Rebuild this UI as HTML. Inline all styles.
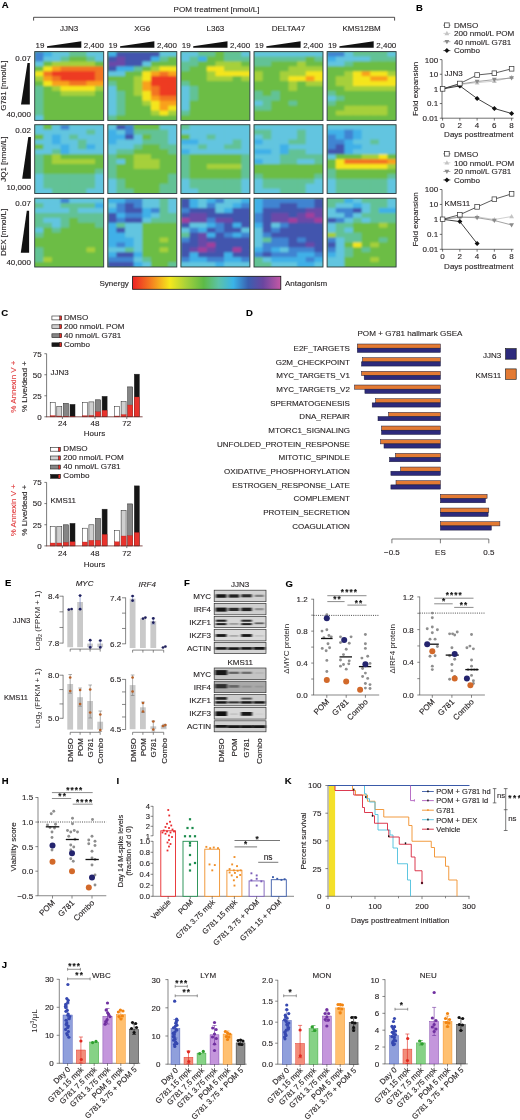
<!DOCTYPE html>
<html lang="en"><head><meta charset="utf-8"><title>Figure</title>
<style>
html,body{margin:0;padding:0;background:#fff;}
body{width:520px;height:1120px;overflow:hidden;}
svg{display:block;font-family:"Liberation Sans",Arial,sans-serif;}
</style></head><body>
<svg width="520" height="1120" viewBox="0 0 520 1120">
<rect width="520" height="1120" fill="#fff"/>
<defs><filter id="hb" x="-5%" y="-5%" width="110%" height="110%"><feGaussianBlur stdDeviation="0.9"/></filter>
<clipPath id="hc0"><rect x="34.7" y="51.6" width="69.0" height="68.8"/></clipPath>
<clipPath id="hc1"><rect x="107.8" y="51.6" width="69.0" height="68.8"/></clipPath>
<clipPath id="hc2"><rect x="180.9" y="51.6" width="69.0" height="68.8"/></clipPath>
<clipPath id="hc3"><rect x="254.0" y="51.6" width="69.0" height="68.8"/></clipPath>
<clipPath id="hc4"><rect x="327.1" y="51.6" width="69.0" height="68.8"/></clipPath>
<clipPath id="hc5"><rect x="34.7" y="124.7" width="69.0" height="68.8"/></clipPath>
<clipPath id="hc6"><rect x="107.8" y="124.7" width="69.0" height="68.8"/></clipPath>
<clipPath id="hc7"><rect x="180.9" y="124.7" width="69.0" height="68.8"/></clipPath>
<clipPath id="hc8"><rect x="254.0" y="124.7" width="69.0" height="68.8"/></clipPath>
<clipPath id="hc9"><rect x="327.1" y="124.7" width="69.0" height="68.8"/></clipPath>
<clipPath id="hc10"><rect x="34.7" y="198.2" width="69.0" height="68.8"/></clipPath>
<clipPath id="hc11"><rect x="107.8" y="198.2" width="69.0" height="68.8"/></clipPath>
<clipPath id="hc12"><rect x="180.9" y="198.2" width="69.0" height="68.8"/></clipPath>
<clipPath id="hc13"><rect x="254.0" y="198.2" width="69.0" height="68.8"/></clipPath>
<clipPath id="hc14"><rect x="327.1" y="198.2" width="69.0" height="68.8"/></clipPath>
<linearGradient id="cb" x1="0" x2="1" y1="0" y2="0"><stop offset="0" stop-color="#ed2224"/><stop offset="0.12" stop-color="#f47b20"/><stop offset="0.25" stop-color="#f6e81c"/><stop offset="0.36" stop-color="#a8d13a"/><stop offset="0.48" stop-color="#5dba47"/><stop offset="0.58" stop-color="#5cc3a8"/><stop offset="0.68" stop-color="#3ab4e8"/><stop offset="0.78" stop-color="#3a5fb0"/><stop offset="0.88" stop-color="#6a46a0"/><stop offset="1" stop-color="#c558a5"/></linearGradient>
</defs>
<text x="1.80" y="8.00" font-size="9.5" font-weight="bold" fill="#000" stroke="#000" stroke-width="0.12">A</text>
<text x="173.50" y="11.60" font-size="8.1" fill="#231f20" stroke="#231f20" stroke-width="0.12">POM treatment [nmol/L]</text>
<path d="M33.6 20.6 V17.3 H394.6 V20.6" fill="none" stroke="#231f20" stroke-width="0.8"/>
<text x="69.20" y="30.60" font-size="8" text-anchor="middle" fill="#231f20" stroke="#231f20" stroke-width="0.12">JJN3</text>
<text x="35.50" y="48.30" font-size="8" fill="#231f20" stroke="#231f20" stroke-width="0.12">19</text>
<text x="103.90" y="48.30" font-size="8" text-anchor="end" fill="#231f20" stroke="#231f20" stroke-width="0.12">2,400</text>
<polygon points="47.0,47.7 81.3,47.7 81.3,41.2 47.0,46.3" fill="#111"/>
<text x="142.30" y="30.60" font-size="8" text-anchor="middle" fill="#231f20" stroke="#231f20" stroke-width="0.12">XG6</text>
<text x="108.60" y="48.30" font-size="8" fill="#231f20" stroke="#231f20" stroke-width="0.12">19</text>
<text x="177.00" y="48.30" font-size="8" text-anchor="end" fill="#231f20" stroke="#231f20" stroke-width="0.12">2,400</text>
<polygon points="120.1,47.7 154.4,47.7 154.4,41.2 120.1,46.3" fill="#111"/>
<text x="215.40" y="30.60" font-size="8" text-anchor="middle" fill="#231f20" stroke="#231f20" stroke-width="0.12">L363</text>
<text x="181.70" y="48.30" font-size="8" fill="#231f20" stroke="#231f20" stroke-width="0.12">19</text>
<text x="250.10" y="48.30" font-size="8" text-anchor="end" fill="#231f20" stroke="#231f20" stroke-width="0.12">2,400</text>
<polygon points="193.2,47.7 227.5,47.7 227.5,41.2 193.2,46.3" fill="#111"/>
<text x="288.50" y="30.60" font-size="8" text-anchor="middle" fill="#231f20" stroke="#231f20" stroke-width="0.12">DELTA47</text>
<text x="254.80" y="48.30" font-size="8" fill="#231f20" stroke="#231f20" stroke-width="0.12">19</text>
<text x="323.20" y="48.30" font-size="8" text-anchor="end" fill="#231f20" stroke="#231f20" stroke-width="0.12">2,400</text>
<polygon points="266.3,47.7 300.6,47.7 300.6,41.2 266.3,46.3" fill="#111"/>
<text x="361.60" y="30.60" font-size="8" text-anchor="middle" fill="#231f20" stroke="#231f20" stroke-width="0.12">KMS12BM</text>
<text x="327.90" y="48.30" font-size="8" fill="#231f20" stroke="#231f20" stroke-width="0.12">19</text>
<text x="396.30" y="48.30" font-size="8" text-anchor="end" fill="#231f20" stroke="#231f20" stroke-width="0.12">2,400</text>
<polygon points="339.4,47.7 373.7,47.7 373.7,41.2 339.4,46.3" fill="#111"/>
<g clip-path="url(#hc0)"><g filter="url(#hb)">
<rect x="32.70" y="49.60" width="73.00" height="72.80" fill="#6cbd45"/>
<rect x="34.70" y="51.60" width="9.32" height="5.61" fill="#3f84d2"/>
<rect x="43.33" y="51.60" width="9.32" height="5.61" fill="#3fb0e8"/>
<rect x="51.95" y="51.60" width="9.32" height="5.61" fill="#62c5e0"/>
<rect x="60.58" y="51.60" width="9.32" height="5.61" fill="#62c5e0"/>
<rect x="69.20" y="51.60" width="9.32" height="5.61" fill="#62c296"/>
<rect x="77.83" y="51.60" width="9.32" height="5.61" fill="#62c296"/>
<rect x="86.45" y="51.60" width="9.32" height="5.61" fill="#62c5e0"/>
<rect x="95.08" y="51.60" width="9.32" height="5.61" fill="#62c5e0"/>
<rect x="34.70" y="56.51" width="9.32" height="5.61" fill="#3f84d2"/>
<rect x="43.33" y="56.51" width="9.32" height="5.61" fill="#62c5e0"/>
<rect x="51.95" y="56.51" width="9.32" height="5.61" fill="#62c5e0"/>
<rect x="60.58" y="56.51" width="9.32" height="5.61" fill="#62c296"/>
<rect x="69.20" y="56.51" width="9.32" height="5.61" fill="#6cbd45"/>
<rect x="77.83" y="56.51" width="9.32" height="5.61" fill="#6cbd45"/>
<rect x="86.45" y="56.51" width="9.32" height="5.61" fill="#62c296"/>
<rect x="95.08" y="56.51" width="9.32" height="5.61" fill="#62c5e0"/>
<rect x="34.70" y="61.43" width="9.32" height="5.61" fill="#62c5e0"/>
<rect x="43.33" y="61.43" width="9.32" height="5.61" fill="#6cbd45"/>
<rect x="51.95" y="61.43" width="9.32" height="5.61" fill="#a6d03b"/>
<rect x="60.58" y="61.43" width="9.32" height="5.61" fill="#a6d03b"/>
<rect x="69.20" y="61.43" width="9.32" height="5.61" fill="#a6d03b"/>
<rect x="77.83" y="61.43" width="9.32" height="5.61" fill="#a6d03b"/>
<rect x="86.45" y="61.43" width="9.32" height="5.61" fill="#a6d03b"/>
<rect x="95.08" y="61.43" width="9.32" height="5.61" fill="#6cbd45"/>
<rect x="34.70" y="66.34" width="9.32" height="5.61" fill="#6cbd45"/>
<rect x="43.33" y="66.34" width="9.32" height="5.61" fill="#f5e51c"/>
<rect x="51.95" y="66.34" width="9.32" height="5.61" fill="#f9a11b"/>
<rect x="60.58" y="66.34" width="9.32" height="5.61" fill="#f37520"/>
<rect x="69.20" y="66.34" width="9.32" height="5.61" fill="#f37520"/>
<rect x="77.83" y="66.34" width="9.32" height="5.61" fill="#f37520"/>
<rect x="86.45" y="66.34" width="9.32" height="5.61" fill="#f37520"/>
<rect x="95.08" y="66.34" width="9.32" height="5.61" fill="#f37520"/>
<rect x="34.70" y="71.26" width="9.32" height="5.61" fill="#f5e51c"/>
<rect x="43.33" y="71.26" width="9.32" height="5.61" fill="#f37520"/>
<rect x="51.95" y="71.26" width="9.32" height="5.61" fill="#ee3a24"/>
<rect x="60.58" y="71.26" width="9.32" height="5.61" fill="#ee3a24"/>
<rect x="69.20" y="71.26" width="9.32" height="5.61" fill="#ee3a24"/>
<rect x="77.83" y="71.26" width="9.32" height="5.61" fill="#ee3a24"/>
<rect x="86.45" y="71.26" width="9.32" height="5.61" fill="#ee3a24"/>
<rect x="95.08" y="71.26" width="9.32" height="5.61" fill="#f37520"/>
<rect x="34.70" y="76.17" width="9.32" height="5.61" fill="#a6d03b"/>
<rect x="43.33" y="76.17" width="9.32" height="5.61" fill="#f9a11b"/>
<rect x="51.95" y="76.17" width="9.32" height="5.61" fill="#f37520"/>
<rect x="60.58" y="76.17" width="9.32" height="5.61" fill="#ee3a24"/>
<rect x="69.20" y="76.17" width="9.32" height="5.61" fill="#ee3a24"/>
<rect x="77.83" y="76.17" width="9.32" height="5.61" fill="#ee3a24"/>
<rect x="86.45" y="76.17" width="9.32" height="5.61" fill="#ee3a24"/>
<rect x="95.08" y="76.17" width="9.32" height="5.61" fill="#f37520"/>
<rect x="34.70" y="81.09" width="9.32" height="5.61" fill="#6cbd45"/>
<rect x="43.33" y="81.09" width="9.32" height="5.61" fill="#f5e51c"/>
<rect x="51.95" y="81.09" width="9.32" height="5.61" fill="#f9a11b"/>
<rect x="60.58" y="81.09" width="9.32" height="5.61" fill="#f9a11b"/>
<rect x="69.20" y="81.09" width="9.32" height="5.61" fill="#f37520"/>
<rect x="77.83" y="81.09" width="9.32" height="5.61" fill="#f37520"/>
<rect x="86.45" y="81.09" width="9.32" height="5.61" fill="#f9a11b"/>
<rect x="95.08" y="81.09" width="9.32" height="5.61" fill="#f9a11b"/>
<rect x="34.70" y="86.00" width="9.32" height="5.61" fill="#62c296"/>
<rect x="43.33" y="86.00" width="9.32" height="5.61" fill="#6cbd45"/>
<rect x="51.95" y="86.00" width="9.32" height="5.61" fill="#a6d03b"/>
<rect x="60.58" y="86.00" width="9.32" height="5.61" fill="#f5e51c"/>
<rect x="69.20" y="86.00" width="9.32" height="5.61" fill="#f5e51c"/>
<rect x="77.83" y="86.00" width="9.32" height="5.61" fill="#f5e51c"/>
<rect x="86.45" y="86.00" width="9.32" height="5.61" fill="#f5e51c"/>
<rect x="95.08" y="86.00" width="9.32" height="5.61" fill="#a6d03b"/>
<rect x="34.70" y="90.91" width="9.32" height="5.61" fill="#62c296"/>
<rect x="43.33" y="90.91" width="9.32" height="5.61" fill="#6cbd45"/>
<rect x="51.95" y="90.91" width="9.32" height="5.61" fill="#6cbd45"/>
<rect x="60.58" y="90.91" width="9.32" height="5.61" fill="#a6d03b"/>
<rect x="69.20" y="90.91" width="9.32" height="5.61" fill="#a6d03b"/>
<rect x="77.83" y="90.91" width="9.32" height="5.61" fill="#a6d03b"/>
<rect x="86.45" y="90.91" width="9.32" height="5.61" fill="#a6d03b"/>
<rect x="95.08" y="90.91" width="9.32" height="5.61" fill="#6cbd45"/>
<rect x="34.70" y="95.83" width="9.32" height="5.61" fill="#62c296"/>
<rect x="43.33" y="95.83" width="9.32" height="5.61" fill="#6cbd45"/>
<rect x="51.95" y="95.83" width="9.32" height="5.61" fill="#6cbd45"/>
<rect x="60.58" y="95.83" width="9.32" height="5.61" fill="#6cbd45"/>
<rect x="69.20" y="95.83" width="9.32" height="5.61" fill="#6cbd45"/>
<rect x="77.83" y="95.83" width="9.32" height="5.61" fill="#6cbd45"/>
<rect x="86.45" y="95.83" width="9.32" height="5.61" fill="#6cbd45"/>
<rect x="95.08" y="95.83" width="9.32" height="5.61" fill="#6cbd45"/>
<rect x="34.70" y="100.74" width="9.32" height="5.61" fill="#62c296"/>
<rect x="43.33" y="100.74" width="9.32" height="5.61" fill="#6cbd45"/>
<rect x="51.95" y="100.74" width="9.32" height="5.61" fill="#6cbd45"/>
<rect x="60.58" y="100.74" width="9.32" height="5.61" fill="#6cbd45"/>
<rect x="69.20" y="100.74" width="9.32" height="5.61" fill="#6cbd45"/>
<rect x="77.83" y="100.74" width="9.32" height="5.61" fill="#6cbd45"/>
<rect x="86.45" y="100.74" width="9.32" height="5.61" fill="#6cbd45"/>
<rect x="95.08" y="100.74" width="9.32" height="5.61" fill="#6cbd45"/>
<rect x="34.70" y="105.66" width="9.32" height="5.61" fill="#62c296"/>
<rect x="43.33" y="105.66" width="9.32" height="5.61" fill="#6cbd45"/>
<rect x="51.95" y="105.66" width="9.32" height="5.61" fill="#6cbd45"/>
<rect x="60.58" y="105.66" width="9.32" height="5.61" fill="#6cbd45"/>
<rect x="69.20" y="105.66" width="9.32" height="5.61" fill="#6cbd45"/>
<rect x="77.83" y="105.66" width="9.32" height="5.61" fill="#6cbd45"/>
<rect x="86.45" y="105.66" width="9.32" height="5.61" fill="#6cbd45"/>
<rect x="95.08" y="105.66" width="9.32" height="5.61" fill="#6cbd45"/>
<rect x="34.70" y="110.57" width="9.32" height="5.61" fill="#62c296"/>
<rect x="43.33" y="110.57" width="9.32" height="5.61" fill="#6cbd45"/>
<rect x="51.95" y="110.57" width="9.32" height="5.61" fill="#6cbd45"/>
<rect x="60.58" y="110.57" width="9.32" height="5.61" fill="#6cbd45"/>
<rect x="69.20" y="110.57" width="9.32" height="5.61" fill="#6cbd45"/>
<rect x="77.83" y="110.57" width="9.32" height="5.61" fill="#6cbd45"/>
<rect x="86.45" y="110.57" width="9.32" height="5.61" fill="#6cbd45"/>
<rect x="95.08" y="110.57" width="9.32" height="5.61" fill="#6cbd45"/>
<rect x="34.70" y="115.49" width="9.32" height="5.61" fill="#62c5e0"/>
<rect x="43.33" y="115.49" width="9.32" height="5.61" fill="#6cbd45"/>
<rect x="51.95" y="115.49" width="9.32" height="5.61" fill="#6cbd45"/>
<rect x="60.58" y="115.49" width="9.32" height="5.61" fill="#6cbd45"/>
<rect x="69.20" y="115.49" width="9.32" height="5.61" fill="#6cbd45"/>
<rect x="77.83" y="115.49" width="9.32" height="5.61" fill="#6cbd45"/>
<rect x="86.45" y="115.49" width="9.32" height="5.61" fill="#6cbd45"/>
<rect x="95.08" y="115.49" width="9.32" height="5.61" fill="#6cbd45"/>
</g></g>
<rect x="34.70" y="51.60" width="69.00" height="68.80" fill="none" stroke="#2b3a42" stroke-width="0.9"/>
<g clip-path="url(#hc1)"><g filter="url(#hb)">
<rect x="105.80" y="49.60" width="73.00" height="72.80" fill="#6cbd45"/>
<rect x="107.80" y="51.60" width="9.32" height="5.61" fill="#3fb0e8"/>
<rect x="116.42" y="51.60" width="9.32" height="5.61" fill="#4254ae"/>
<rect x="125.05" y="51.60" width="9.32" height="5.61" fill="#4254ae"/>
<rect x="133.68" y="51.60" width="9.32" height="5.61" fill="#4254ae"/>
<rect x="142.30" y="51.60" width="9.32" height="5.61" fill="#4254ae"/>
<rect x="150.93" y="51.60" width="9.32" height="5.61" fill="#4254ae"/>
<rect x="159.55" y="51.60" width="9.32" height="5.61" fill="#62c5e0"/>
<rect x="168.18" y="51.60" width="9.32" height="5.61" fill="#62c5e0"/>
<rect x="107.80" y="56.51" width="9.32" height="5.61" fill="#4254ae"/>
<rect x="116.42" y="56.51" width="9.32" height="5.61" fill="#6a4aa8"/>
<rect x="125.05" y="56.51" width="9.32" height="5.61" fill="#4254ae"/>
<rect x="133.68" y="56.51" width="9.32" height="5.61" fill="#4254ae"/>
<rect x="142.30" y="56.51" width="9.32" height="5.61" fill="#4254ae"/>
<rect x="150.93" y="56.51" width="9.32" height="5.61" fill="#3fb0e8"/>
<rect x="159.55" y="56.51" width="9.32" height="5.61" fill="#62c296"/>
<rect x="168.18" y="56.51" width="9.32" height="5.61" fill="#6cbd45"/>
<rect x="107.80" y="61.43" width="9.32" height="5.61" fill="#6a4aa8"/>
<rect x="116.42" y="61.43" width="9.32" height="5.61" fill="#6a4aa8"/>
<rect x="125.05" y="61.43" width="9.32" height="5.61" fill="#4254ae"/>
<rect x="133.68" y="61.43" width="9.32" height="5.61" fill="#4254ae"/>
<rect x="142.30" y="61.43" width="9.32" height="5.61" fill="#62c5e0"/>
<rect x="150.93" y="61.43" width="9.32" height="5.61" fill="#6cbd45"/>
<rect x="159.55" y="61.43" width="9.32" height="5.61" fill="#6cbd45"/>
<rect x="168.18" y="61.43" width="9.32" height="5.61" fill="#6cbd45"/>
<rect x="107.80" y="66.34" width="9.32" height="5.61" fill="#4254ae"/>
<rect x="116.42" y="66.34" width="9.32" height="5.61" fill="#3fb0e8"/>
<rect x="125.05" y="66.34" width="9.32" height="5.61" fill="#3fb0e8"/>
<rect x="133.68" y="66.34" width="9.32" height="5.61" fill="#62c296"/>
<rect x="142.30" y="66.34" width="9.32" height="5.61" fill="#6cbd45"/>
<rect x="150.93" y="66.34" width="9.32" height="5.61" fill="#a6d03b"/>
<rect x="159.55" y="66.34" width="9.32" height="5.61" fill="#f5e51c"/>
<rect x="168.18" y="66.34" width="9.32" height="5.61" fill="#f5e51c"/>
<rect x="107.80" y="71.26" width="9.32" height="5.61" fill="#62c5e0"/>
<rect x="116.42" y="71.26" width="9.32" height="5.61" fill="#62c5e0"/>
<rect x="125.05" y="71.26" width="9.32" height="5.61" fill="#6cbd45"/>
<rect x="133.68" y="71.26" width="9.32" height="5.61" fill="#6cbd45"/>
<rect x="142.30" y="71.26" width="9.32" height="5.61" fill="#f5e51c"/>
<rect x="150.93" y="71.26" width="9.32" height="5.61" fill="#f9a11b"/>
<rect x="159.55" y="71.26" width="9.32" height="5.61" fill="#f37520"/>
<rect x="168.18" y="71.26" width="9.32" height="5.61" fill="#f9a11b"/>
<rect x="107.80" y="76.17" width="9.32" height="5.61" fill="#6cbd45"/>
<rect x="116.42" y="76.17" width="9.32" height="5.61" fill="#6cbd45"/>
<rect x="125.05" y="76.17" width="9.32" height="5.61" fill="#6cbd45"/>
<rect x="133.68" y="76.17" width="9.32" height="5.61" fill="#a6d03b"/>
<rect x="142.30" y="76.17" width="9.32" height="5.61" fill="#f5e51c"/>
<rect x="150.93" y="76.17" width="9.32" height="5.61" fill="#ee3a24"/>
<rect x="159.55" y="76.17" width="9.32" height="5.61" fill="#ee3a24"/>
<rect x="168.18" y="76.17" width="9.32" height="5.61" fill="#ee3a24"/>
<rect x="107.80" y="81.09" width="9.32" height="5.61" fill="#62c296"/>
<rect x="116.42" y="81.09" width="9.32" height="5.61" fill="#6cbd45"/>
<rect x="125.05" y="81.09" width="9.32" height="5.61" fill="#6cbd45"/>
<rect x="133.68" y="81.09" width="9.32" height="5.61" fill="#a6d03b"/>
<rect x="142.30" y="81.09" width="9.32" height="5.61" fill="#f9a11b"/>
<rect x="150.93" y="81.09" width="9.32" height="5.61" fill="#ee3a24"/>
<rect x="159.55" y="81.09" width="9.32" height="5.61" fill="#ee3a24"/>
<rect x="168.18" y="81.09" width="9.32" height="5.61" fill="#ee3a24"/>
<rect x="107.80" y="86.00" width="9.32" height="5.61" fill="#62c5e0"/>
<rect x="116.42" y="86.00" width="9.32" height="5.61" fill="#6cbd45"/>
<rect x="125.05" y="86.00" width="9.32" height="5.61" fill="#6cbd45"/>
<rect x="133.68" y="86.00" width="9.32" height="5.61" fill="#a6d03b"/>
<rect x="142.30" y="86.00" width="9.32" height="5.61" fill="#f9a11b"/>
<rect x="150.93" y="86.00" width="9.32" height="5.61" fill="#f37520"/>
<rect x="159.55" y="86.00" width="9.32" height="5.61" fill="#ee3a24"/>
<rect x="168.18" y="86.00" width="9.32" height="5.61" fill="#ee3a24"/>
<rect x="107.80" y="90.91" width="9.32" height="5.61" fill="#62c5e0"/>
<rect x="116.42" y="90.91" width="9.32" height="5.61" fill="#62c296"/>
<rect x="125.05" y="90.91" width="9.32" height="5.61" fill="#6cbd45"/>
<rect x="133.68" y="90.91" width="9.32" height="5.61" fill="#a6d03b"/>
<rect x="142.30" y="90.91" width="9.32" height="5.61" fill="#f5e51c"/>
<rect x="150.93" y="90.91" width="9.32" height="5.61" fill="#f37520"/>
<rect x="159.55" y="90.91" width="9.32" height="5.61" fill="#ee3a24"/>
<rect x="168.18" y="90.91" width="9.32" height="5.61" fill="#ee3a24"/>
<rect x="107.80" y="95.83" width="9.32" height="5.61" fill="#62c5e0"/>
<rect x="116.42" y="95.83" width="9.32" height="5.61" fill="#62c296"/>
<rect x="125.05" y="95.83" width="9.32" height="5.61" fill="#6cbd45"/>
<rect x="133.68" y="95.83" width="9.32" height="5.61" fill="#6cbd45"/>
<rect x="142.30" y="95.83" width="9.32" height="5.61" fill="#f5e51c"/>
<rect x="150.93" y="95.83" width="9.32" height="5.61" fill="#f9a11b"/>
<rect x="159.55" y="95.83" width="9.32" height="5.61" fill="#f37520"/>
<rect x="168.18" y="95.83" width="9.32" height="5.61" fill="#f37520"/>
<rect x="107.80" y="100.74" width="9.32" height="5.61" fill="#62c5e0"/>
<rect x="116.42" y="100.74" width="9.32" height="5.61" fill="#62c296"/>
<rect x="125.05" y="100.74" width="9.32" height="5.61" fill="#6cbd45"/>
<rect x="133.68" y="100.74" width="9.32" height="5.61" fill="#6cbd45"/>
<rect x="142.30" y="100.74" width="9.32" height="5.61" fill="#a6d03b"/>
<rect x="150.93" y="100.74" width="9.32" height="5.61" fill="#f5e51c"/>
<rect x="159.55" y="100.74" width="9.32" height="5.61" fill="#f9a11b"/>
<rect x="168.18" y="100.74" width="9.32" height="5.61" fill="#f9a11b"/>
<rect x="107.80" y="105.66" width="9.32" height="5.61" fill="#62c5e0"/>
<rect x="116.42" y="105.66" width="9.32" height="5.61" fill="#62c296"/>
<rect x="125.05" y="105.66" width="9.32" height="5.61" fill="#6cbd45"/>
<rect x="133.68" y="105.66" width="9.32" height="5.61" fill="#6cbd45"/>
<rect x="142.30" y="105.66" width="9.32" height="5.61" fill="#6cbd45"/>
<rect x="150.93" y="105.66" width="9.32" height="5.61" fill="#f5e51c"/>
<rect x="159.55" y="105.66" width="9.32" height="5.61" fill="#f9a11b"/>
<rect x="168.18" y="105.66" width="9.32" height="5.61" fill="#f5e51c"/>
<rect x="107.80" y="110.57" width="9.32" height="5.61" fill="#62c5e0"/>
<rect x="116.42" y="110.57" width="9.32" height="5.61" fill="#62c296"/>
<rect x="125.05" y="110.57" width="9.32" height="5.61" fill="#6cbd45"/>
<rect x="133.68" y="110.57" width="9.32" height="5.61" fill="#6cbd45"/>
<rect x="142.30" y="110.57" width="9.32" height="5.61" fill="#6cbd45"/>
<rect x="150.93" y="110.57" width="9.32" height="5.61" fill="#a6d03b"/>
<rect x="159.55" y="110.57" width="9.32" height="5.61" fill="#f5e51c"/>
<rect x="168.18" y="110.57" width="9.32" height="5.61" fill="#a6d03b"/>
<rect x="107.80" y="115.49" width="9.32" height="5.61" fill="#62c296"/>
<rect x="116.42" y="115.49" width="9.32" height="5.61" fill="#6cbd45"/>
<rect x="125.05" y="115.49" width="9.32" height="5.61" fill="#6cbd45"/>
<rect x="133.68" y="115.49" width="9.32" height="5.61" fill="#6cbd45"/>
<rect x="142.30" y="115.49" width="9.32" height="5.61" fill="#6cbd45"/>
<rect x="150.93" y="115.49" width="9.32" height="5.61" fill="#6cbd45"/>
<rect x="159.55" y="115.49" width="9.32" height="5.61" fill="#6cbd45"/>
<rect x="168.18" y="115.49" width="9.32" height="5.61" fill="#6cbd45"/>
</g></g>
<rect x="107.80" y="51.60" width="69.00" height="68.80" fill="none" stroke="#2b3a42" stroke-width="0.9"/>
<g clip-path="url(#hc2)"><g filter="url(#hb)">
<rect x="178.90" y="49.60" width="73.00" height="72.80" fill="#6cbd45"/>
<rect x="180.90" y="51.60" width="9.32" height="5.61" fill="#62c5e0"/>
<rect x="189.53" y="51.60" width="9.32" height="5.61" fill="#62c5e0"/>
<rect x="198.15" y="51.60" width="9.32" height="5.61" fill="#62c296"/>
<rect x="206.78" y="51.60" width="9.32" height="5.61" fill="#62c296"/>
<rect x="215.40" y="51.60" width="9.32" height="5.61" fill="#6cbd45"/>
<rect x="224.03" y="51.60" width="9.32" height="5.61" fill="#62c296"/>
<rect x="232.65" y="51.60" width="9.32" height="5.61" fill="#62c296"/>
<rect x="241.28" y="51.60" width="9.32" height="5.61" fill="#62c5e0"/>
<rect x="180.90" y="56.51" width="9.32" height="5.61" fill="#62c5e0"/>
<rect x="189.53" y="56.51" width="9.32" height="5.61" fill="#62c296"/>
<rect x="198.15" y="56.51" width="9.32" height="5.61" fill="#3fb0e8"/>
<rect x="206.78" y="56.51" width="9.32" height="5.61" fill="#6cbd45"/>
<rect x="215.40" y="56.51" width="9.32" height="5.61" fill="#6cbd45"/>
<rect x="224.03" y="56.51" width="9.32" height="5.61" fill="#62c296"/>
<rect x="232.65" y="56.51" width="9.32" height="5.61" fill="#62c296"/>
<rect x="241.28" y="56.51" width="9.32" height="5.61" fill="#62c296"/>
<rect x="180.90" y="61.43" width="9.32" height="5.61" fill="#62c296"/>
<rect x="189.53" y="61.43" width="9.32" height="5.61" fill="#62c296"/>
<rect x="198.15" y="61.43" width="9.32" height="5.61" fill="#6cbd45"/>
<rect x="206.78" y="61.43" width="9.32" height="5.61" fill="#6cbd45"/>
<rect x="215.40" y="61.43" width="9.32" height="5.61" fill="#a6d03b"/>
<rect x="224.03" y="61.43" width="9.32" height="5.61" fill="#a6d03b"/>
<rect x="232.65" y="61.43" width="9.32" height="5.61" fill="#a6d03b"/>
<rect x="241.28" y="61.43" width="9.32" height="5.61" fill="#6cbd45"/>
<rect x="180.90" y="66.34" width="9.32" height="5.61" fill="#62c296"/>
<rect x="189.53" y="66.34" width="9.32" height="5.61" fill="#6cbd45"/>
<rect x="198.15" y="66.34" width="9.32" height="5.61" fill="#6cbd45"/>
<rect x="206.78" y="66.34" width="9.32" height="5.61" fill="#f5e51c"/>
<rect x="215.40" y="66.34" width="9.32" height="5.61" fill="#f5e51c"/>
<rect x="224.03" y="66.34" width="9.32" height="5.61" fill="#a6d03b"/>
<rect x="232.65" y="66.34" width="9.32" height="5.61" fill="#a6d03b"/>
<rect x="241.28" y="66.34" width="9.32" height="5.61" fill="#a6d03b"/>
<rect x="180.90" y="71.26" width="9.32" height="5.61" fill="#6cbd45"/>
<rect x="189.53" y="71.26" width="9.32" height="5.61" fill="#6cbd45"/>
<rect x="198.15" y="71.26" width="9.32" height="5.61" fill="#6cbd45"/>
<rect x="206.78" y="71.26" width="9.32" height="5.61" fill="#a6d03b"/>
<rect x="215.40" y="71.26" width="9.32" height="5.61" fill="#f5e51c"/>
<rect x="224.03" y="71.26" width="9.32" height="5.61" fill="#f5e51c"/>
<rect x="232.65" y="71.26" width="9.32" height="5.61" fill="#f5e51c"/>
<rect x="241.28" y="71.26" width="9.32" height="5.61" fill="#f5e51c"/>
<rect x="180.90" y="76.17" width="9.32" height="5.61" fill="#6cbd45"/>
<rect x="189.53" y="76.17" width="9.32" height="5.61" fill="#6cbd45"/>
<rect x="198.15" y="76.17" width="9.32" height="5.61" fill="#6cbd45"/>
<rect x="206.78" y="76.17" width="9.32" height="5.61" fill="#a6d03b"/>
<rect x="215.40" y="76.17" width="9.32" height="5.61" fill="#a6d03b"/>
<rect x="224.03" y="76.17" width="9.32" height="5.61" fill="#a6d03b"/>
<rect x="232.65" y="76.17" width="9.32" height="5.61" fill="#6cbd45"/>
<rect x="241.28" y="76.17" width="9.32" height="5.61" fill="#a6d03b"/>
<rect x="180.90" y="81.09" width="9.32" height="5.61" fill="#62c296"/>
<rect x="189.53" y="81.09" width="9.32" height="5.61" fill="#6cbd45"/>
<rect x="198.15" y="81.09" width="9.32" height="5.61" fill="#6cbd45"/>
<rect x="206.78" y="81.09" width="9.32" height="5.61" fill="#6cbd45"/>
<rect x="215.40" y="81.09" width="9.32" height="5.61" fill="#6cbd45"/>
<rect x="224.03" y="81.09" width="9.32" height="5.61" fill="#6cbd45"/>
<rect x="232.65" y="81.09" width="9.32" height="5.61" fill="#6cbd45"/>
<rect x="241.28" y="81.09" width="9.32" height="5.61" fill="#6cbd45"/>
<rect x="180.90" y="86.00" width="9.32" height="5.61" fill="#62c5e0"/>
<rect x="189.53" y="86.00" width="9.32" height="5.61" fill="#62c296"/>
<rect x="198.15" y="86.00" width="9.32" height="5.61" fill="#6cbd45"/>
<rect x="206.78" y="86.00" width="9.32" height="5.61" fill="#6cbd45"/>
<rect x="215.40" y="86.00" width="9.32" height="5.61" fill="#6cbd45"/>
<rect x="224.03" y="86.00" width="9.32" height="5.61" fill="#6cbd45"/>
<rect x="232.65" y="86.00" width="9.32" height="5.61" fill="#6cbd45"/>
<rect x="241.28" y="86.00" width="9.32" height="5.61" fill="#6cbd45"/>
<rect x="180.90" y="90.91" width="9.32" height="5.61" fill="#62c5e0"/>
<rect x="189.53" y="90.91" width="9.32" height="5.61" fill="#62c296"/>
<rect x="198.15" y="90.91" width="9.32" height="5.61" fill="#6cbd45"/>
<rect x="206.78" y="90.91" width="9.32" height="5.61" fill="#6cbd45"/>
<rect x="215.40" y="90.91" width="9.32" height="5.61" fill="#6cbd45"/>
<rect x="224.03" y="90.91" width="9.32" height="5.61" fill="#6cbd45"/>
<rect x="232.65" y="90.91" width="9.32" height="5.61" fill="#6cbd45"/>
<rect x="241.28" y="90.91" width="9.32" height="5.61" fill="#6cbd45"/>
<rect x="180.90" y="95.83" width="9.32" height="5.61" fill="#62c5e0"/>
<rect x="189.53" y="95.83" width="9.32" height="5.61" fill="#62c296"/>
<rect x="198.15" y="95.83" width="9.32" height="5.61" fill="#6cbd45"/>
<rect x="206.78" y="95.83" width="9.32" height="5.61" fill="#6cbd45"/>
<rect x="215.40" y="95.83" width="9.32" height="5.61" fill="#6cbd45"/>
<rect x="224.03" y="95.83" width="9.32" height="5.61" fill="#6cbd45"/>
<rect x="232.65" y="95.83" width="9.32" height="5.61" fill="#6cbd45"/>
<rect x="241.28" y="95.83" width="9.32" height="5.61" fill="#6cbd45"/>
<rect x="180.90" y="100.74" width="9.32" height="5.61" fill="#62c5e0"/>
<rect x="189.53" y="100.74" width="9.32" height="5.61" fill="#6cbd45"/>
<rect x="198.15" y="100.74" width="9.32" height="5.61" fill="#6cbd45"/>
<rect x="206.78" y="100.74" width="9.32" height="5.61" fill="#6cbd45"/>
<rect x="215.40" y="100.74" width="9.32" height="5.61" fill="#6cbd45"/>
<rect x="224.03" y="100.74" width="9.32" height="5.61" fill="#6cbd45"/>
<rect x="232.65" y="100.74" width="9.32" height="5.61" fill="#6cbd45"/>
<rect x="241.28" y="100.74" width="9.32" height="5.61" fill="#6cbd45"/>
<rect x="180.90" y="105.66" width="9.32" height="5.61" fill="#62c5e0"/>
<rect x="189.53" y="105.66" width="9.32" height="5.61" fill="#6cbd45"/>
<rect x="198.15" y="105.66" width="9.32" height="5.61" fill="#6cbd45"/>
<rect x="206.78" y="105.66" width="9.32" height="5.61" fill="#6cbd45"/>
<rect x="215.40" y="105.66" width="9.32" height="5.61" fill="#6cbd45"/>
<rect x="224.03" y="105.66" width="9.32" height="5.61" fill="#6cbd45"/>
<rect x="232.65" y="105.66" width="9.32" height="5.61" fill="#6cbd45"/>
<rect x="241.28" y="105.66" width="9.32" height="5.61" fill="#6cbd45"/>
<rect x="180.90" y="110.57" width="9.32" height="5.61" fill="#62c296"/>
<rect x="189.53" y="110.57" width="9.32" height="5.61" fill="#6cbd45"/>
<rect x="198.15" y="110.57" width="9.32" height="5.61" fill="#6cbd45"/>
<rect x="206.78" y="110.57" width="9.32" height="5.61" fill="#6cbd45"/>
<rect x="215.40" y="110.57" width="9.32" height="5.61" fill="#6cbd45"/>
<rect x="224.03" y="110.57" width="9.32" height="5.61" fill="#6cbd45"/>
<rect x="232.65" y="110.57" width="9.32" height="5.61" fill="#6cbd45"/>
<rect x="241.28" y="110.57" width="9.32" height="5.61" fill="#6cbd45"/>
<rect x="180.90" y="115.49" width="9.32" height="5.61" fill="#6cbd45"/>
<rect x="189.53" y="115.49" width="9.32" height="5.61" fill="#6cbd45"/>
<rect x="198.15" y="115.49" width="9.32" height="5.61" fill="#6cbd45"/>
<rect x="206.78" y="115.49" width="9.32" height="5.61" fill="#6cbd45"/>
<rect x="215.40" y="115.49" width="9.32" height="5.61" fill="#6cbd45"/>
<rect x="224.03" y="115.49" width="9.32" height="5.61" fill="#6cbd45"/>
<rect x="232.65" y="115.49" width="9.32" height="5.61" fill="#6cbd45"/>
<rect x="241.28" y="115.49" width="9.32" height="5.61" fill="#6cbd45"/>
</g></g>
<rect x="180.90" y="51.60" width="69.00" height="68.80" fill="none" stroke="#2b3a42" stroke-width="0.9"/>
<g clip-path="url(#hc3)"><g filter="url(#hb)">
<rect x="252.00" y="49.60" width="73.00" height="72.80" fill="#6cbd45"/>
<rect x="254.00" y="51.60" width="9.32" height="5.61" fill="#62c5e0"/>
<rect x="262.62" y="51.60" width="9.32" height="5.61" fill="#62c5e0"/>
<rect x="271.25" y="51.60" width="9.32" height="5.61" fill="#62c5e0"/>
<rect x="279.88" y="51.60" width="9.32" height="5.61" fill="#62c5e0"/>
<rect x="288.50" y="51.60" width="9.32" height="5.61" fill="#62c5e0"/>
<rect x="297.12" y="51.60" width="9.32" height="5.61" fill="#62c5e0"/>
<rect x="305.75" y="51.60" width="9.32" height="5.61" fill="#62c5e0"/>
<rect x="314.38" y="51.60" width="9.32" height="5.61" fill="#62c5e0"/>
<rect x="254.00" y="56.51" width="9.32" height="5.61" fill="#62c296"/>
<rect x="262.62" y="56.51" width="9.32" height="5.61" fill="#62c296"/>
<rect x="271.25" y="56.51" width="9.32" height="5.61" fill="#62c296"/>
<rect x="279.88" y="56.51" width="9.32" height="5.61" fill="#62c296"/>
<rect x="288.50" y="56.51" width="9.32" height="5.61" fill="#62c296"/>
<rect x="297.12" y="56.51" width="9.32" height="5.61" fill="#62c296"/>
<rect x="305.75" y="56.51" width="9.32" height="5.61" fill="#6cbd45"/>
<rect x="314.38" y="56.51" width="9.32" height="5.61" fill="#62c296"/>
<rect x="254.00" y="61.43" width="9.32" height="5.61" fill="#62c296"/>
<rect x="262.62" y="61.43" width="9.32" height="5.61" fill="#62c296"/>
<rect x="271.25" y="61.43" width="9.32" height="5.61" fill="#6cbd45"/>
<rect x="279.88" y="61.43" width="9.32" height="5.61" fill="#6cbd45"/>
<rect x="288.50" y="61.43" width="9.32" height="5.61" fill="#6cbd45"/>
<rect x="297.12" y="61.43" width="9.32" height="5.61" fill="#a6d03b"/>
<rect x="305.75" y="61.43" width="9.32" height="5.61" fill="#6cbd45"/>
<rect x="314.38" y="61.43" width="9.32" height="5.61" fill="#6cbd45"/>
<rect x="254.00" y="66.34" width="9.32" height="5.61" fill="#6cbd45"/>
<rect x="262.62" y="66.34" width="9.32" height="5.61" fill="#6cbd45"/>
<rect x="271.25" y="66.34" width="9.32" height="5.61" fill="#6cbd45"/>
<rect x="279.88" y="66.34" width="9.32" height="5.61" fill="#6cbd45"/>
<rect x="288.50" y="66.34" width="9.32" height="5.61" fill="#a6d03b"/>
<rect x="297.12" y="66.34" width="9.32" height="5.61" fill="#a6d03b"/>
<rect x="305.75" y="66.34" width="9.32" height="5.61" fill="#a6d03b"/>
<rect x="314.38" y="66.34" width="9.32" height="5.61" fill="#a6d03b"/>
<rect x="254.00" y="71.26" width="9.32" height="5.61" fill="#a6d03b"/>
<rect x="262.62" y="71.26" width="9.32" height="5.61" fill="#6cbd45"/>
<rect x="271.25" y="71.26" width="9.32" height="5.61" fill="#6cbd45"/>
<rect x="279.88" y="71.26" width="9.32" height="5.61" fill="#a6d03b"/>
<rect x="288.50" y="71.26" width="9.32" height="5.61" fill="#a6d03b"/>
<rect x="297.12" y="71.26" width="9.32" height="5.61" fill="#a6d03b"/>
<rect x="305.75" y="71.26" width="9.32" height="5.61" fill="#f5e51c"/>
<rect x="314.38" y="71.26" width="9.32" height="5.61" fill="#f5e51c"/>
<rect x="254.00" y="76.17" width="9.32" height="5.61" fill="#a6d03b"/>
<rect x="262.62" y="76.17" width="9.32" height="5.61" fill="#6cbd45"/>
<rect x="271.25" y="76.17" width="9.32" height="5.61" fill="#6cbd45"/>
<rect x="279.88" y="76.17" width="9.32" height="5.61" fill="#a6d03b"/>
<rect x="288.50" y="76.17" width="9.32" height="5.61" fill="#f5e51c"/>
<rect x="297.12" y="76.17" width="9.32" height="5.61" fill="#f5e51c"/>
<rect x="305.75" y="76.17" width="9.32" height="5.61" fill="#f9a11b"/>
<rect x="314.38" y="76.17" width="9.32" height="5.61" fill="#f5e51c"/>
<rect x="254.00" y="81.09" width="9.32" height="5.61" fill="#6cbd45"/>
<rect x="262.62" y="81.09" width="9.32" height="5.61" fill="#6cbd45"/>
<rect x="271.25" y="81.09" width="9.32" height="5.61" fill="#6cbd45"/>
<rect x="279.88" y="81.09" width="9.32" height="5.61" fill="#6cbd45"/>
<rect x="288.50" y="81.09" width="9.32" height="5.61" fill="#a6d03b"/>
<rect x="297.12" y="81.09" width="9.32" height="5.61" fill="#6cbd45"/>
<rect x="305.75" y="81.09" width="9.32" height="5.61" fill="#a6d03b"/>
<rect x="314.38" y="81.09" width="9.32" height="5.61" fill="#a6d03b"/>
<rect x="254.00" y="86.00" width="9.32" height="5.61" fill="#6cbd45"/>
<rect x="262.62" y="86.00" width="9.32" height="5.61" fill="#6cbd45"/>
<rect x="271.25" y="86.00" width="9.32" height="5.61" fill="#6cbd45"/>
<rect x="279.88" y="86.00" width="9.32" height="5.61" fill="#6cbd45"/>
<rect x="288.50" y="86.00" width="9.32" height="5.61" fill="#a6d03b"/>
<rect x="297.12" y="86.00" width="9.32" height="5.61" fill="#6cbd45"/>
<rect x="305.75" y="86.00" width="9.32" height="5.61" fill="#6cbd45"/>
<rect x="314.38" y="86.00" width="9.32" height="5.61" fill="#6cbd45"/>
<rect x="254.00" y="90.91" width="9.32" height="5.61" fill="#62c296"/>
<rect x="262.62" y="90.91" width="9.32" height="5.61" fill="#6cbd45"/>
<rect x="271.25" y="90.91" width="9.32" height="5.61" fill="#62c296"/>
<rect x="279.88" y="90.91" width="9.32" height="5.61" fill="#6cbd45"/>
<rect x="288.50" y="90.91" width="9.32" height="5.61" fill="#6cbd45"/>
<rect x="297.12" y="90.91" width="9.32" height="5.61" fill="#6cbd45"/>
<rect x="305.75" y="90.91" width="9.32" height="5.61" fill="#6cbd45"/>
<rect x="314.38" y="90.91" width="9.32" height="5.61" fill="#6cbd45"/>
<rect x="254.00" y="95.83" width="9.32" height="5.61" fill="#62c296"/>
<rect x="262.62" y="95.83" width="9.32" height="5.61" fill="#62c296"/>
<rect x="271.25" y="95.83" width="9.32" height="5.61" fill="#62c296"/>
<rect x="279.88" y="95.83" width="9.32" height="5.61" fill="#6cbd45"/>
<rect x="288.50" y="95.83" width="9.32" height="5.61" fill="#6cbd45"/>
<rect x="297.12" y="95.83" width="9.32" height="5.61" fill="#6cbd45"/>
<rect x="305.75" y="95.83" width="9.32" height="5.61" fill="#6cbd45"/>
<rect x="314.38" y="95.83" width="9.32" height="5.61" fill="#6cbd45"/>
<rect x="254.00" y="100.74" width="9.32" height="5.61" fill="#62c5e0"/>
<rect x="262.62" y="100.74" width="9.32" height="5.61" fill="#62c296"/>
<rect x="271.25" y="100.74" width="9.32" height="5.61" fill="#6cbd45"/>
<rect x="279.88" y="100.74" width="9.32" height="5.61" fill="#6cbd45"/>
<rect x="288.50" y="100.74" width="9.32" height="5.61" fill="#62c296"/>
<rect x="297.12" y="100.74" width="9.32" height="5.61" fill="#6cbd45"/>
<rect x="305.75" y="100.74" width="9.32" height="5.61" fill="#6cbd45"/>
<rect x="314.38" y="100.74" width="9.32" height="5.61" fill="#6cbd45"/>
<rect x="254.00" y="105.66" width="9.32" height="5.61" fill="#62c296"/>
<rect x="262.62" y="105.66" width="9.32" height="5.61" fill="#62c296"/>
<rect x="271.25" y="105.66" width="9.32" height="5.61" fill="#6cbd45"/>
<rect x="279.88" y="105.66" width="9.32" height="5.61" fill="#6cbd45"/>
<rect x="288.50" y="105.66" width="9.32" height="5.61" fill="#6cbd45"/>
<rect x="297.12" y="105.66" width="9.32" height="5.61" fill="#6cbd45"/>
<rect x="305.75" y="105.66" width="9.32" height="5.61" fill="#6cbd45"/>
<rect x="314.38" y="105.66" width="9.32" height="5.61" fill="#6cbd45"/>
<rect x="254.00" y="110.57" width="9.32" height="5.61" fill="#6cbd45"/>
<rect x="262.62" y="110.57" width="9.32" height="5.61" fill="#6cbd45"/>
<rect x="271.25" y="110.57" width="9.32" height="5.61" fill="#6cbd45"/>
<rect x="279.88" y="110.57" width="9.32" height="5.61" fill="#6cbd45"/>
<rect x="288.50" y="110.57" width="9.32" height="5.61" fill="#6cbd45"/>
<rect x="297.12" y="110.57" width="9.32" height="5.61" fill="#6cbd45"/>
<rect x="305.75" y="110.57" width="9.32" height="5.61" fill="#6cbd45"/>
<rect x="314.38" y="110.57" width="9.32" height="5.61" fill="#6cbd45"/>
<rect x="254.00" y="115.49" width="9.32" height="5.61" fill="#6cbd45"/>
<rect x="262.62" y="115.49" width="9.32" height="5.61" fill="#6cbd45"/>
<rect x="271.25" y="115.49" width="9.32" height="5.61" fill="#6cbd45"/>
<rect x="279.88" y="115.49" width="9.32" height="5.61" fill="#6cbd45"/>
<rect x="288.50" y="115.49" width="9.32" height="5.61" fill="#6cbd45"/>
<rect x="297.12" y="115.49" width="9.32" height="5.61" fill="#6cbd45"/>
<rect x="305.75" y="115.49" width="9.32" height="5.61" fill="#6cbd45"/>
<rect x="314.38" y="115.49" width="9.32" height="5.61" fill="#6cbd45"/>
</g></g>
<rect x="254.00" y="51.60" width="69.00" height="68.80" fill="none" stroke="#2b3a42" stroke-width="0.9"/>
<g clip-path="url(#hc4)"><g filter="url(#hb)">
<rect x="325.10" y="49.60" width="73.00" height="72.80" fill="#6cbd45"/>
<rect x="327.10" y="51.60" width="9.32" height="5.61" fill="#3f84d2"/>
<rect x="335.73" y="51.60" width="9.32" height="5.61" fill="#3f84d2"/>
<rect x="344.35" y="51.60" width="9.32" height="5.61" fill="#62c5e0"/>
<rect x="352.98" y="51.60" width="9.32" height="5.61" fill="#62c296"/>
<rect x="361.60" y="51.60" width="9.32" height="5.61" fill="#62c296"/>
<rect x="370.23" y="51.60" width="9.32" height="5.61" fill="#62c296"/>
<rect x="378.85" y="51.60" width="9.32" height="5.61" fill="#62c296"/>
<rect x="387.48" y="51.60" width="9.32" height="5.61" fill="#62c5e0"/>
<rect x="327.10" y="56.51" width="9.32" height="5.61" fill="#3fb0e8"/>
<rect x="335.73" y="56.51" width="9.32" height="5.61" fill="#62c5e0"/>
<rect x="344.35" y="56.51" width="9.32" height="5.61" fill="#62c5e0"/>
<rect x="352.98" y="56.51" width="9.32" height="5.61" fill="#62c5e0"/>
<rect x="361.60" y="56.51" width="9.32" height="5.61" fill="#62c5e0"/>
<rect x="370.23" y="56.51" width="9.32" height="5.61" fill="#62c296"/>
<rect x="378.85" y="56.51" width="9.32" height="5.61" fill="#62c296"/>
<rect x="387.48" y="56.51" width="9.32" height="5.61" fill="#62c296"/>
<rect x="327.10" y="61.43" width="9.32" height="5.61" fill="#62c5e0"/>
<rect x="335.73" y="61.43" width="9.32" height="5.61" fill="#62c5e0"/>
<rect x="344.35" y="61.43" width="9.32" height="5.61" fill="#62c296"/>
<rect x="352.98" y="61.43" width="9.32" height="5.61" fill="#6cbd45"/>
<rect x="361.60" y="61.43" width="9.32" height="5.61" fill="#6cbd45"/>
<rect x="370.23" y="61.43" width="9.32" height="5.61" fill="#6cbd45"/>
<rect x="378.85" y="61.43" width="9.32" height="5.61" fill="#6cbd45"/>
<rect x="387.48" y="61.43" width="9.32" height="5.61" fill="#6cbd45"/>
<rect x="327.10" y="66.34" width="9.32" height="5.61" fill="#6cbd45"/>
<rect x="335.73" y="66.34" width="9.32" height="5.61" fill="#6cbd45"/>
<rect x="344.35" y="66.34" width="9.32" height="5.61" fill="#6cbd45"/>
<rect x="352.98" y="66.34" width="9.32" height="5.61" fill="#6cbd45"/>
<rect x="361.60" y="66.34" width="9.32" height="5.61" fill="#6cbd45"/>
<rect x="370.23" y="66.34" width="9.32" height="5.61" fill="#6cbd45"/>
<rect x="378.85" y="66.34" width="9.32" height="5.61" fill="#6cbd45"/>
<rect x="387.48" y="66.34" width="9.32" height="5.61" fill="#6cbd45"/>
<rect x="327.10" y="71.26" width="9.32" height="5.61" fill="#6cbd45"/>
<rect x="335.73" y="71.26" width="9.32" height="5.61" fill="#6cbd45"/>
<rect x="344.35" y="71.26" width="9.32" height="5.61" fill="#a6d03b"/>
<rect x="352.98" y="71.26" width="9.32" height="5.61" fill="#f5e51c"/>
<rect x="361.60" y="71.26" width="9.32" height="5.61" fill="#f9a11b"/>
<rect x="370.23" y="71.26" width="9.32" height="5.61" fill="#f5e51c"/>
<rect x="378.85" y="71.26" width="9.32" height="5.61" fill="#f5e51c"/>
<rect x="387.48" y="71.26" width="9.32" height="5.61" fill="#a6d03b"/>
<rect x="327.10" y="76.17" width="9.32" height="5.61" fill="#6cbd45"/>
<rect x="335.73" y="76.17" width="9.32" height="5.61" fill="#a6d03b"/>
<rect x="344.35" y="76.17" width="9.32" height="5.61" fill="#a6d03b"/>
<rect x="352.98" y="76.17" width="9.32" height="5.61" fill="#f5e51c"/>
<rect x="361.60" y="76.17" width="9.32" height="5.61" fill="#f5e51c"/>
<rect x="370.23" y="76.17" width="9.32" height="5.61" fill="#f9a11b"/>
<rect x="378.85" y="76.17" width="9.32" height="5.61" fill="#f9a11b"/>
<rect x="387.48" y="76.17" width="9.32" height="5.61" fill="#f5e51c"/>
<rect x="327.10" y="81.09" width="9.32" height="5.61" fill="#6cbd45"/>
<rect x="335.73" y="81.09" width="9.32" height="5.61" fill="#a6d03b"/>
<rect x="344.35" y="81.09" width="9.32" height="5.61" fill="#a6d03b"/>
<rect x="352.98" y="81.09" width="9.32" height="5.61" fill="#f5e51c"/>
<rect x="361.60" y="81.09" width="9.32" height="5.61" fill="#f5e51c"/>
<rect x="370.23" y="81.09" width="9.32" height="5.61" fill="#f5e51c"/>
<rect x="378.85" y="81.09" width="9.32" height="5.61" fill="#f5e51c"/>
<rect x="387.48" y="81.09" width="9.32" height="5.61" fill="#f5e51c"/>
<rect x="327.10" y="86.00" width="9.32" height="5.61" fill="#6cbd45"/>
<rect x="335.73" y="86.00" width="9.32" height="5.61" fill="#6cbd45"/>
<rect x="344.35" y="86.00" width="9.32" height="5.61" fill="#a6d03b"/>
<rect x="352.98" y="86.00" width="9.32" height="5.61" fill="#a6d03b"/>
<rect x="361.60" y="86.00" width="9.32" height="5.61" fill="#a6d03b"/>
<rect x="370.23" y="86.00" width="9.32" height="5.61" fill="#a6d03b"/>
<rect x="378.85" y="86.00" width="9.32" height="5.61" fill="#a6d03b"/>
<rect x="387.48" y="86.00" width="9.32" height="5.61" fill="#a6d03b"/>
<rect x="327.10" y="90.91" width="9.32" height="5.61" fill="#62c296"/>
<rect x="335.73" y="90.91" width="9.32" height="5.61" fill="#6cbd45"/>
<rect x="344.35" y="90.91" width="9.32" height="5.61" fill="#6cbd45"/>
<rect x="352.98" y="90.91" width="9.32" height="5.61" fill="#6cbd45"/>
<rect x="361.60" y="90.91" width="9.32" height="5.61" fill="#6cbd45"/>
<rect x="370.23" y="90.91" width="9.32" height="5.61" fill="#6cbd45"/>
<rect x="378.85" y="90.91" width="9.32" height="5.61" fill="#6cbd45"/>
<rect x="387.48" y="90.91" width="9.32" height="5.61" fill="#6cbd45"/>
<rect x="327.10" y="95.83" width="9.32" height="5.61" fill="#62c5e0"/>
<rect x="335.73" y="95.83" width="9.32" height="5.61" fill="#62c296"/>
<rect x="344.35" y="95.83" width="9.32" height="5.61" fill="#6cbd45"/>
<rect x="352.98" y="95.83" width="9.32" height="5.61" fill="#6cbd45"/>
<rect x="361.60" y="95.83" width="9.32" height="5.61" fill="#6cbd45"/>
<rect x="370.23" y="95.83" width="9.32" height="5.61" fill="#6cbd45"/>
<rect x="378.85" y="95.83" width="9.32" height="5.61" fill="#6cbd45"/>
<rect x="387.48" y="95.83" width="9.32" height="5.61" fill="#6cbd45"/>
<rect x="327.10" y="100.74" width="9.32" height="5.61" fill="#62c296"/>
<rect x="335.73" y="100.74" width="9.32" height="5.61" fill="#6cbd45"/>
<rect x="344.35" y="100.74" width="9.32" height="5.61" fill="#6cbd45"/>
<rect x="352.98" y="100.74" width="9.32" height="5.61" fill="#6cbd45"/>
<rect x="361.60" y="100.74" width="9.32" height="5.61" fill="#6cbd45"/>
<rect x="370.23" y="100.74" width="9.32" height="5.61" fill="#6cbd45"/>
<rect x="378.85" y="100.74" width="9.32" height="5.61" fill="#6cbd45"/>
<rect x="387.48" y="100.74" width="9.32" height="5.61" fill="#6cbd45"/>
<rect x="327.10" y="105.66" width="9.32" height="5.61" fill="#6cbd45"/>
<rect x="335.73" y="105.66" width="9.32" height="5.61" fill="#6cbd45"/>
<rect x="344.35" y="105.66" width="9.32" height="5.61" fill="#a6d03b"/>
<rect x="352.98" y="105.66" width="9.32" height="5.61" fill="#a6d03b"/>
<rect x="361.60" y="105.66" width="9.32" height="5.61" fill="#a6d03b"/>
<rect x="370.23" y="105.66" width="9.32" height="5.61" fill="#a6d03b"/>
<rect x="378.85" y="105.66" width="9.32" height="5.61" fill="#a6d03b"/>
<rect x="387.48" y="105.66" width="9.32" height="5.61" fill="#6cbd45"/>
<rect x="327.10" y="110.57" width="9.32" height="5.61" fill="#6cbd45"/>
<rect x="335.73" y="110.57" width="9.32" height="5.61" fill="#a6d03b"/>
<rect x="344.35" y="110.57" width="9.32" height="5.61" fill="#a6d03b"/>
<rect x="352.98" y="110.57" width="9.32" height="5.61" fill="#a6d03b"/>
<rect x="361.60" y="110.57" width="9.32" height="5.61" fill="#a6d03b"/>
<rect x="370.23" y="110.57" width="9.32" height="5.61" fill="#a6d03b"/>
<rect x="378.85" y="110.57" width="9.32" height="5.61" fill="#a6d03b"/>
<rect x="387.48" y="110.57" width="9.32" height="5.61" fill="#6cbd45"/>
<rect x="327.10" y="115.49" width="9.32" height="5.61" fill="#6cbd45"/>
<rect x="335.73" y="115.49" width="9.32" height="5.61" fill="#6cbd45"/>
<rect x="344.35" y="115.49" width="9.32" height="5.61" fill="#6cbd45"/>
<rect x="352.98" y="115.49" width="9.32" height="5.61" fill="#6cbd45"/>
<rect x="361.60" y="115.49" width="9.32" height="5.61" fill="#6cbd45"/>
<rect x="370.23" y="115.49" width="9.32" height="5.61" fill="#6cbd45"/>
<rect x="378.85" y="115.49" width="9.32" height="5.61" fill="#6cbd45"/>
<rect x="387.48" y="115.49" width="9.32" height="5.61" fill="#6cbd45"/>
</g></g>
<rect x="327.10" y="51.60" width="69.00" height="68.80" fill="none" stroke="#2b3a42" stroke-width="0.9"/>
<g clip-path="url(#hc5)"><g filter="url(#hb)">
<rect x="32.70" y="122.70" width="73.00" height="72.80" fill="#6cbd45"/>
<rect x="34.70" y="124.70" width="9.32" height="5.61" fill="#62c5e0"/>
<rect x="43.33" y="124.70" width="9.32" height="5.61" fill="#6cbd45"/>
<rect x="51.95" y="124.70" width="9.32" height="5.61" fill="#62c5e0"/>
<rect x="60.58" y="124.70" width="9.32" height="5.61" fill="#3f84d2"/>
<rect x="69.20" y="124.70" width="9.32" height="5.61" fill="#62c5e0"/>
<rect x="77.83" y="124.70" width="9.32" height="5.61" fill="#62c5e0"/>
<rect x="86.45" y="124.70" width="9.32" height="5.61" fill="#62c5e0"/>
<rect x="95.08" y="124.70" width="9.32" height="5.61" fill="#62c5e0"/>
<rect x="34.70" y="129.61" width="9.32" height="5.61" fill="#62c5e0"/>
<rect x="43.33" y="129.61" width="9.32" height="5.61" fill="#62c5e0"/>
<rect x="51.95" y="129.61" width="9.32" height="5.61" fill="#62c5e0"/>
<rect x="60.58" y="129.61" width="9.32" height="5.61" fill="#62c5e0"/>
<rect x="69.20" y="129.61" width="9.32" height="5.61" fill="#62c5e0"/>
<rect x="77.83" y="129.61" width="9.32" height="5.61" fill="#62c5e0"/>
<rect x="86.45" y="129.61" width="9.32" height="5.61" fill="#62c296"/>
<rect x="95.08" y="129.61" width="9.32" height="5.61" fill="#62c5e0"/>
<rect x="34.70" y="134.53" width="9.32" height="5.61" fill="#6cbd45"/>
<rect x="43.33" y="134.53" width="9.32" height="5.61" fill="#62c5e0"/>
<rect x="51.95" y="134.53" width="9.32" height="5.61" fill="#3fb0e8"/>
<rect x="60.58" y="134.53" width="9.32" height="5.61" fill="#62c5e0"/>
<rect x="69.20" y="134.53" width="9.32" height="5.61" fill="#62c296"/>
<rect x="77.83" y="134.53" width="9.32" height="5.61" fill="#62c5e0"/>
<rect x="86.45" y="134.53" width="9.32" height="5.61" fill="#62c5e0"/>
<rect x="95.08" y="134.53" width="9.32" height="5.61" fill="#62c5e0"/>
<rect x="34.70" y="139.44" width="9.32" height="5.61" fill="#62c5e0"/>
<rect x="43.33" y="139.44" width="9.32" height="5.61" fill="#62c5e0"/>
<rect x="51.95" y="139.44" width="9.32" height="5.61" fill="#3fb0e8"/>
<rect x="60.58" y="139.44" width="9.32" height="5.61" fill="#62c5e0"/>
<rect x="69.20" y="139.44" width="9.32" height="5.61" fill="#62c5e0"/>
<rect x="77.83" y="139.44" width="9.32" height="5.61" fill="#62c296"/>
<rect x="86.45" y="139.44" width="9.32" height="5.61" fill="#62c5e0"/>
<rect x="95.08" y="139.44" width="9.32" height="5.61" fill="#62c5e0"/>
<rect x="34.70" y="144.36" width="9.32" height="5.61" fill="#6cbd45"/>
<rect x="43.33" y="144.36" width="9.32" height="5.61" fill="#62c5e0"/>
<rect x="51.95" y="144.36" width="9.32" height="5.61" fill="#62c5e0"/>
<rect x="60.58" y="144.36" width="9.32" height="5.61" fill="#3fb0e8"/>
<rect x="69.20" y="144.36" width="9.32" height="5.61" fill="#62c5e0"/>
<rect x="77.83" y="144.36" width="9.32" height="5.61" fill="#62c296"/>
<rect x="86.45" y="144.36" width="9.32" height="5.61" fill="#3fb0e8"/>
<rect x="95.08" y="144.36" width="9.32" height="5.61" fill="#62c5e0"/>
<rect x="34.70" y="149.27" width="9.32" height="5.61" fill="#62c5e0"/>
<rect x="43.33" y="149.27" width="9.32" height="5.61" fill="#62c5e0"/>
<rect x="51.95" y="149.27" width="9.32" height="5.61" fill="#62c296"/>
<rect x="60.58" y="149.27" width="9.32" height="5.61" fill="#3fb0e8"/>
<rect x="69.20" y="149.27" width="9.32" height="5.61" fill="#62c5e0"/>
<rect x="77.83" y="149.27" width="9.32" height="5.61" fill="#62c5e0"/>
<rect x="86.45" y="149.27" width="9.32" height="5.61" fill="#62c5e0"/>
<rect x="95.08" y="149.27" width="9.32" height="5.61" fill="#62c5e0"/>
<rect x="34.70" y="154.19" width="9.32" height="5.61" fill="#62c296"/>
<rect x="43.33" y="154.19" width="9.32" height="5.61" fill="#6cbd45"/>
<rect x="51.95" y="154.19" width="9.32" height="5.61" fill="#a6d03b"/>
<rect x="60.58" y="154.19" width="9.32" height="5.61" fill="#6cbd45"/>
<rect x="69.20" y="154.19" width="9.32" height="5.61" fill="#6cbd45"/>
<rect x="77.83" y="154.19" width="9.32" height="5.61" fill="#6cbd45"/>
<rect x="86.45" y="154.19" width="9.32" height="5.61" fill="#6cbd45"/>
<rect x="95.08" y="154.19" width="9.32" height="5.61" fill="#6cbd45"/>
<rect x="34.70" y="159.10" width="9.32" height="5.61" fill="#62c296"/>
<rect x="43.33" y="159.10" width="9.32" height="5.61" fill="#6cbd45"/>
<rect x="51.95" y="159.10" width="9.32" height="5.61" fill="#a6d03b"/>
<rect x="60.58" y="159.10" width="9.32" height="5.61" fill="#a6d03b"/>
<rect x="69.20" y="159.10" width="9.32" height="5.61" fill="#a6d03b"/>
<rect x="77.83" y="159.10" width="9.32" height="5.61" fill="#a6d03b"/>
<rect x="86.45" y="159.10" width="9.32" height="5.61" fill="#a6d03b"/>
<rect x="95.08" y="159.10" width="9.32" height="5.61" fill="#6cbd45"/>
<rect x="34.70" y="164.01" width="9.32" height="5.61" fill="#62c296"/>
<rect x="43.33" y="164.01" width="9.32" height="5.61" fill="#6cbd45"/>
<rect x="51.95" y="164.01" width="9.32" height="5.61" fill="#6cbd45"/>
<rect x="60.58" y="164.01" width="9.32" height="5.61" fill="#6cbd45"/>
<rect x="69.20" y="164.01" width="9.32" height="5.61" fill="#6cbd45"/>
<rect x="77.83" y="164.01" width="9.32" height="5.61" fill="#6cbd45"/>
<rect x="86.45" y="164.01" width="9.32" height="5.61" fill="#6cbd45"/>
<rect x="95.08" y="164.01" width="9.32" height="5.61" fill="#6cbd45"/>
<rect x="34.70" y="168.93" width="9.32" height="5.61" fill="#62c296"/>
<rect x="43.33" y="168.93" width="9.32" height="5.61" fill="#6cbd45"/>
<rect x="51.95" y="168.93" width="9.32" height="5.61" fill="#6cbd45"/>
<rect x="60.58" y="168.93" width="9.32" height="5.61" fill="#6cbd45"/>
<rect x="69.20" y="168.93" width="9.32" height="5.61" fill="#6cbd45"/>
<rect x="77.83" y="168.93" width="9.32" height="5.61" fill="#6cbd45"/>
<rect x="86.45" y="168.93" width="9.32" height="5.61" fill="#6cbd45"/>
<rect x="95.08" y="168.93" width="9.32" height="5.61" fill="#62c296"/>
<rect x="34.70" y="173.84" width="9.32" height="5.61" fill="#62c5e0"/>
<rect x="43.33" y="173.84" width="9.32" height="5.61" fill="#62c296"/>
<rect x="51.95" y="173.84" width="9.32" height="5.61" fill="#62c296"/>
<rect x="60.58" y="173.84" width="9.32" height="5.61" fill="#62c296"/>
<rect x="69.20" y="173.84" width="9.32" height="5.61" fill="#62c296"/>
<rect x="77.83" y="173.84" width="9.32" height="5.61" fill="#62c296"/>
<rect x="86.45" y="173.84" width="9.32" height="5.61" fill="#62c296"/>
<rect x="95.08" y="173.84" width="9.32" height="5.61" fill="#62c5e0"/>
<rect x="34.70" y="178.76" width="9.32" height="5.61" fill="#62c5e0"/>
<rect x="43.33" y="178.76" width="9.32" height="5.61" fill="#62c296"/>
<rect x="51.95" y="178.76" width="9.32" height="5.61" fill="#62c296"/>
<rect x="60.58" y="178.76" width="9.32" height="5.61" fill="#62c296"/>
<rect x="69.20" y="178.76" width="9.32" height="5.61" fill="#62c296"/>
<rect x="77.83" y="178.76" width="9.32" height="5.61" fill="#62c296"/>
<rect x="86.45" y="178.76" width="9.32" height="5.61" fill="#62c296"/>
<rect x="95.08" y="178.76" width="9.32" height="5.61" fill="#62c5e0"/>
<rect x="34.70" y="183.67" width="9.32" height="5.61" fill="#62c5e0"/>
<rect x="43.33" y="183.67" width="9.32" height="5.61" fill="#62c296"/>
<rect x="51.95" y="183.67" width="9.32" height="5.61" fill="#62c296"/>
<rect x="60.58" y="183.67" width="9.32" height="5.61" fill="#62c296"/>
<rect x="69.20" y="183.67" width="9.32" height="5.61" fill="#62c296"/>
<rect x="77.83" y="183.67" width="9.32" height="5.61" fill="#62c296"/>
<rect x="86.45" y="183.67" width="9.32" height="5.61" fill="#62c296"/>
<rect x="95.08" y="183.67" width="9.32" height="5.61" fill="#62c5e0"/>
<rect x="34.70" y="188.59" width="9.32" height="5.61" fill="#62c5e0"/>
<rect x="43.33" y="188.59" width="9.32" height="5.61" fill="#62c5e0"/>
<rect x="51.95" y="188.59" width="9.32" height="5.61" fill="#62c296"/>
<rect x="60.58" y="188.59" width="9.32" height="5.61" fill="#62c296"/>
<rect x="69.20" y="188.59" width="9.32" height="5.61" fill="#62c296"/>
<rect x="77.83" y="188.59" width="9.32" height="5.61" fill="#62c296"/>
<rect x="86.45" y="188.59" width="9.32" height="5.61" fill="#62c5e0"/>
<rect x="95.08" y="188.59" width="9.32" height="5.61" fill="#62c5e0"/>
</g></g>
<rect x="34.70" y="124.70" width="69.00" height="68.80" fill="none" stroke="#2b3a42" stroke-width="0.9"/>
<g clip-path="url(#hc6)"><g filter="url(#hb)">
<rect x="105.80" y="122.70" width="73.00" height="72.80" fill="#6cbd45"/>
<rect x="107.80" y="124.70" width="9.32" height="5.61" fill="#62c5e0"/>
<rect x="116.42" y="124.70" width="9.32" height="5.61" fill="#4254ae"/>
<rect x="125.05" y="124.70" width="9.32" height="5.61" fill="#3f84d2"/>
<rect x="133.68" y="124.70" width="9.32" height="5.61" fill="#6cbd45"/>
<rect x="142.30" y="124.70" width="9.32" height="5.61" fill="#6cbd45"/>
<rect x="150.93" y="124.70" width="9.32" height="5.61" fill="#6cbd45"/>
<rect x="159.55" y="124.70" width="9.32" height="5.61" fill="#62c5e0"/>
<rect x="168.18" y="124.70" width="9.32" height="5.61" fill="#62c5e0"/>
<rect x="107.80" y="129.61" width="9.32" height="5.61" fill="#3fb0e8"/>
<rect x="116.42" y="129.61" width="9.32" height="5.61" fill="#62c5e0"/>
<rect x="125.05" y="129.61" width="9.32" height="5.61" fill="#3f84d2"/>
<rect x="133.68" y="129.61" width="9.32" height="5.61" fill="#62c296"/>
<rect x="142.30" y="129.61" width="9.32" height="5.61" fill="#62c296"/>
<rect x="150.93" y="129.61" width="9.32" height="5.61" fill="#62c296"/>
<rect x="159.55" y="129.61" width="9.32" height="5.61" fill="#62c296"/>
<rect x="168.18" y="129.61" width="9.32" height="5.61" fill="#62c5e0"/>
<rect x="107.80" y="134.53" width="9.32" height="5.61" fill="#3fb0e8"/>
<rect x="116.42" y="134.53" width="9.32" height="5.61" fill="#3fb0e8"/>
<rect x="125.05" y="134.53" width="9.32" height="5.61" fill="#4254ae"/>
<rect x="133.68" y="134.53" width="9.32" height="5.61" fill="#62c5e0"/>
<rect x="142.30" y="134.53" width="9.32" height="5.61" fill="#6cbd45"/>
<rect x="150.93" y="134.53" width="9.32" height="5.61" fill="#62c296"/>
<rect x="159.55" y="134.53" width="9.32" height="5.61" fill="#62c296"/>
<rect x="168.18" y="134.53" width="9.32" height="5.61" fill="#62c5e0"/>
<rect x="107.80" y="139.44" width="9.32" height="5.61" fill="#3fb0e8"/>
<rect x="116.42" y="139.44" width="9.32" height="5.61" fill="#62c5e0"/>
<rect x="125.05" y="139.44" width="9.32" height="5.61" fill="#62c5e0"/>
<rect x="133.68" y="139.44" width="9.32" height="5.61" fill="#62c5e0"/>
<rect x="142.30" y="139.44" width="9.32" height="5.61" fill="#62c296"/>
<rect x="150.93" y="139.44" width="9.32" height="5.61" fill="#62c296"/>
<rect x="159.55" y="139.44" width="9.32" height="5.61" fill="#62c296"/>
<rect x="168.18" y="139.44" width="9.32" height="5.61" fill="#62c5e0"/>
<rect x="107.80" y="144.36" width="9.32" height="5.61" fill="#62c5e0"/>
<rect x="116.42" y="144.36" width="9.32" height="5.61" fill="#62c5e0"/>
<rect x="125.05" y="144.36" width="9.32" height="5.61" fill="#62c5e0"/>
<rect x="133.68" y="144.36" width="9.32" height="5.61" fill="#62c296"/>
<rect x="142.30" y="144.36" width="9.32" height="5.61" fill="#6cbd45"/>
<rect x="150.93" y="144.36" width="9.32" height="5.61" fill="#6cbd45"/>
<rect x="159.55" y="144.36" width="9.32" height="5.61" fill="#62c296"/>
<rect x="168.18" y="144.36" width="9.32" height="5.61" fill="#62c296"/>
<rect x="107.80" y="149.27" width="9.32" height="5.61" fill="#62c5e0"/>
<rect x="116.42" y="149.27" width="9.32" height="5.61" fill="#62c296"/>
<rect x="125.05" y="149.27" width="9.32" height="5.61" fill="#62c296"/>
<rect x="133.68" y="149.27" width="9.32" height="5.61" fill="#6cbd45"/>
<rect x="142.30" y="149.27" width="9.32" height="5.61" fill="#6cbd45"/>
<rect x="150.93" y="149.27" width="9.32" height="5.61" fill="#6cbd45"/>
<rect x="159.55" y="149.27" width="9.32" height="5.61" fill="#6cbd45"/>
<rect x="168.18" y="149.27" width="9.32" height="5.61" fill="#62c296"/>
<rect x="107.80" y="154.19" width="9.32" height="5.61" fill="#62c296"/>
<rect x="116.42" y="154.19" width="9.32" height="5.61" fill="#6cbd45"/>
<rect x="125.05" y="154.19" width="9.32" height="5.61" fill="#6cbd45"/>
<rect x="133.68" y="154.19" width="9.32" height="5.61" fill="#a6d03b"/>
<rect x="142.30" y="154.19" width="9.32" height="5.61" fill="#a6d03b"/>
<rect x="150.93" y="154.19" width="9.32" height="5.61" fill="#6cbd45"/>
<rect x="159.55" y="154.19" width="9.32" height="5.61" fill="#6cbd45"/>
<rect x="168.18" y="154.19" width="9.32" height="5.61" fill="#6cbd45"/>
<rect x="107.80" y="159.10" width="9.32" height="5.61" fill="#62c296"/>
<rect x="116.42" y="159.10" width="9.32" height="5.61" fill="#62c5e0"/>
<rect x="125.05" y="159.10" width="9.32" height="5.61" fill="#6cbd45"/>
<rect x="133.68" y="159.10" width="9.32" height="5.61" fill="#a6d03b"/>
<rect x="142.30" y="159.10" width="9.32" height="5.61" fill="#a6d03b"/>
<rect x="150.93" y="159.10" width="9.32" height="5.61" fill="#a6d03b"/>
<rect x="159.55" y="159.10" width="9.32" height="5.61" fill="#6cbd45"/>
<rect x="168.18" y="159.10" width="9.32" height="5.61" fill="#6cbd45"/>
<rect x="107.80" y="164.01" width="9.32" height="5.61" fill="#62c296"/>
<rect x="116.42" y="164.01" width="9.32" height="5.61" fill="#6cbd45"/>
<rect x="125.05" y="164.01" width="9.32" height="5.61" fill="#6cbd45"/>
<rect x="133.68" y="164.01" width="9.32" height="5.61" fill="#a6d03b"/>
<rect x="142.30" y="164.01" width="9.32" height="5.61" fill="#a6d03b"/>
<rect x="150.93" y="164.01" width="9.32" height="5.61" fill="#a6d03b"/>
<rect x="159.55" y="164.01" width="9.32" height="5.61" fill="#6cbd45"/>
<rect x="168.18" y="164.01" width="9.32" height="5.61" fill="#6cbd45"/>
<rect x="107.80" y="168.93" width="9.32" height="5.61" fill="#62c296"/>
<rect x="116.42" y="168.93" width="9.32" height="5.61" fill="#6cbd45"/>
<rect x="125.05" y="168.93" width="9.32" height="5.61" fill="#6cbd45"/>
<rect x="133.68" y="168.93" width="9.32" height="5.61" fill="#6cbd45"/>
<rect x="142.30" y="168.93" width="9.32" height="5.61" fill="#6cbd45"/>
<rect x="150.93" y="168.93" width="9.32" height="5.61" fill="#6cbd45"/>
<rect x="159.55" y="168.93" width="9.32" height="5.61" fill="#6cbd45"/>
<rect x="168.18" y="168.93" width="9.32" height="5.61" fill="#6cbd45"/>
<rect x="107.80" y="173.84" width="9.32" height="5.61" fill="#62c296"/>
<rect x="116.42" y="173.84" width="9.32" height="5.61" fill="#6cbd45"/>
<rect x="125.05" y="173.84" width="9.32" height="5.61" fill="#6cbd45"/>
<rect x="133.68" y="173.84" width="9.32" height="5.61" fill="#6cbd45"/>
<rect x="142.30" y="173.84" width="9.32" height="5.61" fill="#6cbd45"/>
<rect x="150.93" y="173.84" width="9.32" height="5.61" fill="#6cbd45"/>
<rect x="159.55" y="173.84" width="9.32" height="5.61" fill="#6cbd45"/>
<rect x="168.18" y="173.84" width="9.32" height="5.61" fill="#62c296"/>
<rect x="107.80" y="178.76" width="9.32" height="5.61" fill="#62c5e0"/>
<rect x="116.42" y="178.76" width="9.32" height="5.61" fill="#62c296"/>
<rect x="125.05" y="178.76" width="9.32" height="5.61" fill="#6cbd45"/>
<rect x="133.68" y="178.76" width="9.32" height="5.61" fill="#6cbd45"/>
<rect x="142.30" y="178.76" width="9.32" height="5.61" fill="#6cbd45"/>
<rect x="150.93" y="178.76" width="9.32" height="5.61" fill="#6cbd45"/>
<rect x="159.55" y="178.76" width="9.32" height="5.61" fill="#6cbd45"/>
<rect x="168.18" y="178.76" width="9.32" height="5.61" fill="#62c296"/>
<rect x="107.80" y="183.67" width="9.32" height="5.61" fill="#62c5e0"/>
<rect x="116.42" y="183.67" width="9.32" height="5.61" fill="#62c296"/>
<rect x="125.05" y="183.67" width="9.32" height="5.61" fill="#6cbd45"/>
<rect x="133.68" y="183.67" width="9.32" height="5.61" fill="#6cbd45"/>
<rect x="142.30" y="183.67" width="9.32" height="5.61" fill="#6cbd45"/>
<rect x="150.93" y="183.67" width="9.32" height="5.61" fill="#6cbd45"/>
<rect x="159.55" y="183.67" width="9.32" height="5.61" fill="#62c296"/>
<rect x="168.18" y="183.67" width="9.32" height="5.61" fill="#62c296"/>
<rect x="107.80" y="188.59" width="9.32" height="5.61" fill="#62c5e0"/>
<rect x="116.42" y="188.59" width="9.32" height="5.61" fill="#62c296"/>
<rect x="125.05" y="188.59" width="9.32" height="5.61" fill="#62c296"/>
<rect x="133.68" y="188.59" width="9.32" height="5.61" fill="#6cbd45"/>
<rect x="142.30" y="188.59" width="9.32" height="5.61" fill="#6cbd45"/>
<rect x="150.93" y="188.59" width="9.32" height="5.61" fill="#6cbd45"/>
<rect x="159.55" y="188.59" width="9.32" height="5.61" fill="#62c296"/>
<rect x="168.18" y="188.59" width="9.32" height="5.61" fill="#62c296"/>
</g></g>
<rect x="107.80" y="124.70" width="69.00" height="68.80" fill="none" stroke="#2b3a42" stroke-width="0.9"/>
<g clip-path="url(#hc7)"><g filter="url(#hb)">
<rect x="178.90" y="122.70" width="73.00" height="72.80" fill="#6cbd45"/>
<rect x="180.90" y="124.70" width="9.32" height="5.61" fill="#62c296"/>
<rect x="189.53" y="124.70" width="9.32" height="5.61" fill="#62c5e0"/>
<rect x="198.15" y="124.70" width="9.32" height="5.61" fill="#62c5e0"/>
<rect x="206.78" y="124.70" width="9.32" height="5.61" fill="#62c5e0"/>
<rect x="215.40" y="124.70" width="9.32" height="5.61" fill="#62c5e0"/>
<rect x="224.03" y="124.70" width="9.32" height="5.61" fill="#62c5e0"/>
<rect x="232.65" y="124.70" width="9.32" height="5.61" fill="#62c5e0"/>
<rect x="241.28" y="124.70" width="9.32" height="5.61" fill="#62c5e0"/>
<rect x="180.90" y="129.61" width="9.32" height="5.61" fill="#62c5e0"/>
<rect x="189.53" y="129.61" width="9.32" height="5.61" fill="#62c5e0"/>
<rect x="198.15" y="129.61" width="9.32" height="5.61" fill="#62c5e0"/>
<rect x="206.78" y="129.61" width="9.32" height="5.61" fill="#62c5e0"/>
<rect x="215.40" y="129.61" width="9.32" height="5.61" fill="#62c5e0"/>
<rect x="224.03" y="129.61" width="9.32" height="5.61" fill="#62c5e0"/>
<rect x="232.65" y="129.61" width="9.32" height="5.61" fill="#62c5e0"/>
<rect x="241.28" y="129.61" width="9.32" height="5.61" fill="#62c5e0"/>
<rect x="180.90" y="134.53" width="9.32" height="5.61" fill="#6cbd45"/>
<rect x="189.53" y="134.53" width="9.32" height="5.61" fill="#62c5e0"/>
<rect x="198.15" y="134.53" width="9.32" height="5.61" fill="#62c5e0"/>
<rect x="206.78" y="134.53" width="9.32" height="5.61" fill="#62c296"/>
<rect x="215.40" y="134.53" width="9.32" height="5.61" fill="#62c5e0"/>
<rect x="224.03" y="134.53" width="9.32" height="5.61" fill="#62c5e0"/>
<rect x="232.65" y="134.53" width="9.32" height="5.61" fill="#62c5e0"/>
<rect x="241.28" y="134.53" width="9.32" height="5.61" fill="#62c5e0"/>
<rect x="180.90" y="139.44" width="9.32" height="5.61" fill="#3fb0e8"/>
<rect x="189.53" y="139.44" width="9.32" height="5.61" fill="#3fb0e8"/>
<rect x="198.15" y="139.44" width="9.32" height="5.61" fill="#62c5e0"/>
<rect x="206.78" y="139.44" width="9.32" height="5.61" fill="#62c5e0"/>
<rect x="215.40" y="139.44" width="9.32" height="5.61" fill="#62c5e0"/>
<rect x="224.03" y="139.44" width="9.32" height="5.61" fill="#62c5e0"/>
<rect x="232.65" y="139.44" width="9.32" height="5.61" fill="#62c296"/>
<rect x="241.28" y="139.44" width="9.32" height="5.61" fill="#62c5e0"/>
<rect x="180.90" y="144.36" width="9.32" height="5.61" fill="#62c5e0"/>
<rect x="189.53" y="144.36" width="9.32" height="5.61" fill="#62c5e0"/>
<rect x="198.15" y="144.36" width="9.32" height="5.61" fill="#62c296"/>
<rect x="206.78" y="144.36" width="9.32" height="5.61" fill="#62c5e0"/>
<rect x="215.40" y="144.36" width="9.32" height="5.61" fill="#62c5e0"/>
<rect x="224.03" y="144.36" width="9.32" height="5.61" fill="#62c296"/>
<rect x="232.65" y="144.36" width="9.32" height="5.61" fill="#62c296"/>
<rect x="241.28" y="144.36" width="9.32" height="5.61" fill="#62c5e0"/>
<rect x="180.90" y="149.27" width="9.32" height="5.61" fill="#3fb0e8"/>
<rect x="189.53" y="149.27" width="9.32" height="5.61" fill="#62c5e0"/>
<rect x="198.15" y="149.27" width="9.32" height="5.61" fill="#62c5e0"/>
<rect x="206.78" y="149.27" width="9.32" height="5.61" fill="#62c5e0"/>
<rect x="215.40" y="149.27" width="9.32" height="5.61" fill="#62c5e0"/>
<rect x="224.03" y="149.27" width="9.32" height="5.61" fill="#62c5e0"/>
<rect x="232.65" y="149.27" width="9.32" height="5.61" fill="#62c5e0"/>
<rect x="241.28" y="149.27" width="9.32" height="5.61" fill="#62c5e0"/>
<rect x="180.90" y="154.19" width="9.32" height="5.61" fill="#62c296"/>
<rect x="189.53" y="154.19" width="9.32" height="5.61" fill="#6cbd45"/>
<rect x="198.15" y="154.19" width="9.32" height="5.61" fill="#6cbd45"/>
<rect x="206.78" y="154.19" width="9.32" height="5.61" fill="#6cbd45"/>
<rect x="215.40" y="154.19" width="9.32" height="5.61" fill="#6cbd45"/>
<rect x="224.03" y="154.19" width="9.32" height="5.61" fill="#6cbd45"/>
<rect x="232.65" y="154.19" width="9.32" height="5.61" fill="#6cbd45"/>
<rect x="241.28" y="154.19" width="9.32" height="5.61" fill="#62c296"/>
<rect x="180.90" y="159.10" width="9.32" height="5.61" fill="#62c296"/>
<rect x="189.53" y="159.10" width="9.32" height="5.61" fill="#6cbd45"/>
<rect x="198.15" y="159.10" width="9.32" height="5.61" fill="#6cbd45"/>
<rect x="206.78" y="159.10" width="9.32" height="5.61" fill="#6cbd45"/>
<rect x="215.40" y="159.10" width="9.32" height="5.61" fill="#6cbd45"/>
<rect x="224.03" y="159.10" width="9.32" height="5.61" fill="#6cbd45"/>
<rect x="232.65" y="159.10" width="9.32" height="5.61" fill="#6cbd45"/>
<rect x="241.28" y="159.10" width="9.32" height="5.61" fill="#62c296"/>
<rect x="180.90" y="164.01" width="9.32" height="5.61" fill="#62c296"/>
<rect x="189.53" y="164.01" width="9.32" height="5.61" fill="#6cbd45"/>
<rect x="198.15" y="164.01" width="9.32" height="5.61" fill="#6cbd45"/>
<rect x="206.78" y="164.01" width="9.32" height="5.61" fill="#a6d03b"/>
<rect x="215.40" y="164.01" width="9.32" height="5.61" fill="#a6d03b"/>
<rect x="224.03" y="164.01" width="9.32" height="5.61" fill="#a6d03b"/>
<rect x="232.65" y="164.01" width="9.32" height="5.61" fill="#a6d03b"/>
<rect x="241.28" y="164.01" width="9.32" height="5.61" fill="#62c296"/>
<rect x="180.90" y="168.93" width="9.32" height="5.61" fill="#62c296"/>
<rect x="189.53" y="168.93" width="9.32" height="5.61" fill="#6cbd45"/>
<rect x="198.15" y="168.93" width="9.32" height="5.61" fill="#6cbd45"/>
<rect x="206.78" y="168.93" width="9.32" height="5.61" fill="#6cbd45"/>
<rect x="215.40" y="168.93" width="9.32" height="5.61" fill="#6cbd45"/>
<rect x="224.03" y="168.93" width="9.32" height="5.61" fill="#6cbd45"/>
<rect x="232.65" y="168.93" width="9.32" height="5.61" fill="#6cbd45"/>
<rect x="241.28" y="168.93" width="9.32" height="5.61" fill="#62c296"/>
<rect x="180.90" y="173.84" width="9.32" height="5.61" fill="#62c296"/>
<rect x="189.53" y="173.84" width="9.32" height="5.61" fill="#6cbd45"/>
<rect x="198.15" y="173.84" width="9.32" height="5.61" fill="#6cbd45"/>
<rect x="206.78" y="173.84" width="9.32" height="5.61" fill="#6cbd45"/>
<rect x="215.40" y="173.84" width="9.32" height="5.61" fill="#6cbd45"/>
<rect x="224.03" y="173.84" width="9.32" height="5.61" fill="#6cbd45"/>
<rect x="232.65" y="173.84" width="9.32" height="5.61" fill="#6cbd45"/>
<rect x="241.28" y="173.84" width="9.32" height="5.61" fill="#62c296"/>
<rect x="180.90" y="178.76" width="9.32" height="5.61" fill="#62c5e0"/>
<rect x="189.53" y="178.76" width="9.32" height="5.61" fill="#62c296"/>
<rect x="198.15" y="178.76" width="9.32" height="5.61" fill="#62c296"/>
<rect x="206.78" y="178.76" width="9.32" height="5.61" fill="#62c296"/>
<rect x="215.40" y="178.76" width="9.32" height="5.61" fill="#62c296"/>
<rect x="224.03" y="178.76" width="9.32" height="5.61" fill="#62c296"/>
<rect x="232.65" y="178.76" width="9.32" height="5.61" fill="#62c296"/>
<rect x="241.28" y="178.76" width="9.32" height="5.61" fill="#62c5e0"/>
<rect x="180.90" y="183.67" width="9.32" height="5.61" fill="#62c5e0"/>
<rect x="189.53" y="183.67" width="9.32" height="5.61" fill="#62c296"/>
<rect x="198.15" y="183.67" width="9.32" height="5.61" fill="#62c296"/>
<rect x="206.78" y="183.67" width="9.32" height="5.61" fill="#62c296"/>
<rect x="215.40" y="183.67" width="9.32" height="5.61" fill="#62c296"/>
<rect x="224.03" y="183.67" width="9.32" height="5.61" fill="#62c296"/>
<rect x="232.65" y="183.67" width="9.32" height="5.61" fill="#62c296"/>
<rect x="241.28" y="183.67" width="9.32" height="5.61" fill="#62c5e0"/>
<rect x="180.90" y="188.59" width="9.32" height="5.61" fill="#62c5e0"/>
<rect x="189.53" y="188.59" width="9.32" height="5.61" fill="#62c5e0"/>
<rect x="198.15" y="188.59" width="9.32" height="5.61" fill="#62c296"/>
<rect x="206.78" y="188.59" width="9.32" height="5.61" fill="#62c296"/>
<rect x="215.40" y="188.59" width="9.32" height="5.61" fill="#62c296"/>
<rect x="224.03" y="188.59" width="9.32" height="5.61" fill="#62c296"/>
<rect x="232.65" y="188.59" width="9.32" height="5.61" fill="#62c296"/>
<rect x="241.28" y="188.59" width="9.32" height="5.61" fill="#62c5e0"/>
</g></g>
<rect x="180.90" y="124.70" width="69.00" height="68.80" fill="none" stroke="#2b3a42" stroke-width="0.9"/>
<g clip-path="url(#hc8)"><g filter="url(#hb)">
<rect x="252.00" y="122.70" width="73.00" height="72.80" fill="#6cbd45"/>
<rect x="254.00" y="124.70" width="9.32" height="5.61" fill="#62c5e0"/>
<rect x="262.62" y="124.70" width="9.32" height="5.61" fill="#62c5e0"/>
<rect x="271.25" y="124.70" width="9.32" height="5.61" fill="#62c5e0"/>
<rect x="279.88" y="124.70" width="9.32" height="5.61" fill="#62c5e0"/>
<rect x="288.50" y="124.70" width="9.32" height="5.61" fill="#62c5e0"/>
<rect x="297.12" y="124.70" width="9.32" height="5.61" fill="#62c5e0"/>
<rect x="305.75" y="124.70" width="9.32" height="5.61" fill="#62c5e0"/>
<rect x="314.38" y="124.70" width="9.32" height="5.61" fill="#62c5e0"/>
<rect x="254.00" y="129.61" width="9.32" height="5.61" fill="#62c296"/>
<rect x="262.62" y="129.61" width="9.32" height="5.61" fill="#62c296"/>
<rect x="271.25" y="129.61" width="9.32" height="5.61" fill="#62c5e0"/>
<rect x="279.88" y="129.61" width="9.32" height="5.61" fill="#62c5e0"/>
<rect x="288.50" y="129.61" width="9.32" height="5.61" fill="#62c5e0"/>
<rect x="297.12" y="129.61" width="9.32" height="5.61" fill="#62c296"/>
<rect x="305.75" y="129.61" width="9.32" height="5.61" fill="#62c5e0"/>
<rect x="314.38" y="129.61" width="9.32" height="5.61" fill="#62c5e0"/>
<rect x="254.00" y="134.53" width="9.32" height="5.61" fill="#62c5e0"/>
<rect x="262.62" y="134.53" width="9.32" height="5.61" fill="#62c296"/>
<rect x="271.25" y="134.53" width="9.32" height="5.61" fill="#62c5e0"/>
<rect x="279.88" y="134.53" width="9.32" height="5.61" fill="#62c5e0"/>
<rect x="288.50" y="134.53" width="9.32" height="5.61" fill="#62c5e0"/>
<rect x="297.12" y="134.53" width="9.32" height="5.61" fill="#62c296"/>
<rect x="305.75" y="134.53" width="9.32" height="5.61" fill="#62c5e0"/>
<rect x="314.38" y="134.53" width="9.32" height="5.61" fill="#62c5e0"/>
<rect x="254.00" y="139.44" width="9.32" height="5.61" fill="#3fb0e8"/>
<rect x="262.62" y="139.44" width="9.32" height="5.61" fill="#62c5e0"/>
<rect x="271.25" y="139.44" width="9.32" height="5.61" fill="#62c5e0"/>
<rect x="279.88" y="139.44" width="9.32" height="5.61" fill="#62c5e0"/>
<rect x="288.50" y="139.44" width="9.32" height="5.61" fill="#62c296"/>
<rect x="297.12" y="139.44" width="9.32" height="5.61" fill="#62c296"/>
<rect x="305.75" y="139.44" width="9.32" height="5.61" fill="#62c5e0"/>
<rect x="314.38" y="139.44" width="9.32" height="5.61" fill="#62c5e0"/>
<rect x="254.00" y="144.36" width="9.32" height="5.61" fill="#62c5e0"/>
<rect x="262.62" y="144.36" width="9.32" height="5.61" fill="#62c5e0"/>
<rect x="271.25" y="144.36" width="9.32" height="5.61" fill="#62c5e0"/>
<rect x="279.88" y="144.36" width="9.32" height="5.61" fill="#3fb0e8"/>
<rect x="288.50" y="144.36" width="9.32" height="5.61" fill="#62c5e0"/>
<rect x="297.12" y="144.36" width="9.32" height="5.61" fill="#62c5e0"/>
<rect x="305.75" y="144.36" width="9.32" height="5.61" fill="#62c5e0"/>
<rect x="314.38" y="144.36" width="9.32" height="5.61" fill="#62c5e0"/>
<rect x="254.00" y="149.27" width="9.32" height="5.61" fill="#3fb0e8"/>
<rect x="262.62" y="149.27" width="9.32" height="5.61" fill="#3fb0e8"/>
<rect x="271.25" y="149.27" width="9.32" height="5.61" fill="#62c5e0"/>
<rect x="279.88" y="149.27" width="9.32" height="5.61" fill="#3fb0e8"/>
<rect x="288.50" y="149.27" width="9.32" height="5.61" fill="#62c296"/>
<rect x="297.12" y="149.27" width="9.32" height="5.61" fill="#62c296"/>
<rect x="305.75" y="149.27" width="9.32" height="5.61" fill="#62c5e0"/>
<rect x="314.38" y="149.27" width="9.32" height="5.61" fill="#62c5e0"/>
<rect x="254.00" y="154.19" width="9.32" height="5.61" fill="#62c5e0"/>
<rect x="262.62" y="154.19" width="9.32" height="5.61" fill="#62c5e0"/>
<rect x="271.25" y="154.19" width="9.32" height="5.61" fill="#62c5e0"/>
<rect x="279.88" y="154.19" width="9.32" height="5.61" fill="#62c296"/>
<rect x="288.50" y="154.19" width="9.32" height="5.61" fill="#62c296"/>
<rect x="297.12" y="154.19" width="9.32" height="5.61" fill="#62c296"/>
<rect x="305.75" y="154.19" width="9.32" height="5.61" fill="#62c296"/>
<rect x="314.38" y="154.19" width="9.32" height="5.61" fill="#62c296"/>
<rect x="254.00" y="159.10" width="9.32" height="5.61" fill="#3fb0e8"/>
<rect x="262.62" y="159.10" width="9.32" height="5.61" fill="#62c5e0"/>
<rect x="271.25" y="159.10" width="9.32" height="5.61" fill="#62c5e0"/>
<rect x="279.88" y="159.10" width="9.32" height="5.61" fill="#62c296"/>
<rect x="288.50" y="159.10" width="9.32" height="5.61" fill="#62c296"/>
<rect x="297.12" y="159.10" width="9.32" height="5.61" fill="#62c5e0"/>
<rect x="305.75" y="159.10" width="9.32" height="5.61" fill="#62c5e0"/>
<rect x="314.38" y="159.10" width="9.32" height="5.61" fill="#62c296"/>
<rect x="254.00" y="164.01" width="9.32" height="5.61" fill="#6cbd45"/>
<rect x="262.62" y="164.01" width="9.32" height="5.61" fill="#6cbd45"/>
<rect x="271.25" y="164.01" width="9.32" height="5.61" fill="#6cbd45"/>
<rect x="279.88" y="164.01" width="9.32" height="5.61" fill="#6cbd45"/>
<rect x="288.50" y="164.01" width="9.32" height="5.61" fill="#6cbd45"/>
<rect x="297.12" y="164.01" width="9.32" height="5.61" fill="#6cbd45"/>
<rect x="305.75" y="164.01" width="9.32" height="5.61" fill="#6cbd45"/>
<rect x="314.38" y="164.01" width="9.32" height="5.61" fill="#6cbd45"/>
<rect x="254.00" y="168.93" width="9.32" height="5.61" fill="#6cbd45"/>
<rect x="262.62" y="168.93" width="9.32" height="5.61" fill="#6cbd45"/>
<rect x="271.25" y="168.93" width="9.32" height="5.61" fill="#6cbd45"/>
<rect x="279.88" y="168.93" width="9.32" height="5.61" fill="#6cbd45"/>
<rect x="288.50" y="168.93" width="9.32" height="5.61" fill="#6cbd45"/>
<rect x="297.12" y="168.93" width="9.32" height="5.61" fill="#6cbd45"/>
<rect x="305.75" y="168.93" width="9.32" height="5.61" fill="#6cbd45"/>
<rect x="314.38" y="168.93" width="9.32" height="5.61" fill="#6cbd45"/>
<rect x="254.00" y="173.84" width="9.32" height="5.61" fill="#62c296"/>
<rect x="262.62" y="173.84" width="9.32" height="5.61" fill="#6cbd45"/>
<rect x="271.25" y="173.84" width="9.32" height="5.61" fill="#6cbd45"/>
<rect x="279.88" y="173.84" width="9.32" height="5.61" fill="#6cbd45"/>
<rect x="288.50" y="173.84" width="9.32" height="5.61" fill="#6cbd45"/>
<rect x="297.12" y="173.84" width="9.32" height="5.61" fill="#6cbd45"/>
<rect x="305.75" y="173.84" width="9.32" height="5.61" fill="#6cbd45"/>
<rect x="314.38" y="173.84" width="9.32" height="5.61" fill="#62c296"/>
<rect x="254.00" y="178.76" width="9.32" height="5.61" fill="#62c5e0"/>
<rect x="262.62" y="178.76" width="9.32" height="5.61" fill="#62c296"/>
<rect x="271.25" y="178.76" width="9.32" height="5.61" fill="#62c296"/>
<rect x="279.88" y="178.76" width="9.32" height="5.61" fill="#62c296"/>
<rect x="288.50" y="178.76" width="9.32" height="5.61" fill="#62c296"/>
<rect x="297.12" y="178.76" width="9.32" height="5.61" fill="#62c296"/>
<rect x="305.75" y="178.76" width="9.32" height="5.61" fill="#62c296"/>
<rect x="314.38" y="178.76" width="9.32" height="5.61" fill="#62c5e0"/>
<rect x="254.00" y="183.67" width="9.32" height="5.61" fill="#62c5e0"/>
<rect x="262.62" y="183.67" width="9.32" height="5.61" fill="#62c296"/>
<rect x="271.25" y="183.67" width="9.32" height="5.61" fill="#62c296"/>
<rect x="279.88" y="183.67" width="9.32" height="5.61" fill="#62c296"/>
<rect x="288.50" y="183.67" width="9.32" height="5.61" fill="#62c296"/>
<rect x="297.12" y="183.67" width="9.32" height="5.61" fill="#62c296"/>
<rect x="305.75" y="183.67" width="9.32" height="5.61" fill="#62c5e0"/>
<rect x="314.38" y="183.67" width="9.32" height="5.61" fill="#62c5e0"/>
<rect x="254.00" y="188.59" width="9.32" height="5.61" fill="#62c5e0"/>
<rect x="262.62" y="188.59" width="9.32" height="5.61" fill="#62c5e0"/>
<rect x="271.25" y="188.59" width="9.32" height="5.61" fill="#62c5e0"/>
<rect x="279.88" y="188.59" width="9.32" height="5.61" fill="#62c296"/>
<rect x="288.50" y="188.59" width="9.32" height="5.61" fill="#62c296"/>
<rect x="297.12" y="188.59" width="9.32" height="5.61" fill="#62c296"/>
<rect x="305.75" y="188.59" width="9.32" height="5.61" fill="#62c5e0"/>
<rect x="314.38" y="188.59" width="9.32" height="5.61" fill="#62c5e0"/>
</g></g>
<rect x="254.00" y="124.70" width="69.00" height="68.80" fill="none" stroke="#2b3a42" stroke-width="0.9"/>
<g clip-path="url(#hc9)"><g filter="url(#hb)">
<rect x="325.10" y="122.70" width="73.00" height="72.80" fill="#6cbd45"/>
<rect x="327.10" y="124.70" width="9.32" height="5.61" fill="#62c5e0"/>
<rect x="335.73" y="124.70" width="9.32" height="5.61" fill="#62c5e0"/>
<rect x="344.35" y="124.70" width="9.32" height="5.61" fill="#62c5e0"/>
<rect x="352.98" y="124.70" width="9.32" height="5.61" fill="#62c5e0"/>
<rect x="361.60" y="124.70" width="9.32" height="5.61" fill="#62c5e0"/>
<rect x="370.23" y="124.70" width="9.32" height="5.61" fill="#62c5e0"/>
<rect x="378.85" y="124.70" width="9.32" height="5.61" fill="#62c5e0"/>
<rect x="387.48" y="124.70" width="9.32" height="5.61" fill="#62c5e0"/>
<rect x="327.10" y="129.61" width="9.32" height="5.61" fill="#3fb0e8"/>
<rect x="335.73" y="129.61" width="9.32" height="5.61" fill="#3fb0e8"/>
<rect x="344.35" y="129.61" width="9.32" height="5.61" fill="#3f84d2"/>
<rect x="352.98" y="129.61" width="9.32" height="5.61" fill="#3fb0e8"/>
<rect x="361.60" y="129.61" width="9.32" height="5.61" fill="#62c5e0"/>
<rect x="370.23" y="129.61" width="9.32" height="5.61" fill="#62c5e0"/>
<rect x="378.85" y="129.61" width="9.32" height="5.61" fill="#62c5e0"/>
<rect x="387.48" y="129.61" width="9.32" height="5.61" fill="#62c5e0"/>
<rect x="327.10" y="134.53" width="9.32" height="5.61" fill="#3f84d2"/>
<rect x="335.73" y="134.53" width="9.32" height="5.61" fill="#3fb0e8"/>
<rect x="344.35" y="134.53" width="9.32" height="5.61" fill="#3f84d2"/>
<rect x="352.98" y="134.53" width="9.32" height="5.61" fill="#3fb0e8"/>
<rect x="361.60" y="134.53" width="9.32" height="5.61" fill="#62c5e0"/>
<rect x="370.23" y="134.53" width="9.32" height="5.61" fill="#62c5e0"/>
<rect x="378.85" y="134.53" width="9.32" height="5.61" fill="#62c5e0"/>
<rect x="387.48" y="134.53" width="9.32" height="5.61" fill="#62c5e0"/>
<rect x="327.10" y="139.44" width="9.32" height="5.61" fill="#3f84d2"/>
<rect x="335.73" y="139.44" width="9.32" height="5.61" fill="#3f84d2"/>
<rect x="344.35" y="139.44" width="9.32" height="5.61" fill="#3fb0e8"/>
<rect x="352.98" y="139.44" width="9.32" height="5.61" fill="#62c5e0"/>
<rect x="361.60" y="139.44" width="9.32" height="5.61" fill="#62c5e0"/>
<rect x="370.23" y="139.44" width="9.32" height="5.61" fill="#62c296"/>
<rect x="378.85" y="139.44" width="9.32" height="5.61" fill="#62c5e0"/>
<rect x="387.48" y="139.44" width="9.32" height="5.61" fill="#62c5e0"/>
<rect x="327.10" y="144.36" width="9.32" height="5.61" fill="#3f84d2"/>
<rect x="335.73" y="144.36" width="9.32" height="5.61" fill="#4254ae"/>
<rect x="344.35" y="144.36" width="9.32" height="5.61" fill="#3fb0e8"/>
<rect x="352.98" y="144.36" width="9.32" height="5.61" fill="#3fb0e8"/>
<rect x="361.60" y="144.36" width="9.32" height="5.61" fill="#62c5e0"/>
<rect x="370.23" y="144.36" width="9.32" height="5.61" fill="#62c5e0"/>
<rect x="378.85" y="144.36" width="9.32" height="5.61" fill="#62c5e0"/>
<rect x="387.48" y="144.36" width="9.32" height="5.61" fill="#62c5e0"/>
<rect x="327.10" y="149.27" width="9.32" height="5.61" fill="#4254ae"/>
<rect x="335.73" y="149.27" width="9.32" height="5.61" fill="#4254ae"/>
<rect x="344.35" y="149.27" width="9.32" height="5.61" fill="#3fb0e8"/>
<rect x="352.98" y="149.27" width="9.32" height="5.61" fill="#62c5e0"/>
<rect x="361.60" y="149.27" width="9.32" height="5.61" fill="#62c5e0"/>
<rect x="370.23" y="149.27" width="9.32" height="5.61" fill="#62c5e0"/>
<rect x="378.85" y="149.27" width="9.32" height="5.61" fill="#62c5e0"/>
<rect x="387.48" y="149.27" width="9.32" height="5.61" fill="#62c5e0"/>
<rect x="327.10" y="154.19" width="9.32" height="5.61" fill="#62c5e0"/>
<rect x="335.73" y="154.19" width="9.32" height="5.61" fill="#6cbd45"/>
<rect x="344.35" y="154.19" width="9.32" height="5.61" fill="#6cbd45"/>
<rect x="352.98" y="154.19" width="9.32" height="5.61" fill="#6cbd45"/>
<rect x="361.60" y="154.19" width="9.32" height="5.61" fill="#a6d03b"/>
<rect x="370.23" y="154.19" width="9.32" height="5.61" fill="#a6d03b"/>
<rect x="378.85" y="154.19" width="9.32" height="5.61" fill="#f5e51c"/>
<rect x="387.48" y="154.19" width="9.32" height="5.61" fill="#6cbd45"/>
<rect x="327.10" y="159.10" width="9.32" height="5.61" fill="#6cbd45"/>
<rect x="335.73" y="159.10" width="9.32" height="5.61" fill="#f5e51c"/>
<rect x="344.35" y="159.10" width="9.32" height="5.61" fill="#f37520"/>
<rect x="352.98" y="159.10" width="9.32" height="5.61" fill="#f37520"/>
<rect x="361.60" y="159.10" width="9.32" height="5.61" fill="#f37520"/>
<rect x="370.23" y="159.10" width="9.32" height="5.61" fill="#f37520"/>
<rect x="378.85" y="159.10" width="9.32" height="5.61" fill="#f37520"/>
<rect x="387.48" y="159.10" width="9.32" height="5.61" fill="#f9a11b"/>
<rect x="327.10" y="164.01" width="9.32" height="5.61" fill="#6cbd45"/>
<rect x="335.73" y="164.01" width="9.32" height="5.61" fill="#f5e51c"/>
<rect x="344.35" y="164.01" width="9.32" height="5.61" fill="#f5e51c"/>
<rect x="352.98" y="164.01" width="9.32" height="5.61" fill="#f5e51c"/>
<rect x="361.60" y="164.01" width="9.32" height="5.61" fill="#f5e51c"/>
<rect x="370.23" y="164.01" width="9.32" height="5.61" fill="#f5e51c"/>
<rect x="378.85" y="164.01" width="9.32" height="5.61" fill="#f5e51c"/>
<rect x="387.48" y="164.01" width="9.32" height="5.61" fill="#a6d03b"/>
<rect x="327.10" y="168.93" width="9.32" height="5.61" fill="#62c296"/>
<rect x="335.73" y="168.93" width="9.32" height="5.61" fill="#6cbd45"/>
<rect x="344.35" y="168.93" width="9.32" height="5.61" fill="#6cbd45"/>
<rect x="352.98" y="168.93" width="9.32" height="5.61" fill="#6cbd45"/>
<rect x="361.60" y="168.93" width="9.32" height="5.61" fill="#6cbd45"/>
<rect x="370.23" y="168.93" width="9.32" height="5.61" fill="#6cbd45"/>
<rect x="378.85" y="168.93" width="9.32" height="5.61" fill="#6cbd45"/>
<rect x="387.48" y="168.93" width="9.32" height="5.61" fill="#6cbd45"/>
<rect x="327.10" y="173.84" width="9.32" height="5.61" fill="#62c296"/>
<rect x="335.73" y="173.84" width="9.32" height="5.61" fill="#6cbd45"/>
<rect x="344.35" y="173.84" width="9.32" height="5.61" fill="#6cbd45"/>
<rect x="352.98" y="173.84" width="9.32" height="5.61" fill="#6cbd45"/>
<rect x="361.60" y="173.84" width="9.32" height="5.61" fill="#6cbd45"/>
<rect x="370.23" y="173.84" width="9.32" height="5.61" fill="#6cbd45"/>
<rect x="378.85" y="173.84" width="9.32" height="5.61" fill="#6cbd45"/>
<rect x="387.48" y="173.84" width="9.32" height="5.61" fill="#62c296"/>
<rect x="327.10" y="178.76" width="9.32" height="5.61" fill="#62c5e0"/>
<rect x="335.73" y="178.76" width="9.32" height="5.61" fill="#62c296"/>
<rect x="344.35" y="178.76" width="9.32" height="5.61" fill="#62c296"/>
<rect x="352.98" y="178.76" width="9.32" height="5.61" fill="#62c296"/>
<rect x="361.60" y="178.76" width="9.32" height="5.61" fill="#62c296"/>
<rect x="370.23" y="178.76" width="9.32" height="5.61" fill="#62c296"/>
<rect x="378.85" y="178.76" width="9.32" height="5.61" fill="#62c296"/>
<rect x="387.48" y="178.76" width="9.32" height="5.61" fill="#62c5e0"/>
<rect x="327.10" y="183.67" width="9.32" height="5.61" fill="#62c5e0"/>
<rect x="335.73" y="183.67" width="9.32" height="5.61" fill="#62c296"/>
<rect x="344.35" y="183.67" width="9.32" height="5.61" fill="#62c296"/>
<rect x="352.98" y="183.67" width="9.32" height="5.61" fill="#62c296"/>
<rect x="361.60" y="183.67" width="9.32" height="5.61" fill="#62c296"/>
<rect x="370.23" y="183.67" width="9.32" height="5.61" fill="#62c296"/>
<rect x="378.85" y="183.67" width="9.32" height="5.61" fill="#62c296"/>
<rect x="387.48" y="183.67" width="9.32" height="5.61" fill="#62c5e0"/>
<rect x="327.10" y="188.59" width="9.32" height="5.61" fill="#62c5e0"/>
<rect x="335.73" y="188.59" width="9.32" height="5.61" fill="#62c296"/>
<rect x="344.35" y="188.59" width="9.32" height="5.61" fill="#62c296"/>
<rect x="352.98" y="188.59" width="9.32" height="5.61" fill="#62c296"/>
<rect x="361.60" y="188.59" width="9.32" height="5.61" fill="#62c296"/>
<rect x="370.23" y="188.59" width="9.32" height="5.61" fill="#62c296"/>
<rect x="378.85" y="188.59" width="9.32" height="5.61" fill="#62c296"/>
<rect x="387.48" y="188.59" width="9.32" height="5.61" fill="#62c5e0"/>
</g></g>
<rect x="327.10" y="124.70" width="69.00" height="68.80" fill="none" stroke="#2b3a42" stroke-width="0.9"/>
<g clip-path="url(#hc10)"><g filter="url(#hb)">
<rect x="32.70" y="196.20" width="73.00" height="72.80" fill="#6cbd45"/>
<rect x="34.70" y="198.20" width="9.32" height="5.61" fill="#62c5e0"/>
<rect x="43.33" y="198.20" width="9.32" height="5.61" fill="#62c5e0"/>
<rect x="51.95" y="198.20" width="9.32" height="5.61" fill="#62c5e0"/>
<rect x="60.58" y="198.20" width="9.32" height="5.61" fill="#3f84d2"/>
<rect x="69.20" y="198.20" width="9.32" height="5.61" fill="#62c5e0"/>
<rect x="77.83" y="198.20" width="9.32" height="5.61" fill="#62c5e0"/>
<rect x="86.45" y="198.20" width="9.32" height="5.61" fill="#62c5e0"/>
<rect x="95.08" y="198.20" width="9.32" height="5.61" fill="#62c5e0"/>
<rect x="34.70" y="203.11" width="9.32" height="5.61" fill="#62c296"/>
<rect x="43.33" y="203.11" width="9.32" height="5.61" fill="#62c5e0"/>
<rect x="51.95" y="203.11" width="9.32" height="5.61" fill="#62c5e0"/>
<rect x="60.58" y="203.11" width="9.32" height="5.61" fill="#62c296"/>
<rect x="69.20" y="203.11" width="9.32" height="5.61" fill="#62c296"/>
<rect x="77.83" y="203.11" width="9.32" height="5.61" fill="#62c296"/>
<rect x="86.45" y="203.11" width="9.32" height="5.61" fill="#62c296"/>
<rect x="95.08" y="203.11" width="9.32" height="5.61" fill="#3fb0e8"/>
<rect x="34.70" y="208.03" width="9.32" height="5.61" fill="#62c5e0"/>
<rect x="43.33" y="208.03" width="9.32" height="5.61" fill="#62c5e0"/>
<rect x="51.95" y="208.03" width="9.32" height="5.61" fill="#62c5e0"/>
<rect x="60.58" y="208.03" width="9.32" height="5.61" fill="#62c5e0"/>
<rect x="69.20" y="208.03" width="9.32" height="5.61" fill="#62c296"/>
<rect x="77.83" y="208.03" width="9.32" height="5.61" fill="#62c5e0"/>
<rect x="86.45" y="208.03" width="9.32" height="5.61" fill="#62c5e0"/>
<rect x="95.08" y="208.03" width="9.32" height="5.61" fill="#62c5e0"/>
<rect x="34.70" y="212.94" width="9.32" height="5.61" fill="#62c296"/>
<rect x="43.33" y="212.94" width="9.32" height="5.61" fill="#62c296"/>
<rect x="51.95" y="212.94" width="9.32" height="5.61" fill="#62c296"/>
<rect x="60.58" y="212.94" width="9.32" height="5.61" fill="#62c296"/>
<rect x="69.20" y="212.94" width="9.32" height="5.61" fill="#62c296"/>
<rect x="77.83" y="212.94" width="9.32" height="5.61" fill="#62c296"/>
<rect x="86.45" y="212.94" width="9.32" height="5.61" fill="#62c296"/>
<rect x="95.08" y="212.94" width="9.32" height="5.61" fill="#62c296"/>
<rect x="34.70" y="217.86" width="9.32" height="5.61" fill="#62c296"/>
<rect x="43.33" y="217.86" width="9.32" height="5.61" fill="#62c5e0"/>
<rect x="51.95" y="217.86" width="9.32" height="5.61" fill="#62c5e0"/>
<rect x="60.58" y="217.86" width="9.32" height="5.61" fill="#62c296"/>
<rect x="69.20" y="217.86" width="9.32" height="5.61" fill="#6cbd45"/>
<rect x="77.83" y="217.86" width="9.32" height="5.61" fill="#62c296"/>
<rect x="86.45" y="217.86" width="9.32" height="5.61" fill="#62c296"/>
<rect x="95.08" y="217.86" width="9.32" height="5.61" fill="#62c296"/>
<rect x="34.70" y="222.77" width="9.32" height="5.61" fill="#62c296"/>
<rect x="43.33" y="222.77" width="9.32" height="5.61" fill="#62c296"/>
<rect x="51.95" y="222.77" width="9.32" height="5.61" fill="#62c5e0"/>
<rect x="60.58" y="222.77" width="9.32" height="5.61" fill="#62c296"/>
<rect x="69.20" y="222.77" width="9.32" height="5.61" fill="#6cbd45"/>
<rect x="77.83" y="222.77" width="9.32" height="5.61" fill="#6cbd45"/>
<rect x="86.45" y="222.77" width="9.32" height="5.61" fill="#6cbd45"/>
<rect x="95.08" y="222.77" width="9.32" height="5.61" fill="#62c296"/>
<rect x="34.70" y="227.69" width="9.32" height="5.61" fill="#62c5e0"/>
<rect x="43.33" y="227.69" width="9.32" height="5.61" fill="#6cbd45"/>
<rect x="51.95" y="227.69" width="9.32" height="5.61" fill="#62c296"/>
<rect x="60.58" y="227.69" width="9.32" height="5.61" fill="#6cbd45"/>
<rect x="69.20" y="227.69" width="9.32" height="5.61" fill="#6cbd45"/>
<rect x="77.83" y="227.69" width="9.32" height="5.61" fill="#6cbd45"/>
<rect x="86.45" y="227.69" width="9.32" height="5.61" fill="#6cbd45"/>
<rect x="95.08" y="227.69" width="9.32" height="5.61" fill="#6cbd45"/>
<rect x="34.70" y="232.60" width="9.32" height="5.61" fill="#62c296"/>
<rect x="43.33" y="232.60" width="9.32" height="5.61" fill="#6cbd45"/>
<rect x="51.95" y="232.60" width="9.32" height="5.61" fill="#6cbd45"/>
<rect x="60.58" y="232.60" width="9.32" height="5.61" fill="#6cbd45"/>
<rect x="69.20" y="232.60" width="9.32" height="5.61" fill="#6cbd45"/>
<rect x="77.83" y="232.60" width="9.32" height="5.61" fill="#6cbd45"/>
<rect x="86.45" y="232.60" width="9.32" height="5.61" fill="#6cbd45"/>
<rect x="95.08" y="232.60" width="9.32" height="5.61" fill="#6cbd45"/>
<rect x="34.70" y="237.51" width="9.32" height="5.61" fill="#6cbd45"/>
<rect x="43.33" y="237.51" width="9.32" height="5.61" fill="#6cbd45"/>
<rect x="51.95" y="237.51" width="9.32" height="5.61" fill="#6cbd45"/>
<rect x="60.58" y="237.51" width="9.32" height="5.61" fill="#6cbd45"/>
<rect x="69.20" y="237.51" width="9.32" height="5.61" fill="#6cbd45"/>
<rect x="77.83" y="237.51" width="9.32" height="5.61" fill="#6cbd45"/>
<rect x="86.45" y="237.51" width="9.32" height="5.61" fill="#6cbd45"/>
<rect x="95.08" y="237.51" width="9.32" height="5.61" fill="#6cbd45"/>
<rect x="34.70" y="242.43" width="9.32" height="5.61" fill="#6cbd45"/>
<rect x="43.33" y="242.43" width="9.32" height="5.61" fill="#6cbd45"/>
<rect x="51.95" y="242.43" width="9.32" height="5.61" fill="#6cbd45"/>
<rect x="60.58" y="242.43" width="9.32" height="5.61" fill="#6cbd45"/>
<rect x="69.20" y="242.43" width="9.32" height="5.61" fill="#6cbd45"/>
<rect x="77.83" y="242.43" width="9.32" height="5.61" fill="#6cbd45"/>
<rect x="86.45" y="242.43" width="9.32" height="5.61" fill="#6cbd45"/>
<rect x="95.08" y="242.43" width="9.32" height="5.61" fill="#6cbd45"/>
<rect x="34.70" y="247.34" width="9.32" height="5.61" fill="#62c296"/>
<rect x="43.33" y="247.34" width="9.32" height="5.61" fill="#6cbd45"/>
<rect x="51.95" y="247.34" width="9.32" height="5.61" fill="#6cbd45"/>
<rect x="60.58" y="247.34" width="9.32" height="5.61" fill="#6cbd45"/>
<rect x="69.20" y="247.34" width="9.32" height="5.61" fill="#6cbd45"/>
<rect x="77.83" y="247.34" width="9.32" height="5.61" fill="#6cbd45"/>
<rect x="86.45" y="247.34" width="9.32" height="5.61" fill="#a6d03b"/>
<rect x="95.08" y="247.34" width="9.32" height="5.61" fill="#6cbd45"/>
<rect x="34.70" y="252.26" width="9.32" height="5.61" fill="#62c296"/>
<rect x="43.33" y="252.26" width="9.32" height="5.61" fill="#6cbd45"/>
<rect x="51.95" y="252.26" width="9.32" height="5.61" fill="#6cbd45"/>
<rect x="60.58" y="252.26" width="9.32" height="5.61" fill="#6cbd45"/>
<rect x="69.20" y="252.26" width="9.32" height="5.61" fill="#6cbd45"/>
<rect x="77.83" y="252.26" width="9.32" height="5.61" fill="#6cbd45"/>
<rect x="86.45" y="252.26" width="9.32" height="5.61" fill="#6cbd45"/>
<rect x="95.08" y="252.26" width="9.32" height="5.61" fill="#6cbd45"/>
<rect x="34.70" y="257.17" width="9.32" height="5.61" fill="#62c296"/>
<rect x="43.33" y="257.17" width="9.32" height="5.61" fill="#a6d03b"/>
<rect x="51.95" y="257.17" width="9.32" height="5.61" fill="#6cbd45"/>
<rect x="60.58" y="257.17" width="9.32" height="5.61" fill="#6cbd45"/>
<rect x="69.20" y="257.17" width="9.32" height="5.61" fill="#6cbd45"/>
<rect x="77.83" y="257.17" width="9.32" height="5.61" fill="#6cbd45"/>
<rect x="86.45" y="257.17" width="9.32" height="5.61" fill="#6cbd45"/>
<rect x="95.08" y="257.17" width="9.32" height="5.61" fill="#6cbd45"/>
<rect x="34.70" y="262.09" width="9.32" height="5.61" fill="#6cbd45"/>
<rect x="43.33" y="262.09" width="9.32" height="5.61" fill="#6cbd45"/>
<rect x="51.95" y="262.09" width="9.32" height="5.61" fill="#6cbd45"/>
<rect x="60.58" y="262.09" width="9.32" height="5.61" fill="#6cbd45"/>
<rect x="69.20" y="262.09" width="9.32" height="5.61" fill="#6cbd45"/>
<rect x="77.83" y="262.09" width="9.32" height="5.61" fill="#6cbd45"/>
<rect x="86.45" y="262.09" width="9.32" height="5.61" fill="#6cbd45"/>
<rect x="95.08" y="262.09" width="9.32" height="5.61" fill="#6cbd45"/>
</g></g>
<rect x="34.70" y="198.20" width="69.00" height="68.80" fill="none" stroke="#2b3a42" stroke-width="0.9"/>
<g clip-path="url(#hc11)"><g filter="url(#hb)">
<rect x="105.80" y="196.20" width="73.00" height="72.80" fill="#6cbd45"/>
<rect x="107.80" y="198.20" width="9.32" height="5.61" fill="#3fb0e8"/>
<rect x="116.42" y="198.20" width="9.32" height="5.61" fill="#3fb0e8"/>
<rect x="125.05" y="198.20" width="9.32" height="5.61" fill="#3f84d2"/>
<rect x="133.68" y="198.20" width="9.32" height="5.61" fill="#3f84d2"/>
<rect x="142.30" y="198.20" width="9.32" height="5.61" fill="#62c5e0"/>
<rect x="150.93" y="198.20" width="9.32" height="5.61" fill="#62c5e0"/>
<rect x="159.55" y="198.20" width="9.32" height="5.61" fill="#62c296"/>
<rect x="168.18" y="198.20" width="9.32" height="5.61" fill="#62c5e0"/>
<rect x="107.80" y="203.11" width="9.32" height="5.61" fill="#62c5e0"/>
<rect x="116.42" y="203.11" width="9.32" height="5.61" fill="#3f84d2"/>
<rect x="125.05" y="203.11" width="9.32" height="5.61" fill="#4254ae"/>
<rect x="133.68" y="203.11" width="9.32" height="5.61" fill="#3f84d2"/>
<rect x="142.30" y="203.11" width="9.32" height="5.61" fill="#62c5e0"/>
<rect x="150.93" y="203.11" width="9.32" height="5.61" fill="#62c5e0"/>
<rect x="159.55" y="203.11" width="9.32" height="5.61" fill="#62c296"/>
<rect x="168.18" y="203.11" width="9.32" height="5.61" fill="#62c5e0"/>
<rect x="107.80" y="208.03" width="9.32" height="5.61" fill="#3fb0e8"/>
<rect x="116.42" y="208.03" width="9.32" height="5.61" fill="#3f84d2"/>
<rect x="125.05" y="208.03" width="9.32" height="5.61" fill="#4254ae"/>
<rect x="133.68" y="208.03" width="9.32" height="5.61" fill="#4254ae"/>
<rect x="142.30" y="208.03" width="9.32" height="5.61" fill="#3fb0e8"/>
<rect x="150.93" y="208.03" width="9.32" height="5.61" fill="#3f84d2"/>
<rect x="159.55" y="208.03" width="9.32" height="5.61" fill="#62c296"/>
<rect x="168.18" y="208.03" width="9.32" height="5.61" fill="#62c5e0"/>
<rect x="107.80" y="212.94" width="9.32" height="5.61" fill="#4254ae"/>
<rect x="116.42" y="212.94" width="9.32" height="5.61" fill="#3fb0e8"/>
<rect x="125.05" y="212.94" width="9.32" height="5.61" fill="#3f84d2"/>
<rect x="133.68" y="212.94" width="9.32" height="5.61" fill="#3f84d2"/>
<rect x="142.30" y="212.94" width="9.32" height="5.61" fill="#3fb0e8"/>
<rect x="150.93" y="212.94" width="9.32" height="5.61" fill="#62c5e0"/>
<rect x="159.55" y="212.94" width="9.32" height="5.61" fill="#62c296"/>
<rect x="168.18" y="212.94" width="9.32" height="5.61" fill="#62c296"/>
<rect x="107.80" y="217.86" width="9.32" height="5.61" fill="#4254ae"/>
<rect x="116.42" y="217.86" width="9.32" height="5.61" fill="#3f84d2"/>
<rect x="125.05" y="217.86" width="9.32" height="5.61" fill="#4254ae"/>
<rect x="133.68" y="217.86" width="9.32" height="5.61" fill="#4254ae"/>
<rect x="142.30" y="217.86" width="9.32" height="5.61" fill="#62c5e0"/>
<rect x="150.93" y="217.86" width="9.32" height="5.61" fill="#62c296"/>
<rect x="159.55" y="217.86" width="9.32" height="5.61" fill="#62c296"/>
<rect x="168.18" y="217.86" width="9.32" height="5.61" fill="#62c296"/>
<rect x="107.80" y="222.77" width="9.32" height="5.61" fill="#3fb0e8"/>
<rect x="116.42" y="222.77" width="9.32" height="5.61" fill="#62c296"/>
<rect x="125.05" y="222.77" width="9.32" height="5.61" fill="#62c5e0"/>
<rect x="133.68" y="222.77" width="9.32" height="5.61" fill="#62c5e0"/>
<rect x="142.30" y="222.77" width="9.32" height="5.61" fill="#6cbd45"/>
<rect x="150.93" y="222.77" width="9.32" height="5.61" fill="#6cbd45"/>
<rect x="159.55" y="222.77" width="9.32" height="5.61" fill="#6cbd45"/>
<rect x="168.18" y="222.77" width="9.32" height="5.61" fill="#6cbd45"/>
<rect x="107.80" y="227.69" width="9.32" height="5.61" fill="#3fb0e8"/>
<rect x="116.42" y="227.69" width="9.32" height="5.61" fill="#4254ae"/>
<rect x="125.05" y="227.69" width="9.32" height="5.61" fill="#62c5e0"/>
<rect x="133.68" y="227.69" width="9.32" height="5.61" fill="#62c5e0"/>
<rect x="142.30" y="227.69" width="9.32" height="5.61" fill="#6cbd45"/>
<rect x="150.93" y="227.69" width="9.32" height="5.61" fill="#6cbd45"/>
<rect x="159.55" y="227.69" width="9.32" height="5.61" fill="#6cbd45"/>
<rect x="168.18" y="227.69" width="9.32" height="5.61" fill="#6cbd45"/>
<rect x="107.80" y="232.60" width="9.32" height="5.61" fill="#3fb0e8"/>
<rect x="116.42" y="232.60" width="9.32" height="5.61" fill="#3fb0e8"/>
<rect x="125.05" y="232.60" width="9.32" height="5.61" fill="#62c5e0"/>
<rect x="133.68" y="232.60" width="9.32" height="5.61" fill="#62c5e0"/>
<rect x="142.30" y="232.60" width="9.32" height="5.61" fill="#6cbd45"/>
<rect x="150.93" y="232.60" width="9.32" height="5.61" fill="#6cbd45"/>
<rect x="159.55" y="232.60" width="9.32" height="5.61" fill="#6cbd45"/>
<rect x="168.18" y="232.60" width="9.32" height="5.61" fill="#6cbd45"/>
<rect x="107.80" y="237.51" width="9.32" height="5.61" fill="#3fb0e8"/>
<rect x="116.42" y="237.51" width="9.32" height="5.61" fill="#3fb0e8"/>
<rect x="125.05" y="237.51" width="9.32" height="5.61" fill="#3fb0e8"/>
<rect x="133.68" y="237.51" width="9.32" height="5.61" fill="#62c5e0"/>
<rect x="142.30" y="237.51" width="9.32" height="5.61" fill="#6cbd45"/>
<rect x="150.93" y="237.51" width="9.32" height="5.61" fill="#6cbd45"/>
<rect x="159.55" y="237.51" width="9.32" height="5.61" fill="#a6d03b"/>
<rect x="168.18" y="237.51" width="9.32" height="5.61" fill="#6cbd45"/>
<rect x="107.80" y="242.43" width="9.32" height="5.61" fill="#3fb0e8"/>
<rect x="116.42" y="242.43" width="9.32" height="5.61" fill="#3f84d2"/>
<rect x="125.05" y="242.43" width="9.32" height="5.61" fill="#3fb0e8"/>
<rect x="133.68" y="242.43" width="9.32" height="5.61" fill="#62c5e0"/>
<rect x="142.30" y="242.43" width="9.32" height="5.61" fill="#6cbd45"/>
<rect x="150.93" y="242.43" width="9.32" height="5.61" fill="#6cbd45"/>
<rect x="159.55" y="242.43" width="9.32" height="5.61" fill="#6cbd45"/>
<rect x="168.18" y="242.43" width="9.32" height="5.61" fill="#6cbd45"/>
<rect x="107.80" y="247.34" width="9.32" height="5.61" fill="#62c5e0"/>
<rect x="116.42" y="247.34" width="9.32" height="5.61" fill="#62c5e0"/>
<rect x="125.05" y="247.34" width="9.32" height="5.61" fill="#62c296"/>
<rect x="133.68" y="247.34" width="9.32" height="5.61" fill="#62c5e0"/>
<rect x="142.30" y="247.34" width="9.32" height="5.61" fill="#6cbd45"/>
<rect x="150.93" y="247.34" width="9.32" height="5.61" fill="#6cbd45"/>
<rect x="159.55" y="247.34" width="9.32" height="5.61" fill="#a6d03b"/>
<rect x="168.18" y="247.34" width="9.32" height="5.61" fill="#6cbd45"/>
<rect x="107.80" y="252.26" width="9.32" height="5.61" fill="#3fb0e8"/>
<rect x="116.42" y="252.26" width="9.32" height="5.61" fill="#4254ae"/>
<rect x="125.05" y="252.26" width="9.32" height="5.61" fill="#4254ae"/>
<rect x="133.68" y="252.26" width="9.32" height="5.61" fill="#3fb0e8"/>
<rect x="142.30" y="252.26" width="9.32" height="5.61" fill="#6cbd45"/>
<rect x="150.93" y="252.26" width="9.32" height="5.61" fill="#6cbd45"/>
<rect x="159.55" y="252.26" width="9.32" height="5.61" fill="#6cbd45"/>
<rect x="168.18" y="252.26" width="9.32" height="5.61" fill="#6cbd45"/>
<rect x="107.80" y="257.17" width="9.32" height="5.61" fill="#3f84d2"/>
<rect x="116.42" y="257.17" width="9.32" height="5.61" fill="#3f84d2"/>
<rect x="125.05" y="257.17" width="9.32" height="5.61" fill="#3f84d2"/>
<rect x="133.68" y="257.17" width="9.32" height="5.61" fill="#62c5e0"/>
<rect x="142.30" y="257.17" width="9.32" height="5.61" fill="#62c296"/>
<rect x="150.93" y="257.17" width="9.32" height="5.61" fill="#6cbd45"/>
<rect x="159.55" y="257.17" width="9.32" height="5.61" fill="#6cbd45"/>
<rect x="168.18" y="257.17" width="9.32" height="5.61" fill="#6cbd45"/>
<rect x="107.80" y="262.09" width="9.32" height="5.61" fill="#4254ae"/>
<rect x="116.42" y="262.09" width="9.32" height="5.61" fill="#4254ae"/>
<rect x="125.05" y="262.09" width="9.32" height="5.61" fill="#4254ae"/>
<rect x="133.68" y="262.09" width="9.32" height="5.61" fill="#3fb0e8"/>
<rect x="142.30" y="262.09" width="9.32" height="5.61" fill="#62c5e0"/>
<rect x="150.93" y="262.09" width="9.32" height="5.61" fill="#6cbd45"/>
<rect x="159.55" y="262.09" width="9.32" height="5.61" fill="#6cbd45"/>
<rect x="168.18" y="262.09" width="9.32" height="5.61" fill="#62c296"/>
</g></g>
<rect x="107.80" y="198.20" width="69.00" height="68.80" fill="none" stroke="#2b3a42" stroke-width="0.9"/>
<g clip-path="url(#hc12)"><g filter="url(#hb)">
<rect x="178.90" y="196.20" width="73.00" height="72.80" fill="#6cbd45"/>
<rect x="180.90" y="198.20" width="9.32" height="5.61" fill="#4254ae"/>
<rect x="189.53" y="198.20" width="9.32" height="5.61" fill="#3fb0e8"/>
<rect x="198.15" y="198.20" width="9.32" height="5.61" fill="#62c5e0"/>
<rect x="206.78" y="198.20" width="9.32" height="5.61" fill="#3fb0e8"/>
<rect x="215.40" y="198.20" width="9.32" height="5.61" fill="#3f84d2"/>
<rect x="224.03" y="198.20" width="9.32" height="5.61" fill="#62c5e0"/>
<rect x="232.65" y="198.20" width="9.32" height="5.61" fill="#62c5e0"/>
<rect x="241.28" y="198.20" width="9.32" height="5.61" fill="#3fb0e8"/>
<rect x="180.90" y="203.11" width="9.32" height="5.61" fill="#4254ae"/>
<rect x="189.53" y="203.11" width="9.32" height="5.61" fill="#3fb0e8"/>
<rect x="198.15" y="203.11" width="9.32" height="5.61" fill="#62c5e0"/>
<rect x="206.78" y="203.11" width="9.32" height="5.61" fill="#3f84d2"/>
<rect x="215.40" y="203.11" width="9.32" height="5.61" fill="#62c5e0"/>
<rect x="224.03" y="203.11" width="9.32" height="5.61" fill="#62c5e0"/>
<rect x="232.65" y="203.11" width="9.32" height="5.61" fill="#3fb0e8"/>
<rect x="241.28" y="203.11" width="9.32" height="5.61" fill="#3f84d2"/>
<rect x="180.90" y="208.03" width="9.32" height="5.61" fill="#3f84d2"/>
<rect x="189.53" y="208.03" width="9.32" height="5.61" fill="#4254ae"/>
<rect x="198.15" y="208.03" width="9.32" height="5.61" fill="#4254ae"/>
<rect x="206.78" y="208.03" width="9.32" height="5.61" fill="#4254ae"/>
<rect x="215.40" y="208.03" width="9.32" height="5.61" fill="#62c5e0"/>
<rect x="224.03" y="208.03" width="9.32" height="5.61" fill="#3fb0e8"/>
<rect x="232.65" y="208.03" width="9.32" height="5.61" fill="#4254ae"/>
<rect x="241.28" y="208.03" width="9.32" height="5.61" fill="#4254ae"/>
<rect x="180.90" y="212.94" width="9.32" height="5.61" fill="#4254ae"/>
<rect x="189.53" y="212.94" width="9.32" height="5.61" fill="#6a4aa8"/>
<rect x="198.15" y="212.94" width="9.32" height="5.61" fill="#6a4aa8"/>
<rect x="206.78" y="212.94" width="9.32" height="5.61" fill="#4254ae"/>
<rect x="215.40" y="212.94" width="9.32" height="5.61" fill="#4254ae"/>
<rect x="224.03" y="212.94" width="9.32" height="5.61" fill="#4254ae"/>
<rect x="232.65" y="212.94" width="9.32" height="5.61" fill="#4254ae"/>
<rect x="241.28" y="212.94" width="9.32" height="5.61" fill="#4254ae"/>
<rect x="180.90" y="217.86" width="9.32" height="5.61" fill="#a2409c"/>
<rect x="189.53" y="217.86" width="9.32" height="5.61" fill="#6a4aa8"/>
<rect x="198.15" y="217.86" width="9.32" height="5.61" fill="#6a4aa8"/>
<rect x="206.78" y="217.86" width="9.32" height="5.61" fill="#3f84d2"/>
<rect x="215.40" y="217.86" width="9.32" height="5.61" fill="#6a4aa8"/>
<rect x="224.03" y="217.86" width="9.32" height="5.61" fill="#6a4aa8"/>
<rect x="232.65" y="217.86" width="9.32" height="5.61" fill="#4254ae"/>
<rect x="241.28" y="217.86" width="9.32" height="5.61" fill="#4254ae"/>
<rect x="180.90" y="222.77" width="9.32" height="5.61" fill="#4254ae"/>
<rect x="189.53" y="222.77" width="9.32" height="5.61" fill="#62c5e0"/>
<rect x="198.15" y="222.77" width="9.32" height="5.61" fill="#62c5e0"/>
<rect x="206.78" y="222.77" width="9.32" height="5.61" fill="#3fb0e8"/>
<rect x="215.40" y="222.77" width="9.32" height="5.61" fill="#3f84d2"/>
<rect x="224.03" y="222.77" width="9.32" height="5.61" fill="#4254ae"/>
<rect x="232.65" y="222.77" width="9.32" height="5.61" fill="#3fb0e8"/>
<rect x="241.28" y="222.77" width="9.32" height="5.61" fill="#4254ae"/>
<rect x="180.90" y="227.69" width="9.32" height="5.61" fill="#62c5e0"/>
<rect x="189.53" y="227.69" width="9.32" height="5.61" fill="#3f84d2"/>
<rect x="198.15" y="227.69" width="9.32" height="5.61" fill="#3fb0e8"/>
<rect x="206.78" y="227.69" width="9.32" height="5.61" fill="#4254ae"/>
<rect x="215.40" y="227.69" width="9.32" height="5.61" fill="#3f84d2"/>
<rect x="224.03" y="227.69" width="9.32" height="5.61" fill="#4254ae"/>
<rect x="232.65" y="227.69" width="9.32" height="5.61" fill="#4254ae"/>
<rect x="241.28" y="227.69" width="9.32" height="5.61" fill="#62c5e0"/>
<rect x="180.90" y="232.60" width="9.32" height="5.61" fill="#62c296"/>
<rect x="189.53" y="232.60" width="9.32" height="5.61" fill="#4254ae"/>
<rect x="198.15" y="232.60" width="9.32" height="5.61" fill="#6a4aa8"/>
<rect x="206.78" y="232.60" width="9.32" height="5.61" fill="#3fb0e8"/>
<rect x="215.40" y="232.60" width="9.32" height="5.61" fill="#4254ae"/>
<rect x="224.03" y="232.60" width="9.32" height="5.61" fill="#3f84d2"/>
<rect x="232.65" y="232.60" width="9.32" height="5.61" fill="#3fb0e8"/>
<rect x="241.28" y="232.60" width="9.32" height="5.61" fill="#3f84d2"/>
<rect x="180.90" y="237.51" width="9.32" height="5.61" fill="#3f84d2"/>
<rect x="189.53" y="237.51" width="9.32" height="5.61" fill="#4254ae"/>
<rect x="198.15" y="237.51" width="9.32" height="5.61" fill="#6a4aa8"/>
<rect x="206.78" y="237.51" width="9.32" height="5.61" fill="#4254ae"/>
<rect x="215.40" y="237.51" width="9.32" height="5.61" fill="#4254ae"/>
<rect x="224.03" y="237.51" width="9.32" height="5.61" fill="#4254ae"/>
<rect x="232.65" y="237.51" width="9.32" height="5.61" fill="#4254ae"/>
<rect x="241.28" y="237.51" width="9.32" height="5.61" fill="#4254ae"/>
<rect x="180.90" y="242.43" width="9.32" height="5.61" fill="#4254ae"/>
<rect x="189.53" y="242.43" width="9.32" height="5.61" fill="#4254ae"/>
<rect x="198.15" y="242.43" width="9.32" height="5.61" fill="#6a4aa8"/>
<rect x="206.78" y="242.43" width="9.32" height="5.61" fill="#a2409c"/>
<rect x="215.40" y="242.43" width="9.32" height="5.61" fill="#4254ae"/>
<rect x="224.03" y="242.43" width="9.32" height="5.61" fill="#4254ae"/>
<rect x="232.65" y="242.43" width="9.32" height="5.61" fill="#4254ae"/>
<rect x="241.28" y="242.43" width="9.32" height="5.61" fill="#4254ae"/>
<rect x="180.90" y="247.34" width="9.32" height="5.61" fill="#4254ae"/>
<rect x="189.53" y="247.34" width="9.32" height="5.61" fill="#6a4aa8"/>
<rect x="198.15" y="247.34" width="9.32" height="5.61" fill="#a2409c"/>
<rect x="206.78" y="247.34" width="9.32" height="5.61" fill="#6a4aa8"/>
<rect x="215.40" y="247.34" width="9.32" height="5.61" fill="#4254ae"/>
<rect x="224.03" y="247.34" width="9.32" height="5.61" fill="#4254ae"/>
<rect x="232.65" y="247.34" width="9.32" height="5.61" fill="#a2409c"/>
<rect x="241.28" y="247.34" width="9.32" height="5.61" fill="#4254ae"/>
<rect x="180.90" y="252.26" width="9.32" height="5.61" fill="#4254ae"/>
<rect x="189.53" y="252.26" width="9.32" height="5.61" fill="#3fb0e8"/>
<rect x="198.15" y="252.26" width="9.32" height="5.61" fill="#4254ae"/>
<rect x="206.78" y="252.26" width="9.32" height="5.61" fill="#4254ae"/>
<rect x="215.40" y="252.26" width="9.32" height="5.61" fill="#4254ae"/>
<rect x="224.03" y="252.26" width="9.32" height="5.61" fill="#3fb0e8"/>
<rect x="232.65" y="252.26" width="9.32" height="5.61" fill="#4254ae"/>
<rect x="241.28" y="252.26" width="9.32" height="5.61" fill="#4254ae"/>
<rect x="180.90" y="257.17" width="9.32" height="5.61" fill="#3f84d2"/>
<rect x="189.53" y="257.17" width="9.32" height="5.61" fill="#3fb0e8"/>
<rect x="198.15" y="257.17" width="9.32" height="5.61" fill="#3fb0e8"/>
<rect x="206.78" y="257.17" width="9.32" height="5.61" fill="#3f84d2"/>
<rect x="215.40" y="257.17" width="9.32" height="5.61" fill="#3f84d2"/>
<rect x="224.03" y="257.17" width="9.32" height="5.61" fill="#3fb0e8"/>
<rect x="232.65" y="257.17" width="9.32" height="5.61" fill="#3fb0e8"/>
<rect x="241.28" y="257.17" width="9.32" height="5.61" fill="#3f84d2"/>
<rect x="180.90" y="262.09" width="9.32" height="5.61" fill="#62c5e0"/>
<rect x="189.53" y="262.09" width="9.32" height="5.61" fill="#62c5e0"/>
<rect x="198.15" y="262.09" width="9.32" height="5.61" fill="#62c5e0"/>
<rect x="206.78" y="262.09" width="9.32" height="5.61" fill="#62c5e0"/>
<rect x="215.40" y="262.09" width="9.32" height="5.61" fill="#3fb0e8"/>
<rect x="224.03" y="262.09" width="9.32" height="5.61" fill="#62c5e0"/>
<rect x="232.65" y="262.09" width="9.32" height="5.61" fill="#62c5e0"/>
<rect x="241.28" y="262.09" width="9.32" height="5.61" fill="#62c5e0"/>
</g></g>
<rect x="180.90" y="198.20" width="69.00" height="68.80" fill="none" stroke="#2b3a42" stroke-width="0.9"/>
<g clip-path="url(#hc13)"><g filter="url(#hb)">
<rect x="252.00" y="196.20" width="73.00" height="72.80" fill="#6cbd45"/>
<rect x="254.00" y="198.20" width="9.32" height="5.61" fill="#3fb0e8"/>
<rect x="262.62" y="198.20" width="9.32" height="5.61" fill="#3f84d2"/>
<rect x="271.25" y="198.20" width="9.32" height="5.61" fill="#3f84d2"/>
<rect x="279.88" y="198.20" width="9.32" height="5.61" fill="#3f84d2"/>
<rect x="288.50" y="198.20" width="9.32" height="5.61" fill="#3f84d2"/>
<rect x="297.12" y="198.20" width="9.32" height="5.61" fill="#3f84d2"/>
<rect x="305.75" y="198.20" width="9.32" height="5.61" fill="#3f84d2"/>
<rect x="314.38" y="198.20" width="9.32" height="5.61" fill="#4254ae"/>
<rect x="254.00" y="203.11" width="9.32" height="5.61" fill="#3fb0e8"/>
<rect x="262.62" y="203.11" width="9.32" height="5.61" fill="#3f84d2"/>
<rect x="271.25" y="203.11" width="9.32" height="5.61" fill="#3f84d2"/>
<rect x="279.88" y="203.11" width="9.32" height="5.61" fill="#4254ae"/>
<rect x="288.50" y="203.11" width="9.32" height="5.61" fill="#4254ae"/>
<rect x="297.12" y="203.11" width="9.32" height="5.61" fill="#3f84d2"/>
<rect x="305.75" y="203.11" width="9.32" height="5.61" fill="#3f84d2"/>
<rect x="314.38" y="203.11" width="9.32" height="5.61" fill="#4254ae"/>
<rect x="254.00" y="208.03" width="9.32" height="5.61" fill="#3fb0e8"/>
<rect x="262.62" y="208.03" width="9.32" height="5.61" fill="#4254ae"/>
<rect x="271.25" y="208.03" width="9.32" height="5.61" fill="#4254ae"/>
<rect x="279.88" y="208.03" width="9.32" height="5.61" fill="#4254ae"/>
<rect x="288.50" y="208.03" width="9.32" height="5.61" fill="#4254ae"/>
<rect x="297.12" y="208.03" width="9.32" height="5.61" fill="#4254ae"/>
<rect x="305.75" y="208.03" width="9.32" height="5.61" fill="#6a4aa8"/>
<rect x="314.38" y="208.03" width="9.32" height="5.61" fill="#6a4aa8"/>
<rect x="254.00" y="212.94" width="9.32" height="5.61" fill="#3f84d2"/>
<rect x="262.62" y="212.94" width="9.32" height="5.61" fill="#4254ae"/>
<rect x="271.25" y="212.94" width="9.32" height="5.61" fill="#6a4aa8"/>
<rect x="279.88" y="212.94" width="9.32" height="5.61" fill="#6a4aa8"/>
<rect x="288.50" y="212.94" width="9.32" height="5.61" fill="#4254ae"/>
<rect x="297.12" y="212.94" width="9.32" height="5.61" fill="#6a4aa8"/>
<rect x="305.75" y="212.94" width="9.32" height="5.61" fill="#a2409c"/>
<rect x="314.38" y="212.94" width="9.32" height="5.61" fill="#6a4aa8"/>
<rect x="254.00" y="217.86" width="9.32" height="5.61" fill="#3f84d2"/>
<rect x="262.62" y="217.86" width="9.32" height="5.61" fill="#4254ae"/>
<rect x="271.25" y="217.86" width="9.32" height="5.61" fill="#6a4aa8"/>
<rect x="279.88" y="217.86" width="9.32" height="5.61" fill="#6a4aa8"/>
<rect x="288.50" y="217.86" width="9.32" height="5.61" fill="#a2409c"/>
<rect x="297.12" y="217.86" width="9.32" height="5.61" fill="#6a4aa8"/>
<rect x="305.75" y="217.86" width="9.32" height="5.61" fill="#6a4aa8"/>
<rect x="314.38" y="217.86" width="9.32" height="5.61" fill="#a2409c"/>
<rect x="254.00" y="222.77" width="9.32" height="5.61" fill="#3fb0e8"/>
<rect x="262.62" y="222.77" width="9.32" height="5.61" fill="#4254ae"/>
<rect x="271.25" y="222.77" width="9.32" height="5.61" fill="#62c5e0"/>
<rect x="279.88" y="222.77" width="9.32" height="5.61" fill="#3f84d2"/>
<rect x="288.50" y="222.77" width="9.32" height="5.61" fill="#4254ae"/>
<rect x="297.12" y="222.77" width="9.32" height="5.61" fill="#4254ae"/>
<rect x="305.75" y="222.77" width="9.32" height="5.61" fill="#4254ae"/>
<rect x="314.38" y="222.77" width="9.32" height="5.61" fill="#4254ae"/>
<rect x="254.00" y="227.69" width="9.32" height="5.61" fill="#62c5e0"/>
<rect x="262.62" y="227.69" width="9.32" height="5.61" fill="#4254ae"/>
<rect x="271.25" y="227.69" width="9.32" height="5.61" fill="#3f84d2"/>
<rect x="279.88" y="227.69" width="9.32" height="5.61" fill="#4254ae"/>
<rect x="288.50" y="227.69" width="9.32" height="5.61" fill="#4254ae"/>
<rect x="297.12" y="227.69" width="9.32" height="5.61" fill="#4254ae"/>
<rect x="305.75" y="227.69" width="9.32" height="5.61" fill="#4254ae"/>
<rect x="314.38" y="227.69" width="9.32" height="5.61" fill="#4254ae"/>
<rect x="254.00" y="232.60" width="9.32" height="5.61" fill="#62c5e0"/>
<rect x="262.62" y="232.60" width="9.32" height="5.61" fill="#3f84d2"/>
<rect x="271.25" y="232.60" width="9.32" height="5.61" fill="#4254ae"/>
<rect x="279.88" y="232.60" width="9.32" height="5.61" fill="#4254ae"/>
<rect x="288.50" y="232.60" width="9.32" height="5.61" fill="#4254ae"/>
<rect x="297.12" y="232.60" width="9.32" height="5.61" fill="#4254ae"/>
<rect x="305.75" y="232.60" width="9.32" height="5.61" fill="#4254ae"/>
<rect x="314.38" y="232.60" width="9.32" height="5.61" fill="#4254ae"/>
<rect x="254.00" y="237.51" width="9.32" height="5.61" fill="#62c5e0"/>
<rect x="262.62" y="237.51" width="9.32" height="5.61" fill="#62c296"/>
<rect x="271.25" y="237.51" width="9.32" height="5.61" fill="#3f84d2"/>
<rect x="279.88" y="237.51" width="9.32" height="5.61" fill="#3f84d2"/>
<rect x="288.50" y="237.51" width="9.32" height="5.61" fill="#4254ae"/>
<rect x="297.12" y="237.51" width="9.32" height="5.61" fill="#3f84d2"/>
<rect x="305.75" y="237.51" width="9.32" height="5.61" fill="#4254ae"/>
<rect x="314.38" y="237.51" width="9.32" height="5.61" fill="#4254ae"/>
<rect x="254.00" y="242.43" width="9.32" height="5.61" fill="#62c5e0"/>
<rect x="262.62" y="242.43" width="9.32" height="5.61" fill="#3f84d2"/>
<rect x="271.25" y="242.43" width="9.32" height="5.61" fill="#3f84d2"/>
<rect x="279.88" y="242.43" width="9.32" height="5.61" fill="#3f84d2"/>
<rect x="288.50" y="242.43" width="9.32" height="5.61" fill="#4254ae"/>
<rect x="297.12" y="242.43" width="9.32" height="5.61" fill="#4254ae"/>
<rect x="305.75" y="242.43" width="9.32" height="5.61" fill="#6a4aa8"/>
<rect x="314.38" y="242.43" width="9.32" height="5.61" fill="#4254ae"/>
<rect x="254.00" y="247.34" width="9.32" height="5.61" fill="#3fb0e8"/>
<rect x="262.62" y="247.34" width="9.32" height="5.61" fill="#3f84d2"/>
<rect x="271.25" y="247.34" width="9.32" height="5.61" fill="#3fb0e8"/>
<rect x="279.88" y="247.34" width="9.32" height="5.61" fill="#62c5e0"/>
<rect x="288.50" y="247.34" width="9.32" height="5.61" fill="#3f84d2"/>
<rect x="297.12" y="247.34" width="9.32" height="5.61" fill="#3f84d2"/>
<rect x="305.75" y="247.34" width="9.32" height="5.61" fill="#3f84d2"/>
<rect x="314.38" y="247.34" width="9.32" height="5.61" fill="#4254ae"/>
<rect x="254.00" y="252.26" width="9.32" height="5.61" fill="#3f84d2"/>
<rect x="262.62" y="252.26" width="9.32" height="5.61" fill="#4254ae"/>
<rect x="271.25" y="252.26" width="9.32" height="5.61" fill="#3f84d2"/>
<rect x="279.88" y="252.26" width="9.32" height="5.61" fill="#3f84d2"/>
<rect x="288.50" y="252.26" width="9.32" height="5.61" fill="#3f84d2"/>
<rect x="297.12" y="252.26" width="9.32" height="5.61" fill="#3fb0e8"/>
<rect x="305.75" y="252.26" width="9.32" height="5.61" fill="#3fb0e8"/>
<rect x="314.38" y="252.26" width="9.32" height="5.61" fill="#3f84d2"/>
<rect x="254.00" y="257.17" width="9.32" height="5.61" fill="#62c296"/>
<rect x="262.62" y="257.17" width="9.32" height="5.61" fill="#62c5e0"/>
<rect x="271.25" y="257.17" width="9.32" height="5.61" fill="#3fb0e8"/>
<rect x="279.88" y="257.17" width="9.32" height="5.61" fill="#3fb0e8"/>
<rect x="288.50" y="257.17" width="9.32" height="5.61" fill="#3fb0e8"/>
<rect x="297.12" y="257.17" width="9.32" height="5.61" fill="#3fb0e8"/>
<rect x="305.75" y="257.17" width="9.32" height="5.61" fill="#3f84d2"/>
<rect x="314.38" y="257.17" width="9.32" height="5.61" fill="#3fb0e8"/>
<rect x="254.00" y="262.09" width="9.32" height="5.61" fill="#62c296"/>
<rect x="262.62" y="262.09" width="9.32" height="5.61" fill="#62c296"/>
<rect x="271.25" y="262.09" width="9.32" height="5.61" fill="#62c5e0"/>
<rect x="279.88" y="262.09" width="9.32" height="5.61" fill="#62c5e0"/>
<rect x="288.50" y="262.09" width="9.32" height="5.61" fill="#62c5e0"/>
<rect x="297.12" y="262.09" width="9.32" height="5.61" fill="#3fb0e8"/>
<rect x="305.75" y="262.09" width="9.32" height="5.61" fill="#3fb0e8"/>
<rect x="314.38" y="262.09" width="9.32" height="5.61" fill="#62c5e0"/>
</g></g>
<rect x="254.00" y="198.20" width="69.00" height="68.80" fill="none" stroke="#2b3a42" stroke-width="0.9"/>
<g clip-path="url(#hc14)"><g filter="url(#hb)">
<rect x="325.10" y="196.20" width="73.00" height="72.80" fill="#6cbd45"/>
<rect x="327.10" y="198.20" width="9.32" height="5.61" fill="#62c296"/>
<rect x="335.73" y="198.20" width="9.32" height="5.61" fill="#62c296"/>
<rect x="344.35" y="198.20" width="9.32" height="5.61" fill="#3fb0e8"/>
<rect x="352.98" y="198.20" width="9.32" height="5.61" fill="#62c5e0"/>
<rect x="361.60" y="198.20" width="9.32" height="5.61" fill="#62c296"/>
<rect x="370.23" y="198.20" width="9.32" height="5.61" fill="#62c296"/>
<rect x="378.85" y="198.20" width="9.32" height="5.61" fill="#62c296"/>
<rect x="387.48" y="198.20" width="9.32" height="5.61" fill="#62c5e0"/>
<rect x="327.10" y="203.11" width="9.32" height="5.61" fill="#62c296"/>
<rect x="335.73" y="203.11" width="9.32" height="5.61" fill="#62c5e0"/>
<rect x="344.35" y="203.11" width="9.32" height="5.61" fill="#62c5e0"/>
<rect x="352.98" y="203.11" width="9.32" height="5.61" fill="#3fb0e8"/>
<rect x="361.60" y="203.11" width="9.32" height="5.61" fill="#62c5e0"/>
<rect x="370.23" y="203.11" width="9.32" height="5.61" fill="#62c296"/>
<rect x="378.85" y="203.11" width="9.32" height="5.61" fill="#62c296"/>
<rect x="387.48" y="203.11" width="9.32" height="5.61" fill="#62c5e0"/>
<rect x="327.10" y="208.03" width="9.32" height="5.61" fill="#62c5e0"/>
<rect x="335.73" y="208.03" width="9.32" height="5.61" fill="#3f84d2"/>
<rect x="344.35" y="208.03" width="9.32" height="5.61" fill="#3f84d2"/>
<rect x="352.98" y="208.03" width="9.32" height="5.61" fill="#4254ae"/>
<rect x="361.60" y="208.03" width="9.32" height="5.61" fill="#62c5e0"/>
<rect x="370.23" y="208.03" width="9.32" height="5.61" fill="#62c296"/>
<rect x="378.85" y="208.03" width="9.32" height="5.61" fill="#3fb0e8"/>
<rect x="387.48" y="208.03" width="9.32" height="5.61" fill="#3fb0e8"/>
<rect x="327.10" y="212.94" width="9.32" height="5.61" fill="#62c5e0"/>
<rect x="335.73" y="212.94" width="9.32" height="5.61" fill="#62c5e0"/>
<rect x="344.35" y="212.94" width="9.32" height="5.61" fill="#3f84d2"/>
<rect x="352.98" y="212.94" width="9.32" height="5.61" fill="#62c5e0"/>
<rect x="361.60" y="212.94" width="9.32" height="5.61" fill="#62c296"/>
<rect x="370.23" y="212.94" width="9.32" height="5.61" fill="#62c296"/>
<rect x="378.85" y="212.94" width="9.32" height="5.61" fill="#62c296"/>
<rect x="387.48" y="212.94" width="9.32" height="5.61" fill="#62c296"/>
<rect x="327.10" y="217.86" width="9.32" height="5.61" fill="#4254ae"/>
<rect x="335.73" y="217.86" width="9.32" height="5.61" fill="#3f84d2"/>
<rect x="344.35" y="217.86" width="9.32" height="5.61" fill="#62c5e0"/>
<rect x="352.98" y="217.86" width="9.32" height="5.61" fill="#62c296"/>
<rect x="361.60" y="217.86" width="9.32" height="5.61" fill="#62c5e0"/>
<rect x="370.23" y="217.86" width="9.32" height="5.61" fill="#62c296"/>
<rect x="378.85" y="217.86" width="9.32" height="5.61" fill="#62c296"/>
<rect x="387.48" y="217.86" width="9.32" height="5.61" fill="#62c296"/>
<rect x="327.10" y="222.77" width="9.32" height="5.61" fill="#62c5e0"/>
<rect x="335.73" y="222.77" width="9.32" height="5.61" fill="#62c296"/>
<rect x="344.35" y="222.77" width="9.32" height="5.61" fill="#62c296"/>
<rect x="352.98" y="222.77" width="9.32" height="5.61" fill="#6cbd45"/>
<rect x="361.60" y="222.77" width="9.32" height="5.61" fill="#6cbd45"/>
<rect x="370.23" y="222.77" width="9.32" height="5.61" fill="#6cbd45"/>
<rect x="378.85" y="222.77" width="9.32" height="5.61" fill="#a6d03b"/>
<rect x="387.48" y="222.77" width="9.32" height="5.61" fill="#6cbd45"/>
<rect x="327.10" y="227.69" width="9.32" height="5.61" fill="#62c5e0"/>
<rect x="335.73" y="227.69" width="9.32" height="5.61" fill="#62c296"/>
<rect x="344.35" y="227.69" width="9.32" height="5.61" fill="#62c5e0"/>
<rect x="352.98" y="227.69" width="9.32" height="5.61" fill="#6cbd45"/>
<rect x="361.60" y="227.69" width="9.32" height="5.61" fill="#6cbd45"/>
<rect x="370.23" y="227.69" width="9.32" height="5.61" fill="#6cbd45"/>
<rect x="378.85" y="227.69" width="9.32" height="5.61" fill="#6cbd45"/>
<rect x="387.48" y="227.69" width="9.32" height="5.61" fill="#6cbd45"/>
<rect x="327.10" y="232.60" width="9.32" height="5.61" fill="#a6d03b"/>
<rect x="335.73" y="232.60" width="9.32" height="5.61" fill="#62c296"/>
<rect x="344.35" y="232.60" width="9.32" height="5.61" fill="#62c296"/>
<rect x="352.98" y="232.60" width="9.32" height="5.61" fill="#62c296"/>
<rect x="361.60" y="232.60" width="9.32" height="5.61" fill="#6cbd45"/>
<rect x="370.23" y="232.60" width="9.32" height="5.61" fill="#6cbd45"/>
<rect x="378.85" y="232.60" width="9.32" height="5.61" fill="#6cbd45"/>
<rect x="387.48" y="232.60" width="9.32" height="5.61" fill="#6cbd45"/>
<rect x="327.10" y="237.51" width="9.32" height="5.61" fill="#3f84d2"/>
<rect x="335.73" y="237.51" width="9.32" height="5.61" fill="#62c5e0"/>
<rect x="344.35" y="237.51" width="9.32" height="5.61" fill="#62c296"/>
<rect x="352.98" y="237.51" width="9.32" height="5.61" fill="#62c296"/>
<rect x="361.60" y="237.51" width="9.32" height="5.61" fill="#6cbd45"/>
<rect x="370.23" y="237.51" width="9.32" height="5.61" fill="#6cbd45"/>
<rect x="378.85" y="237.51" width="9.32" height="5.61" fill="#62c296"/>
<rect x="387.48" y="237.51" width="9.32" height="5.61" fill="#6cbd45"/>
<rect x="327.10" y="242.43" width="9.32" height="5.61" fill="#4254ae"/>
<rect x="335.73" y="242.43" width="9.32" height="5.61" fill="#62c5e0"/>
<rect x="344.35" y="242.43" width="9.32" height="5.61" fill="#6cbd45"/>
<rect x="352.98" y="242.43" width="9.32" height="5.61" fill="#f5e51c"/>
<rect x="361.60" y="242.43" width="9.32" height="5.61" fill="#6cbd45"/>
<rect x="370.23" y="242.43" width="9.32" height="5.61" fill="#a6d03b"/>
<rect x="378.85" y="242.43" width="9.32" height="5.61" fill="#6cbd45"/>
<rect x="387.48" y="242.43" width="9.32" height="5.61" fill="#6cbd45"/>
<rect x="327.10" y="247.34" width="9.32" height="5.61" fill="#3f84d2"/>
<rect x="335.73" y="247.34" width="9.32" height="5.61" fill="#62c5e0"/>
<rect x="344.35" y="247.34" width="9.32" height="5.61" fill="#62c296"/>
<rect x="352.98" y="247.34" width="9.32" height="5.61" fill="#6cbd45"/>
<rect x="361.60" y="247.34" width="9.32" height="5.61" fill="#62c296"/>
<rect x="370.23" y="247.34" width="9.32" height="5.61" fill="#6cbd45"/>
<rect x="378.85" y="247.34" width="9.32" height="5.61" fill="#6cbd45"/>
<rect x="387.48" y="247.34" width="9.32" height="5.61" fill="#6cbd45"/>
<rect x="327.10" y="252.26" width="9.32" height="5.61" fill="#3fb0e8"/>
<rect x="335.73" y="252.26" width="9.32" height="5.61" fill="#62c5e0"/>
<rect x="344.35" y="252.26" width="9.32" height="5.61" fill="#62c296"/>
<rect x="352.98" y="252.26" width="9.32" height="5.61" fill="#6cbd45"/>
<rect x="361.60" y="252.26" width="9.32" height="5.61" fill="#6cbd45"/>
<rect x="370.23" y="252.26" width="9.32" height="5.61" fill="#6cbd45"/>
<rect x="378.85" y="252.26" width="9.32" height="5.61" fill="#6cbd45"/>
<rect x="387.48" y="252.26" width="9.32" height="5.61" fill="#6cbd45"/>
<rect x="327.10" y="257.17" width="9.32" height="5.61" fill="#62c5e0"/>
<rect x="335.73" y="257.17" width="9.32" height="5.61" fill="#62c5e0"/>
<rect x="344.35" y="257.17" width="9.32" height="5.61" fill="#6cbd45"/>
<rect x="352.98" y="257.17" width="9.32" height="5.61" fill="#6cbd45"/>
<rect x="361.60" y="257.17" width="9.32" height="5.61" fill="#6cbd45"/>
<rect x="370.23" y="257.17" width="9.32" height="5.61" fill="#a6d03b"/>
<rect x="378.85" y="257.17" width="9.32" height="5.61" fill="#6cbd45"/>
<rect x="387.48" y="257.17" width="9.32" height="5.61" fill="#6cbd45"/>
<rect x="327.10" y="262.09" width="9.32" height="5.61" fill="#62c5e0"/>
<rect x="335.73" y="262.09" width="9.32" height="5.61" fill="#62c5e0"/>
<rect x="344.35" y="262.09" width="9.32" height="5.61" fill="#6cbd45"/>
<rect x="352.98" y="262.09" width="9.32" height="5.61" fill="#6cbd45"/>
<rect x="361.60" y="262.09" width="9.32" height="5.61" fill="#6cbd45"/>
<rect x="370.23" y="262.09" width="9.32" height="5.61" fill="#6cbd45"/>
<rect x="378.85" y="262.09" width="9.32" height="5.61" fill="#6cbd45"/>
<rect x="387.48" y="262.09" width="9.32" height="5.61" fill="#6cbd45"/>
</g></g>
<rect x="327.10" y="198.20" width="69.00" height="68.80" fill="none" stroke="#2b3a42" stroke-width="0.9"/>
<text x="30.90" y="60.80" font-size="8" text-anchor="end" fill="#231f20" stroke="#231f20" stroke-width="0.12">0.07</text>
<text x="30.90" y="117.10" font-size="8" text-anchor="end" fill="#231f20" stroke="#231f20" stroke-width="0.12">40,000</text>
<polygon points="27.5,63.1 29.8,63.1 29.8,104.6 21.0,104.6" fill="#111"/>
<text x="6.40" y="85.70" font-size="8" text-anchor="middle" fill="#231f20" stroke="#231f20" stroke-width="0.12" transform="rotate(-90 6.40 85.70)">G781 [nmol/L]</text>
<text x="30.90" y="133.30" font-size="8" text-anchor="end" fill="#231f20" stroke="#231f20" stroke-width="0.12">0.02</text>
<text x="30.90" y="189.90" font-size="8" text-anchor="end" fill="#231f20" stroke="#231f20" stroke-width="0.12">10,000</text>
<polygon points="28.3,136.9 30.9,136.9 30.9,178.7 22.2,178.7" fill="#111"/>
<text x="6.40" y="159.10" font-size="8" text-anchor="middle" fill="#231f20" stroke="#231f20" stroke-width="0.12" transform="rotate(-90 6.40 159.10)">JQ1 [nmol/L]</text>
<text x="30.90" y="206.30" font-size="8" text-anchor="end" fill="#231f20" stroke="#231f20" stroke-width="0.12">0.07</text>
<text x="30.90" y="265.40" font-size="8" text-anchor="end" fill="#231f20" stroke="#231f20" stroke-width="0.12">40,000</text>
<polygon points="26.8,210.8 29.1,210.8 29.1,252.7 20.8,252.7" fill="#111"/>
<text x="6.40" y="232.40" font-size="8" text-anchor="middle" fill="#231f20" stroke="#231f20" stroke-width="0.12" transform="rotate(-90 6.40 232.40)">DEX [nmol/L]</text>
<rect x="132.60" y="276.30" width="148.20" height="13.00" fill="url(#cb)" stroke="#111" stroke-width="0.8"/>
<text x="99.50" y="285.60" font-size="8" fill="#231f20" stroke="#231f20" stroke-width="0.12">Synergy</text>
<text x="285.00" y="285.60" font-size="8" fill="#231f20" stroke="#231f20" stroke-width="0.12">Antagonism</text>
<text x="416.00" y="11.40" font-size="9.5" font-weight="bold" fill="#000" stroke="#000" stroke-width="0.12">B</text>
<line x1="443.40" y1="25.20" x2="450.40" y2="25.20" stroke="#333" stroke-width="0.7"/>
<rect x="444.60" y="22.90" width="4.60" height="4.60" fill="#fff" stroke="#333" stroke-width="0.7"/>
<text x="453.90" y="28.00" font-size="8.1" fill="#231f20" stroke="#231f20" stroke-width="0.12">DMSO</text>
<line x1="443.40" y1="33.40" x2="450.40" y2="33.40" stroke="#c4c4c4" stroke-width="0.7"/>
<polygon points="444.50,35.20 449.30,35.20 446.90,30.80" fill="#c4c4c4"/>
<text x="453.90" y="36.20" font-size="8.1" fill="#231f20" stroke="#231f20" stroke-width="0.12">200 nmol/L POM</text>
<line x1="443.40" y1="41.70" x2="450.40" y2="41.70" stroke="#8a8a8a" stroke-width="0.7"/>
<polygon points="444.50,39.90 449.30,39.90 446.90,44.30" fill="#8a8a8a"/>
<text x="453.90" y="44.50" font-size="8.1" fill="#231f20" stroke="#231f20" stroke-width="0.12">40 nmol/L G781</text>
<line x1="443.40" y1="50.60" x2="450.40" y2="50.60" stroke="#111" stroke-width="0.7"/>
<polygon points="444.40,50.60 446.90,48.10 449.40,50.60 446.90,53.10" fill="#111"/>
<text x="453.90" y="53.40" font-size="8.1" fill="#231f20" stroke="#231f20" stroke-width="0.12">Combo</text>
<line x1="442.00" y1="59.60" x2="442.00" y2="118.50" stroke="#333" stroke-width="0.7"/>
<line x1="442.00" y1="118.20" x2="513.50" y2="118.20" stroke="#333" stroke-width="0.7"/>
<line x1="439.80" y1="59.60" x2="442.00" y2="59.60" stroke="#333" stroke-width="0.7"/>
<text x="438.20" y="62.50" font-size="8" text-anchor="end" fill="#231f20" stroke="#231f20" stroke-width="0.12">100</text>
<line x1="439.80" y1="74.25" x2="442.00" y2="74.25" stroke="#333" stroke-width="0.7"/>
<text x="438.20" y="77.15" font-size="8" text-anchor="end" fill="#231f20" stroke="#231f20" stroke-width="0.12">10</text>
<line x1="439.80" y1="88.90" x2="442.00" y2="88.90" stroke="#333" stroke-width="0.7"/>
<text x="438.20" y="91.80" font-size="8" text-anchor="end" fill="#231f20" stroke="#231f20" stroke-width="0.12">1</text>
<line x1="439.80" y1="103.55" x2="442.00" y2="103.55" stroke="#333" stroke-width="0.7"/>
<text x="438.20" y="106.45" font-size="8" text-anchor="end" fill="#231f20" stroke="#231f20" stroke-width="0.12">0.1</text>
<line x1="439.80" y1="118.20" x2="442.00" y2="118.20" stroke="#333" stroke-width="0.7"/>
<text x="438.20" y="121.10" font-size="8" text-anchor="end" fill="#231f20" stroke="#231f20" stroke-width="0.12">0.01</text>
<line x1="442.60" y1="118.20" x2="442.60" y2="120.60" stroke="#333" stroke-width="0.7"/>
<text x="442.60" y="128.00" font-size="8" text-anchor="middle" fill="#231f20" stroke="#231f20" stroke-width="0.12">0</text>
<line x1="459.85" y1="118.20" x2="459.85" y2="120.60" stroke="#333" stroke-width="0.7"/>
<text x="459.85" y="128.00" font-size="8" text-anchor="middle" fill="#231f20" stroke="#231f20" stroke-width="0.12">2</text>
<line x1="477.10" y1="118.20" x2="477.10" y2="120.60" stroke="#333" stroke-width="0.7"/>
<text x="477.10" y="128.00" font-size="8" text-anchor="middle" fill="#231f20" stroke="#231f20" stroke-width="0.12">4</text>
<line x1="494.35" y1="118.20" x2="494.35" y2="120.60" stroke="#333" stroke-width="0.7"/>
<text x="494.35" y="128.00" font-size="8" text-anchor="middle" fill="#231f20" stroke="#231f20" stroke-width="0.12">6</text>
<line x1="511.60" y1="118.20" x2="511.60" y2="120.60" stroke="#333" stroke-width="0.7"/>
<text x="511.60" y="128.00" font-size="8" text-anchor="middle" fill="#231f20" stroke="#231f20" stroke-width="0.12">8</text>
<text x="478.80" y="136.70" font-size="8" text-anchor="middle" fill="#231f20" stroke="#231f20" stroke-width="0.12">Days posttreatment</text>
<text x="418.30" y="88.90" font-size="8" text-anchor="middle" fill="#231f20" stroke="#231f20" stroke-width="0.12" transform="rotate(-90 418.30 88.90)">Fold expansion</text>
<text x="444.60" y="75.80" font-size="8" fill="#231f20" stroke="#231f20" stroke-width="0.12">JJN3</text>
<polyline points="442.6,88.9 459.9,84.6 477.1,82.6 494.4,81.2 511.6,77.3" fill="none" stroke="#c4c4c4" stroke-width="0.8"/>
<polygon points="440.20,90.70 445.00,90.70 442.60,86.30" fill="#c4c4c4"/>
<polygon points="457.45,86.40 462.25,86.40 459.85,82.00" fill="#c4c4c4"/>
<polygon points="474.70,84.40 479.50,84.40 477.10,80.00" fill="#c4c4c4"/>
<polygon points="491.95,83.00 496.75,83.00 494.35,78.60" fill="#c4c4c4"/>
<polygon points="509.20,79.10 514.00,79.10 511.60,74.70" fill="#c4c4c4"/>
<polyline points="442.6,88.9 459.9,84.1 477.1,81.5 494.4,79.6 511.6,78.0" fill="none" stroke="#8a8a8a" stroke-width="0.8"/>
<polygon points="440.20,87.10 445.00,87.10 442.60,91.50" fill="#8a8a8a"/>
<polygon points="457.45,82.30 462.25,82.30 459.85,86.70" fill="#8a8a8a"/>
<polygon points="474.70,79.70 479.50,79.70 477.10,84.10" fill="#8a8a8a"/>
<polygon points="491.95,77.80 496.75,77.80 494.35,82.20" fill="#8a8a8a"/>
<polygon points="509.20,76.20 514.00,76.20 511.60,80.60" fill="#8a8a8a"/>
<polyline points="442.6,88.9 459.9,85.9 477.1,98.5 494.4,108.5 511.6,113.5" fill="none" stroke="#111" stroke-width="0.8"/>
<polygon points="440.10,88.90 442.60,86.40 445.10,88.90 442.60,91.40" fill="#111"/>
<polygon points="457.35,85.90 459.85,83.40 462.35,85.90 459.85,88.40" fill="#111"/>
<polygon points="474.60,98.50 477.10,96.00 479.60,98.50 477.10,101.00" fill="#111"/>
<polygon points="491.85,108.50 494.35,106.00 496.85,108.50 494.35,111.00" fill="#111"/>
<polygon points="509.10,113.50 511.60,111.00 514.10,113.50 511.60,116.00" fill="#111"/>
<polyline points="442.6,88.9 459.9,83.5 477.1,75.0 494.4,73.2 511.6,68.8" fill="none" stroke="#333" stroke-width="0.8"/>
<rect x="440.30" y="86.60" width="4.60" height="4.60" fill="#fff" stroke="#333" stroke-width="0.7"/>
<rect x="457.55" y="81.20" width="4.60" height="4.60" fill="#fff" stroke="#333" stroke-width="0.7"/>
<rect x="474.80" y="72.70" width="4.60" height="4.60" fill="#fff" stroke="#333" stroke-width="0.7"/>
<rect x="492.05" y="70.90" width="4.60" height="4.60" fill="#fff" stroke="#333" stroke-width="0.7"/>
<rect x="509.30" y="66.50" width="4.60" height="4.60" fill="#fff" stroke="#333" stroke-width="0.7"/>
<line x1="443.40" y1="153.80" x2="450.40" y2="153.80" stroke="#333" stroke-width="0.7"/>
<rect x="444.60" y="151.50" width="4.60" height="4.60" fill="#fff" stroke="#333" stroke-width="0.7"/>
<text x="453.90" y="156.60" font-size="8.1" fill="#231f20" stroke="#231f20" stroke-width="0.12">DMSO</text>
<line x1="443.40" y1="162.80" x2="450.40" y2="162.80" stroke="#c4c4c4" stroke-width="0.7"/>
<polygon points="444.50,164.60 449.30,164.60 446.90,160.20" fill="#c4c4c4"/>
<text x="453.90" y="165.60" font-size="8.1" fill="#231f20" stroke="#231f20" stroke-width="0.12">100 nmol/L POM</text>
<line x1="443.40" y1="171.50" x2="450.40" y2="171.50" stroke="#8a8a8a" stroke-width="0.7"/>
<polygon points="444.50,169.70 449.30,169.70 446.90,174.10" fill="#8a8a8a"/>
<text x="453.90" y="174.30" font-size="8.1" fill="#231f20" stroke="#231f20" stroke-width="0.12">20 nmol/L G781</text>
<line x1="443.40" y1="179.90" x2="450.40" y2="179.90" stroke="#111" stroke-width="0.7"/>
<polygon points="444.40,179.90 446.90,177.40 449.40,179.90 446.90,182.40" fill="#111"/>
<text x="453.90" y="182.70" font-size="8.1" fill="#231f20" stroke="#231f20" stroke-width="0.12">Combo</text>
<line x1="442.00" y1="189.50" x2="442.00" y2="249.60" stroke="#333" stroke-width="0.7"/>
<line x1="442.00" y1="249.30" x2="513.50" y2="249.30" stroke="#333" stroke-width="0.7"/>
<line x1="439.80" y1="189.50" x2="442.00" y2="189.50" stroke="#333" stroke-width="0.7"/>
<text x="438.20" y="192.40" font-size="8" text-anchor="end" fill="#231f20" stroke="#231f20" stroke-width="0.12">100</text>
<line x1="439.80" y1="204.45" x2="442.00" y2="204.45" stroke="#333" stroke-width="0.7"/>
<text x="438.20" y="207.35" font-size="8" text-anchor="end" fill="#231f20" stroke="#231f20" stroke-width="0.12">10</text>
<line x1="439.80" y1="219.40" x2="442.00" y2="219.40" stroke="#333" stroke-width="0.7"/>
<text x="438.20" y="222.30" font-size="8" text-anchor="end" fill="#231f20" stroke="#231f20" stroke-width="0.12">1</text>
<line x1="439.80" y1="234.35" x2="442.00" y2="234.35" stroke="#333" stroke-width="0.7"/>
<text x="438.20" y="237.25" font-size="8" text-anchor="end" fill="#231f20" stroke="#231f20" stroke-width="0.12">0.1</text>
<line x1="439.80" y1="249.30" x2="442.00" y2="249.30" stroke="#333" stroke-width="0.7"/>
<text x="438.20" y="252.20" font-size="8" text-anchor="end" fill="#231f20" stroke="#231f20" stroke-width="0.12">0.01</text>
<line x1="442.60" y1="249.30" x2="442.60" y2="251.70" stroke="#333" stroke-width="0.7"/>
<text x="442.60" y="258.90" font-size="8" text-anchor="middle" fill="#231f20" stroke="#231f20" stroke-width="0.12">0</text>
<line x1="459.85" y1="249.30" x2="459.85" y2="251.70" stroke="#333" stroke-width="0.7"/>
<text x="459.85" y="258.90" font-size="8" text-anchor="middle" fill="#231f20" stroke="#231f20" stroke-width="0.12">2</text>
<line x1="477.10" y1="249.30" x2="477.10" y2="251.70" stroke="#333" stroke-width="0.7"/>
<text x="477.10" y="258.90" font-size="8" text-anchor="middle" fill="#231f20" stroke="#231f20" stroke-width="0.12">4</text>
<line x1="494.35" y1="249.30" x2="494.35" y2="251.70" stroke="#333" stroke-width="0.7"/>
<text x="494.35" y="258.90" font-size="8" text-anchor="middle" fill="#231f20" stroke="#231f20" stroke-width="0.12">6</text>
<line x1="511.60" y1="249.30" x2="511.60" y2="251.70" stroke="#333" stroke-width="0.7"/>
<text x="511.60" y="258.90" font-size="8" text-anchor="middle" fill="#231f20" stroke="#231f20" stroke-width="0.12">8</text>
<text x="478.80" y="268.50" font-size="8" text-anchor="middle" fill="#231f20" stroke="#231f20" stroke-width="0.12">Days posttreatment</text>
<text x="418.30" y="219.40" font-size="8" text-anchor="middle" fill="#231f20" stroke="#231f20" stroke-width="0.12" transform="rotate(-90 418.30 219.40)">Fold expansion</text>
<text x="444.60" y="206.30" font-size="8" fill="#231f20" stroke="#231f20" stroke-width="0.12">KMS11</text>
<polyline points="442.6,219.3 459.9,217.0 477.1,216.8 494.4,219.5 511.6,216.5" fill="none" stroke="#c4c4c4" stroke-width="0.8"/>
<polygon points="440.20,221.10 445.00,221.10 442.60,216.70" fill="#c4c4c4"/>
<polygon points="457.45,218.80 462.25,218.80 459.85,214.40" fill="#c4c4c4"/>
<polygon points="474.70,218.60 479.50,218.60 477.10,214.20" fill="#c4c4c4"/>
<polygon points="491.95,221.30 496.75,221.30 494.35,216.90" fill="#c4c4c4"/>
<polygon points="509.20,218.30 514.00,218.30 511.60,213.90" fill="#c4c4c4"/>
<polyline points="442.6,219.3 459.9,217.2 477.1,217.7 494.4,220.5 511.6,225.0" fill="none" stroke="#8a8a8a" stroke-width="0.8"/>
<polygon points="440.20,217.50 445.00,217.50 442.60,221.90" fill="#8a8a8a"/>
<polygon points="457.45,215.40 462.25,215.40 459.85,219.80" fill="#8a8a8a"/>
<polygon points="474.70,215.90 479.50,215.90 477.10,220.30" fill="#8a8a8a"/>
<polygon points="491.95,218.70 496.75,218.70 494.35,223.10" fill="#8a8a8a"/>
<polygon points="509.20,223.20 514.00,223.20 511.60,227.60" fill="#8a8a8a"/>
<polyline points="442.6,219.3 459.9,221.6 477.1,243.5" fill="none" stroke="#111" stroke-width="0.8"/>
<polygon points="440.10,219.30 442.60,216.80 445.10,219.30 442.60,221.80" fill="#111"/>
<polygon points="457.35,221.60 459.85,219.10 462.35,221.60 459.85,224.10" fill="#111"/>
<polygon points="474.60,243.50 477.10,241.00 479.60,243.50 477.10,246.00" fill="#111"/>
<polyline points="442.6,219.3 459.9,214.7 477.1,206.9 494.4,199.2 511.6,193.9" fill="none" stroke="#333" stroke-width="0.8"/>
<rect x="440.30" y="217.00" width="4.60" height="4.60" fill="#fff" stroke="#333" stroke-width="0.7"/>
<rect x="457.55" y="212.40" width="4.60" height="4.60" fill="#fff" stroke="#333" stroke-width="0.7"/>
<rect x="474.80" y="204.60" width="4.60" height="4.60" fill="#fff" stroke="#333" stroke-width="0.7"/>
<rect x="492.05" y="196.90" width="4.60" height="4.60" fill="#fff" stroke="#333" stroke-width="0.7"/>
<rect x="509.30" y="191.60" width="4.60" height="4.60" fill="#fff" stroke="#333" stroke-width="0.7"/>
<text x="1.30" y="316.30" font-size="9.5" font-weight="bold" fill="#000" stroke="#000" stroke-width="0.12">C</text>
<rect x="51.90" y="316.00" width="9.60" height="3.90" fill="#ffffff" stroke="#222" stroke-width="0.6"/>
<rect x="59.50" y="316.00" width="2.00" height="3.90" fill="#e8322c" stroke="#222" stroke-width="0.4"/>
<text x="64.00" y="320.00" font-size="8.1" fill="#231f20" stroke="#231f20" stroke-width="0.12">DMSO</text>
<rect x="51.90" y="324.80" width="9.60" height="3.90" fill="#cfcfcf" stroke="#222" stroke-width="0.6"/>
<rect x="59.50" y="324.80" width="2.00" height="3.90" fill="#e8322c" stroke="#222" stroke-width="0.4"/>
<text x="64.00" y="328.80" font-size="8.1" fill="#231f20" stroke="#231f20" stroke-width="0.12">200 nmol/L POM</text>
<rect x="51.90" y="333.80" width="9.60" height="3.90" fill="#858585" stroke="#222" stroke-width="0.6"/>
<rect x="59.50" y="333.80" width="2.00" height="3.90" fill="#e8322c" stroke="#222" stroke-width="0.4"/>
<text x="64.00" y="337.80" font-size="8.1" fill="#231f20" stroke="#231f20" stroke-width="0.12">40 nmol/L G781</text>
<rect x="51.90" y="342.80" width="9.60" height="3.90" fill="#161616" stroke="#222" stroke-width="0.6"/>
<rect x="59.50" y="342.80" width="2.00" height="3.90" fill="#e8322c" stroke="#222" stroke-width="0.4"/>
<text x="64.00" y="346.80" font-size="8.1" fill="#231f20" stroke="#231f20" stroke-width="0.12">Combo</text>
<line x1="46.60" y1="353.70" x2="46.60" y2="417.10" stroke="#444" stroke-width="0.7"/>
<line x1="44.40" y1="353.70" x2="46.60" y2="353.70" stroke="#444" stroke-width="0.7"/>
<text x="41.60" y="356.60" font-size="8" text-anchor="end" fill="#231f20" stroke="#231f20" stroke-width="0.12">75</text>
<line x1="44.40" y1="374.73" x2="46.60" y2="374.73" stroke="#444" stroke-width="0.7"/>
<text x="41.60" y="377.63" font-size="8" text-anchor="end" fill="#231f20" stroke="#231f20" stroke-width="0.12">50</text>
<line x1="44.40" y1="395.77" x2="46.60" y2="395.77" stroke="#444" stroke-width="0.7"/>
<text x="41.60" y="398.67" font-size="8" text-anchor="end" fill="#231f20" stroke="#231f20" stroke-width="0.12">25</text>
<line x1="44.40" y1="416.80" x2="46.60" y2="416.80" stroke="#444" stroke-width="0.7"/>
<text x="41.60" y="419.70" font-size="8" text-anchor="end" fill="#231f20" stroke="#231f20" stroke-width="0.12">0</text>
<text x="50.40" y="374.90" font-size="8" fill="#231f20" stroke="#231f20" stroke-width="0.12">JJN3</text>
<text x="16.30" y="386.60" font-size="8" text-anchor="middle" fill="#e03a3c" stroke="#e03a3c" stroke-width="0.12" transform="rotate(-90 16.30 386.60)">% Annexin V +</text>
<text x="26.60" y="386.60" font-size="8" text-anchor="middle" fill="#231f20" stroke="#231f20" stroke-width="0.12" transform="rotate(-90 26.60 386.60)">% Live/dead +</text>
<rect x="50.20" y="402.30" width="5.00" height="14.50" fill="#ffffff" stroke="#222" stroke-width="0.5"/>
<rect x="50.20" y="415.60" width="5.00" height="1.20" fill="#e8322c" stroke="#b0201c" stroke-width="0.3"/>
<rect x="56.80" y="406.50" width="5.00" height="10.30" fill="#cfcfcf" stroke="#222" stroke-width="0.5"/>
<rect x="56.80" y="416.00" width="5.00" height="0.80" fill="#e8322c" stroke="#b0201c" stroke-width="0.3"/>
<rect x="63.40" y="403.40" width="5.00" height="13.40" fill="#858585" stroke="#222" stroke-width="0.5"/>
<rect x="63.40" y="416.20" width="5.00" height="0.60" fill="#e8322c" stroke="#b0201c" stroke-width="0.3"/>
<rect x="70.00" y="404.40" width="5.00" height="12.40" fill="#161616" stroke="#222" stroke-width="0.5"/>
<rect x="70.00" y="416.30" width="5.00" height="0.50" fill="#e8322c" stroke="#b0201c" stroke-width="0.3"/>
<rect x="82.30" y="402.30" width="5.00" height="14.50" fill="#ffffff" stroke="#222" stroke-width="0.5"/>
<rect x="82.30" y="415.70" width="5.00" height="1.10" fill="#e8322c" stroke="#b0201c" stroke-width="0.3"/>
<rect x="88.90" y="401.90" width="5.00" height="14.90" fill="#cfcfcf" stroke="#222" stroke-width="0.5"/>
<rect x="88.90" y="415.40" width="5.00" height="1.40" fill="#e8322c" stroke="#b0201c" stroke-width="0.3"/>
<rect x="95.50" y="399.80" width="5.00" height="17.00" fill="#858585" stroke="#222" stroke-width="0.5"/>
<rect x="95.50" y="411.80" width="5.00" height="5.00" fill="#e8322c" stroke="#b0201c" stroke-width="0.3"/>
<rect x="102.10" y="396.40" width="5.00" height="20.40" fill="#161616" stroke="#222" stroke-width="0.5"/>
<rect x="102.10" y="410.30" width="5.00" height="6.50" fill="#e8322c" stroke="#b0201c" stroke-width="0.3"/>
<rect x="114.50" y="406.50" width="5.00" height="10.30" fill="#ffffff" stroke="#222" stroke-width="0.5"/>
<rect x="114.50" y="416.00" width="5.00" height="0.80" fill="#e8322c" stroke="#b0201c" stroke-width="0.3"/>
<rect x="121.10" y="401.70" width="5.00" height="15.10" fill="#cfcfcf" stroke="#222" stroke-width="0.5"/>
<rect x="121.10" y="414.60" width="5.00" height="2.20" fill="#e8322c" stroke="#b0201c" stroke-width="0.3"/>
<rect x="127.70" y="386.90" width="5.00" height="29.90" fill="#858585" stroke="#222" stroke-width="0.5"/>
<rect x="127.70" y="405.00" width="5.00" height="11.80" fill="#e8322c" stroke="#b0201c" stroke-width="0.3"/>
<rect x="134.30" y="374.20" width="5.00" height="42.60" fill="#161616" stroke="#222" stroke-width="0.5"/>
<rect x="134.30" y="397.00" width="5.00" height="19.80" fill="#e8322c" stroke="#b0201c" stroke-width="0.3"/>
<line x1="46.30" y1="416.80" x2="142.60" y2="416.80" stroke="#6b2a28" stroke-width="0.8"/>
<line x1="62.40" y1="416.80" x2="62.40" y2="419.00" stroke="#444" stroke-width="0.7"/>
<text x="62.40" y="426.20" font-size="8" text-anchor="middle" fill="#231f20" stroke="#231f20" stroke-width="0.12">24</text>
<line x1="95.00" y1="416.80" x2="95.00" y2="419.00" stroke="#444" stroke-width="0.7"/>
<text x="95.00" y="426.20" font-size="8" text-anchor="middle" fill="#231f20" stroke="#231f20" stroke-width="0.12">48</text>
<line x1="126.80" y1="416.80" x2="126.80" y2="419.00" stroke="#444" stroke-width="0.7"/>
<text x="126.80" y="426.20" font-size="8" text-anchor="middle" fill="#231f20" stroke="#231f20" stroke-width="0.12">72</text>
<text x="94.50" y="436.40" font-size="8" text-anchor="middle" fill="#231f20" stroke="#231f20" stroke-width="0.12">Hours</text>
<rect x="50.60" y="447.30" width="9.60" height="3.90" fill="#ffffff" stroke="#222" stroke-width="0.6"/>
<rect x="58.20" y="447.30" width="2.00" height="3.90" fill="#e8322c" stroke="#222" stroke-width="0.4"/>
<text x="63.30" y="451.30" font-size="8.1" fill="#231f20" stroke="#231f20" stroke-width="0.12">DMSO</text>
<rect x="50.60" y="456.00" width="9.60" height="3.90" fill="#cfcfcf" stroke="#222" stroke-width="0.6"/>
<rect x="58.20" y="456.00" width="2.00" height="3.90" fill="#e8322c" stroke="#222" stroke-width="0.4"/>
<text x="63.30" y="460.00" font-size="8.1" fill="#231f20" stroke="#231f20" stroke-width="0.12">200 nmol/L POM</text>
<rect x="50.60" y="465.10" width="9.60" height="3.90" fill="#858585" stroke="#222" stroke-width="0.6"/>
<rect x="58.20" y="465.10" width="2.00" height="3.90" fill="#e8322c" stroke="#222" stroke-width="0.4"/>
<text x="63.30" y="469.10" font-size="8.1" fill="#231f20" stroke="#231f20" stroke-width="0.12">40 nmol/L G781</text>
<rect x="50.60" y="474.40" width="9.60" height="3.90" fill="#161616" stroke="#222" stroke-width="0.6"/>
<rect x="58.20" y="474.40" width="2.00" height="3.90" fill="#e8322c" stroke="#222" stroke-width="0.4"/>
<text x="63.30" y="478.40" font-size="8.1" fill="#231f20" stroke="#231f20" stroke-width="0.12">Combo</text>
<line x1="46.60" y1="482.40" x2="46.60" y2="546.20" stroke="#444" stroke-width="0.7"/>
<line x1="44.40" y1="482.40" x2="46.60" y2="482.40" stroke="#444" stroke-width="0.7"/>
<text x="41.60" y="485.30" font-size="8" text-anchor="end" fill="#231f20" stroke="#231f20" stroke-width="0.12">75</text>
<line x1="44.40" y1="503.57" x2="46.60" y2="503.57" stroke="#444" stroke-width="0.7"/>
<text x="41.60" y="506.47" font-size="8" text-anchor="end" fill="#231f20" stroke="#231f20" stroke-width="0.12">50</text>
<line x1="44.40" y1="524.73" x2="46.60" y2="524.73" stroke="#444" stroke-width="0.7"/>
<text x="41.60" y="527.63" font-size="8" text-anchor="end" fill="#231f20" stroke="#231f20" stroke-width="0.12">25</text>
<line x1="44.40" y1="545.90" x2="46.60" y2="545.90" stroke="#444" stroke-width="0.7"/>
<text x="41.60" y="548.80" font-size="8" text-anchor="end" fill="#231f20" stroke="#231f20" stroke-width="0.12">0</text>
<text x="50.40" y="502.80" font-size="8" fill="#231f20" stroke="#231f20" stroke-width="0.12">KMS11</text>
<text x="16.30" y="510.20" font-size="8" text-anchor="middle" fill="#e03a3c" stroke="#e03a3c" stroke-width="0.12" transform="rotate(-90 16.30 510.20)">% Annexin V +</text>
<text x="26.60" y="510.20" font-size="8" text-anchor="middle" fill="#231f20" stroke="#231f20" stroke-width="0.12" transform="rotate(-90 26.60 510.20)">% Live/dead +</text>
<rect x="50.20" y="526.50" width="5.00" height="19.40" fill="#ffffff" stroke="#222" stroke-width="0.5"/>
<rect x="50.20" y="543.00" width="5.00" height="2.90" fill="#e8322c" stroke="#b0201c" stroke-width="0.3"/>
<rect x="56.80" y="526.50" width="5.00" height="19.40" fill="#cfcfcf" stroke="#222" stroke-width="0.5"/>
<rect x="56.80" y="543.00" width="5.00" height="2.90" fill="#e8322c" stroke="#b0201c" stroke-width="0.3"/>
<rect x="63.40" y="524.80" width="5.00" height="21.10" fill="#858585" stroke="#222" stroke-width="0.5"/>
<rect x="63.40" y="542.40" width="5.00" height="3.50" fill="#e8322c" stroke="#b0201c" stroke-width="0.3"/>
<rect x="70.00" y="523.40" width="5.00" height="22.50" fill="#161616" stroke="#222" stroke-width="0.5"/>
<rect x="70.00" y="541.80" width="5.00" height="4.10" fill="#e8322c" stroke="#b0201c" stroke-width="0.3"/>
<rect x="82.30" y="528.20" width="5.00" height="17.70" fill="#ffffff" stroke="#222" stroke-width="0.5"/>
<rect x="82.30" y="542.00" width="5.00" height="3.90" fill="#e8322c" stroke="#b0201c" stroke-width="0.3"/>
<rect x="88.90" y="524.80" width="5.00" height="21.10" fill="#cfcfcf" stroke="#222" stroke-width="0.5"/>
<rect x="88.90" y="540.30" width="5.00" height="5.60" fill="#e8322c" stroke="#b0201c" stroke-width="0.3"/>
<rect x="95.50" y="518.50" width="5.00" height="27.40" fill="#858585" stroke="#222" stroke-width="0.5"/>
<rect x="95.50" y="540.30" width="5.00" height="5.60" fill="#e8322c" stroke="#b0201c" stroke-width="0.3"/>
<rect x="102.10" y="509.20" width="5.00" height="36.70" fill="#161616" stroke="#222" stroke-width="0.5"/>
<rect x="102.10" y="534.40" width="5.00" height="11.50" fill="#e8322c" stroke="#b0201c" stroke-width="0.3"/>
<rect x="114.50" y="530.30" width="5.00" height="15.60" fill="#ffffff" stroke="#222" stroke-width="0.5"/>
<rect x="114.50" y="541.80" width="5.00" height="4.10" fill="#e8322c" stroke="#b0201c" stroke-width="0.3"/>
<rect x="121.10" y="510.30" width="5.00" height="35.60" fill="#cfcfcf" stroke="#222" stroke-width="0.5"/>
<rect x="121.10" y="536.00" width="5.00" height="9.90" fill="#e8322c" stroke="#b0201c" stroke-width="0.3"/>
<rect x="127.70" y="503.90" width="5.00" height="42.00" fill="#858585" stroke="#222" stroke-width="0.5"/>
<rect x="127.70" y="535.60" width="5.00" height="10.30" fill="#e8322c" stroke="#b0201c" stroke-width="0.3"/>
<rect x="134.30" y="485.90" width="5.00" height="60.00" fill="#161616" stroke="#222" stroke-width="0.5"/>
<rect x="134.30" y="532.50" width="5.00" height="13.40" fill="#e8322c" stroke="#b0201c" stroke-width="0.3"/>
<line x1="46.30" y1="545.90" x2="142.60" y2="545.90" stroke="#6b2a28" stroke-width="0.8"/>
<line x1="62.40" y1="545.90" x2="62.40" y2="548.10" stroke="#444" stroke-width="0.7"/>
<text x="62.40" y="556.30" font-size="8" text-anchor="middle" fill="#231f20" stroke="#231f20" stroke-width="0.12">24</text>
<line x1="95.00" y1="545.90" x2="95.00" y2="548.10" stroke="#444" stroke-width="0.7"/>
<text x="95.00" y="556.30" font-size="8" text-anchor="middle" fill="#231f20" stroke="#231f20" stroke-width="0.12">48</text>
<line x1="126.80" y1="545.90" x2="126.80" y2="548.10" stroke="#444" stroke-width="0.7"/>
<text x="126.80" y="556.30" font-size="8" text-anchor="middle" fill="#231f20" stroke="#231f20" stroke-width="0.12">72</text>
<text x="94.50" y="566.80" font-size="8" text-anchor="middle" fill="#231f20" stroke="#231f20" stroke-width="0.12">Hours</text>
<text x="246.00" y="316.20" font-size="9.5" font-weight="bold" fill="#000" stroke="#000" stroke-width="0.12">D</text>
<text x="410.00" y="336.10" font-size="8.1" text-anchor="middle" fill="#231f20" stroke="#231f20" stroke-width="0.12">POM + G781 hallmark GSEA</text>
<text x="349.90" y="351.00" font-size="8.0" text-anchor="end" fill="#231f20" stroke="#231f20" stroke-width="0.12">E2F_TARGETS</text>
<rect x="357.30" y="344.00" width="83.10" height="4.20" fill="#e37a33" stroke="#1a1a3a" stroke-width="0.5"/>
<rect x="357.30" y="348.20" width="83.10" height="4.20" fill="#2d2a7c" stroke="#1a1a3a" stroke-width="0.5"/>
<text x="349.90" y="364.67" font-size="8.0" text-anchor="end" fill="#231f20" stroke="#231f20" stroke-width="0.12">G2M_CHECKPOINT</text>
<rect x="362.50" y="357.67" width="77.90" height="4.20" fill="#e37a33" stroke="#1a1a3a" stroke-width="0.5"/>
<rect x="361.50" y="361.87" width="78.90" height="4.20" fill="#2d2a7c" stroke="#1a1a3a" stroke-width="0.5"/>
<text x="349.90" y="378.34" font-size="8.0" text-anchor="end" fill="#231f20" stroke="#231f20" stroke-width="0.12">MYC_TARGETS_V1</text>
<rect x="361.50" y="371.34" width="78.90" height="4.20" fill="#e37a33" stroke="#1a1a3a" stroke-width="0.5"/>
<rect x="364.20" y="375.54" width="76.20" height="4.20" fill="#2d2a7c" stroke="#1a1a3a" stroke-width="0.5"/>
<text x="349.90" y="392.01" font-size="8.0" text-anchor="end" fill="#231f20" stroke="#231f20" stroke-width="0.12">MYC_TARGETS_V2</text>
<rect x="354.50" y="385.01" width="85.90" height="4.20" fill="#e37a33" stroke="#1a1a3a" stroke-width="0.5"/>
<rect x="364.90" y="389.21" width="75.50" height="4.20" fill="#2d2a7c" stroke="#1a1a3a" stroke-width="0.5"/>
<text x="349.90" y="405.68" font-size="8.0" text-anchor="end" fill="#231f20" stroke="#231f20" stroke-width="0.12">SPERMATOGENESIS</text>
<rect x="375.70" y="398.68" width="64.70" height="4.20" fill="#e37a33" stroke="#1a1a3a" stroke-width="0.5"/>
<rect x="372.20" y="402.88" width="68.20" height="4.20" fill="#2d2a7c" stroke="#1a1a3a" stroke-width="0.5"/>
<text x="349.90" y="419.35" font-size="8.0" text-anchor="end" fill="#231f20" stroke="#231f20" stroke-width="0.12">DNA_REPAIR</text>
<rect x="388.50" y="412.35" width="51.90" height="4.20" fill="#e37a33" stroke="#1a1a3a" stroke-width="0.5"/>
<rect x="378.00" y="416.55" width="62.40" height="4.20" fill="#2d2a7c" stroke="#1a1a3a" stroke-width="0.5"/>
<text x="349.90" y="433.02" font-size="8.0" text-anchor="end" fill="#231f20" stroke="#231f20" stroke-width="0.12">MTORC1_SIGNALING</text>
<rect x="381.50" y="426.02" width="58.90" height="4.20" fill="#e37a33" stroke="#1a1a3a" stroke-width="0.5"/>
<rect x="381.50" y="430.22" width="58.90" height="4.20" fill="#2d2a7c" stroke="#1a1a3a" stroke-width="0.5"/>
<text x="349.90" y="446.69" font-size="8.0" text-anchor="end" fill="#231f20" stroke="#231f20" stroke-width="0.12">UNFOLDED_PROTEIN_RESPONSE</text>
<rect x="380.50" y="439.69" width="59.90" height="4.20" fill="#e37a33" stroke="#1a1a3a" stroke-width="0.5"/>
<rect x="384.00" y="443.89" width="56.40" height="4.20" fill="#2d2a7c" stroke="#1a1a3a" stroke-width="0.5"/>
<text x="349.90" y="460.36" font-size="8.0" text-anchor="end" fill="#231f20" stroke="#231f20" stroke-width="0.12">MITOTIC_SPINDLE</text>
<rect x="395.40" y="453.36" width="45.00" height="4.20" fill="#e37a33" stroke="#1a1a3a" stroke-width="0.5"/>
<rect x="389.50" y="457.56" width="50.90" height="4.20" fill="#2d2a7c" stroke="#1a1a3a" stroke-width="0.5"/>
<text x="349.90" y="474.03" font-size="8.0" text-anchor="end" fill="#231f20" stroke="#231f20" stroke-width="0.12">OXIDATIVE_PHOSPHORYLATION</text>
<rect x="400.60" y="467.03" width="39.80" height="4.20" fill="#e37a33" stroke="#1a1a3a" stroke-width="0.5"/>
<rect x="390.90" y="471.23" width="49.50" height="4.20" fill="#2d2a7c" stroke="#1a1a3a" stroke-width="0.5"/>
<text x="349.90" y="487.70" font-size="8.0" text-anchor="end" fill="#231f20" stroke="#231f20" stroke-width="0.12">ESTROGEN_RESPONSE_LATE</text>
<rect x="396.00" y="480.70" width="44.40" height="4.20" fill="#e37a33" stroke="#1a1a3a" stroke-width="0.5"/>
<rect x="390.90" y="484.90" width="49.50" height="4.20" fill="#2d2a7c" stroke="#1a1a3a" stroke-width="0.5"/>
<text x="349.90" y="501.37" font-size="8.0" text-anchor="end" fill="#231f20" stroke="#231f20" stroke-width="0.12">COMPLEMENT</text>
<rect x="440.40" y="494.37" width="46.70" height="4.20" fill="#e37a33" stroke="#1a1a3a" stroke-width="0.5"/>
<rect x="440.40" y="498.57" width="45.00" height="4.20" fill="#2d2a7c" stroke="#1a1a3a" stroke-width="0.5"/>
<text x="349.90" y="515.04" font-size="8.0" text-anchor="end" fill="#231f20" stroke="#231f20" stroke-width="0.12">PROTEIN_SECRETION</text>
<rect x="440.40" y="508.04" width="48.40" height="4.20" fill="#e37a33" stroke="#1a1a3a" stroke-width="0.5"/>
<rect x="440.40" y="512.24" width="47.70" height="4.20" fill="#2d2a7c" stroke="#1a1a3a" stroke-width="0.5"/>
<text x="349.90" y="528.71" font-size="8.0" text-anchor="end" fill="#231f20" stroke="#231f20" stroke-width="0.12">COAGULATION</text>
<rect x="440.40" y="521.71" width="59.50" height="4.20" fill="#e37a33" stroke="#1a1a3a" stroke-width="0.5"/>
<rect x="440.40" y="525.91" width="50.90" height="4.20" fill="#2d2a7c" stroke="#1a1a3a" stroke-width="0.5"/>
<line x1="391.90" y1="539.00" x2="488.80" y2="539.00" stroke="#444" stroke-width="0.7"/>
<line x1="391.90" y1="539.00" x2="391.90" y2="543.30" stroke="#444" stroke-width="0.7"/>
<text x="391.90" y="554.70" font-size="8" text-anchor="middle" fill="#231f20" stroke="#231f20" stroke-width="0.12">−0.5</text>
<line x1="440.40" y1="539.00" x2="440.40" y2="543.30" stroke="#444" stroke-width="0.7"/>
<text x="440.40" y="554.70" font-size="8" text-anchor="middle" fill="#231f20" stroke="#231f20" stroke-width="0.12">ES</text>
<line x1="488.80" y1="539.00" x2="488.80" y2="543.30" stroke="#444" stroke-width="0.7"/>
<text x="488.80" y="554.70" font-size="8" text-anchor="middle" fill="#231f20" stroke="#231f20" stroke-width="0.12">0.5</text>
<text x="501.20" y="358.30" font-size="8" text-anchor="end" fill="#231f20" stroke="#231f20" stroke-width="0.12">JJN3</text>
<rect x="505.60" y="348.60" width="10.60" height="10.60" fill="#2d2a7c" stroke="#111" stroke-width="0.6"/>
<text x="501.20" y="378.10" font-size="8" text-anchor="end" fill="#231f20" stroke="#231f20" stroke-width="0.12">KMS11</text>
<rect x="505.60" y="368.90" width="10.60" height="10.40" fill="#e37a33" stroke="#111" stroke-width="0.6"/>
<text x="5.00" y="586.00" font-size="9.5" font-weight="bold" fill="#000" stroke="#000" stroke-width="0.12">E</text>
<text x="84.60" y="586.20" font-size="8" text-anchor="middle" font-style="italic" fill="#231f20" stroke="#231f20" stroke-width="0.12">MYC</text>
<text x="147.20" y="586.60" font-size="8" text-anchor="middle" font-style="italic" fill="#231f20" stroke="#231f20" stroke-width="0.12">IRF4</text>
<text x="12.80" y="622.60" font-size="7.7" fill="#231f20" stroke="#231f20" stroke-width="0.12">JJN3</text>
<text x="4.00" y="699.60" font-size="7.5" fill="#231f20" stroke="#231f20" stroke-width="0.12">KMS11</text>
<text x="40.2" y="620.5" font-size="8" text-anchor="middle" fill="#231f20" transform="rotate(-90 40.2 620.5)">Log<tspan font-size="5.5" dy="1.6">2</tspan><tspan dy="-1.6"> (FPKM + 1)</tspan></text>
<text x="40.2" y="698.3" font-size="8" text-anchor="middle" fill="#231f20" transform="rotate(-90 40.2 698.3)">Log<tspan font-size="5.5" dy="1.6">2</tspan><tspan dy="-1.6"> (FPKM + 1)</tspan></text>
<line x1="63.10" y1="595.90" x2="63.10" y2="643.40" stroke="#555" stroke-width="0.7"/>
<line x1="59.50" y1="596.20" x2="63.10" y2="596.20" stroke="#555" stroke-width="0.7"/>
<line x1="59.50" y1="611.83" x2="63.10" y2="611.83" stroke="#555" stroke-width="0.7"/>
<line x1="59.50" y1="627.47" x2="63.10" y2="627.47" stroke="#555" stroke-width="0.7"/>
<line x1="59.50" y1="643.10" x2="63.10" y2="643.10" stroke="#555" stroke-width="0.7"/>
<text x="59.20" y="599.10" font-size="8" text-anchor="end" fill="#231f20" stroke="#231f20" stroke-width="0.12">8.4</text>
<text x="59.20" y="646.00" font-size="8" text-anchor="end" fill="#231f20" stroke="#231f20" stroke-width="0.12">7.8</text>
<rect x="67.30" y="609.30" width="5.80" height="37.90" fill="#c9c9c9"/>
<rect x="77.20" y="602.00" width="5.80" height="45.20" fill="#c9c9c9"/>
<rect x="87.20" y="643.60" width="5.80" height="3.60" fill="#c9c9c9"/>
<rect x="97.30" y="643.60" width="5.80" height="3.60" fill="#c9c9c9"/>
<line x1="70.20" y1="649.10" x2="100.20" y2="649.10" stroke="#555" stroke-width="0.7"/>
<line x1="70.20" y1="649.10" x2="70.20" y2="651.60" stroke="#555" stroke-width="0.7"/>
<line x1="80.10" y1="649.10" x2="80.10" y2="651.60" stroke="#555" stroke-width="0.7"/>
<line x1="90.10" y1="649.10" x2="90.10" y2="651.60" stroke="#555" stroke-width="0.7"/>
<line x1="100.20" y1="649.10" x2="100.20" y2="651.60" stroke="#555" stroke-width="0.7"/>
<line x1="80.10" y1="595.50" x2="80.10" y2="609.00" stroke="#6a78c0" stroke-width="0.6"/>
<line x1="78.30" y1="595.50" x2="81.90" y2="595.50" stroke="#6a78c0" stroke-width="0.6"/>
<line x1="78.30" y1="609.00" x2="81.90" y2="609.00" stroke="#6a78c0" stroke-width="0.6"/>
<line x1="90.20" y1="640.50" x2="90.20" y2="646.80" stroke="#6a78c0" stroke-width="0.6"/>
<line x1="88.40" y1="640.50" x2="92.00" y2="640.50" stroke="#6a78c0" stroke-width="0.6"/>
<line x1="88.40" y1="646.80" x2="92.00" y2="646.80" stroke="#6a78c0" stroke-width="0.6"/>
<line x1="100.30" y1="640.80" x2="100.30" y2="646.80" stroke="#6a78c0" stroke-width="0.6"/>
<line x1="98.50" y1="640.80" x2="102.10" y2="640.80" stroke="#6a78c0" stroke-width="0.6"/>
<line x1="98.50" y1="646.80" x2="102.10" y2="646.80" stroke="#6a78c0" stroke-width="0.6"/>
<circle cx="68.80" cy="609.60" r="1.35" fill="#1f1f5c"/>
<circle cx="71.60" cy="609.00" r="1.35" fill="#1f1f5c"/>
<circle cx="80.10" cy="595.60" r="1.35" fill="#1f1f5c"/>
<circle cx="80.10" cy="609.20" r="1.35" fill="#1f1f5c"/>
<circle cx="90.20" cy="640.20" r="1.35" fill="#1f1f5c"/>
<circle cx="90.20" cy="647.40" r="1.35" fill="#1f1f5c"/>
<circle cx="100.30" cy="640.50" r="1.35" fill="#1f1f5c"/>
<circle cx="100.30" cy="647.40" r="1.35" fill="#1f1f5c"/>
<line x1="125.60" y1="597.50" x2="125.60" y2="644.10" stroke="#555" stroke-width="0.7"/>
<line x1="122.00" y1="597.80" x2="125.60" y2="597.80" stroke="#555" stroke-width="0.7"/>
<line x1="122.00" y1="613.13" x2="125.60" y2="613.13" stroke="#555" stroke-width="0.7"/>
<line x1="122.00" y1="628.47" x2="125.60" y2="628.47" stroke="#555" stroke-width="0.7"/>
<line x1="122.00" y1="643.80" x2="125.60" y2="643.80" stroke="#555" stroke-width="0.7"/>
<text x="121.20" y="600.70" font-size="8" text-anchor="end" fill="#231f20" stroke="#231f20" stroke-width="0.12">7.4</text>
<text x="121.20" y="646.70" font-size="8" text-anchor="end" fill="#231f20" stroke="#231f20" stroke-width="0.12">6.2</text>
<rect x="129.70" y="598.70" width="5.80" height="49.30" fill="#c9c9c9"/>
<rect x="140.00" y="618.40" width="5.80" height="29.60" fill="#c9c9c9"/>
<rect x="150.40" y="621.10" width="5.80" height="26.90" fill="#c9c9c9"/>
<rect x="160.80" y="647.40" width="5.80" height="0.60" fill="#c9c9c9"/>
<line x1="132.60" y1="650.10" x2="163.70" y2="650.10" stroke="#555" stroke-width="0.7"/>
<line x1="132.60" y1="650.10" x2="132.60" y2="652.60" stroke="#555" stroke-width="0.7"/>
<line x1="142.90" y1="650.10" x2="142.90" y2="652.60" stroke="#555" stroke-width="0.7"/>
<line x1="153.30" y1="650.10" x2="153.30" y2="652.60" stroke="#555" stroke-width="0.7"/>
<line x1="163.70" y1="650.10" x2="163.70" y2="652.60" stroke="#555" stroke-width="0.7"/>
<line x1="132.60" y1="596.20" x2="132.60" y2="601.00" stroke="#6a78c0" stroke-width="0.6"/>
<line x1="130.80" y1="596.20" x2="134.40" y2="596.20" stroke="#6a78c0" stroke-width="0.6"/>
<line x1="130.80" y1="601.00" x2="134.40" y2="601.00" stroke="#6a78c0" stroke-width="0.6"/>
<line x1="153.30" y1="618.20" x2="153.30" y2="624.00" stroke="#6a78c0" stroke-width="0.6"/>
<line x1="151.50" y1="618.20" x2="155.10" y2="618.20" stroke="#6a78c0" stroke-width="0.6"/>
<line x1="151.50" y1="624.00" x2="155.10" y2="624.00" stroke="#6a78c0" stroke-width="0.6"/>
<circle cx="132.60" cy="596.00" r="1.35" fill="#1f1f5c"/>
<circle cx="132.60" cy="600.60" r="1.35" fill="#1f1f5c"/>
<circle cx="143.00" cy="618.60" r="1.35" fill="#1f1f5c"/>
<circle cx="145.40" cy="617.60" r="1.35" fill="#1f1f5c"/>
<circle cx="153.30" cy="618.40" r="1.35" fill="#1f1f5c"/>
<circle cx="153.30" cy="622.60" r="1.35" fill="#1f1f5c"/>
<circle cx="163.00" cy="647.50" r="1.35" fill="#1f1f5c"/>
<circle cx="165.40" cy="646.50" r="1.35" fill="#1f1f5c"/>
<line x1="63.10" y1="674.90" x2="63.10" y2="718.60" stroke="#555" stroke-width="0.7"/>
<line x1="59.50" y1="675.20" x2="63.10" y2="675.20" stroke="#555" stroke-width="0.7"/>
<line x1="59.50" y1="689.57" x2="63.10" y2="689.57" stroke="#555" stroke-width="0.7"/>
<line x1="59.50" y1="703.93" x2="63.10" y2="703.93" stroke="#555" stroke-width="0.7"/>
<line x1="59.50" y1="718.30" x2="63.10" y2="718.30" stroke="#555" stroke-width="0.7"/>
<text x="59.20" y="678.10" font-size="8" text-anchor="end" fill="#231f20" stroke="#231f20" stroke-width="0.12">8.0</text>
<text x="59.20" y="721.20" font-size="8" text-anchor="end" fill="#231f20" stroke="#231f20" stroke-width="0.12">5.0</text>
<rect x="67.30" y="684.00" width="5.80" height="45.60" fill="#c9c9c9"/>
<rect x="77.20" y="697.20" width="5.80" height="32.40" fill="#c9c9c9"/>
<rect x="87.20" y="701.00" width="5.80" height="28.60" fill="#c9c9c9"/>
<rect x="97.30" y="721.70" width="5.80" height="7.90" fill="#c9c9c9"/>
<line x1="70.20" y1="732.30" x2="100.20" y2="732.30" stroke="#555" stroke-width="0.7"/>
<line x1="70.20" y1="732.30" x2="70.20" y2="734.80" stroke="#555" stroke-width="0.7"/>
<line x1="80.10" y1="732.30" x2="80.10" y2="734.80" stroke="#555" stroke-width="0.7"/>
<line x1="90.10" y1="732.30" x2="90.10" y2="734.80" stroke="#555" stroke-width="0.7"/>
<line x1="100.20" y1="732.30" x2="100.20" y2="734.80" stroke="#555" stroke-width="0.7"/>
<line x1="70.20" y1="674.50" x2="70.20" y2="693.20" stroke="#7a7a7a" stroke-width="0.6"/>
<line x1="68.40" y1="674.50" x2="72.00" y2="674.50" stroke="#7a7a7a" stroke-width="0.6"/>
<line x1="68.40" y1="693.20" x2="72.00" y2="693.20" stroke="#7a7a7a" stroke-width="0.6"/>
<line x1="80.10" y1="688.00" x2="80.10" y2="706.20" stroke="#7a7a7a" stroke-width="0.6"/>
<line x1="78.30" y1="688.00" x2="81.90" y2="688.00" stroke="#7a7a7a" stroke-width="0.6"/>
<line x1="78.30" y1="706.20" x2="81.90" y2="706.20" stroke="#7a7a7a" stroke-width="0.6"/>
<line x1="90.20" y1="685.00" x2="90.20" y2="718.00" stroke="#7a7a7a" stroke-width="0.6"/>
<line x1="88.40" y1="685.00" x2="92.00" y2="685.00" stroke="#7a7a7a" stroke-width="0.6"/>
<line x1="88.40" y1="718.00" x2="92.00" y2="718.00" stroke="#7a7a7a" stroke-width="0.6"/>
<line x1="100.30" y1="711.00" x2="100.30" y2="731.50" stroke="#7a7a7a" stroke-width="0.6"/>
<line x1="98.50" y1="711.00" x2="102.10" y2="711.00" stroke="#7a7a7a" stroke-width="0.6"/>
<line x1="98.50" y1="731.50" x2="102.10" y2="731.50" stroke="#7a7a7a" stroke-width="0.6"/>
<circle cx="70.20" cy="677.50" r="1.35" fill="#b8622a"/>
<circle cx="70.20" cy="691.00" r="1.35" fill="#b8622a"/>
<circle cx="80.10" cy="690.00" r="1.35" fill="#b8622a"/>
<circle cx="80.10" cy="704.00" r="1.35" fill="#b8622a"/>
<circle cx="90.20" cy="689.50" r="1.35" fill="#b8622a"/>
<circle cx="90.20" cy="712.50" r="1.35" fill="#b8622a"/>
<circle cx="100.30" cy="714.50" r="1.35" fill="#b8622a"/>
<circle cx="100.30" cy="730.00" r="1.35" fill="#b8622a"/>
<line x1="125.60" y1="679.10" x2="125.60" y2="729.80" stroke="#555" stroke-width="0.7"/>
<line x1="122.00" y1="679.40" x2="125.60" y2="679.40" stroke="#555" stroke-width="0.7"/>
<line x1="122.00" y1="691.92" x2="125.60" y2="691.92" stroke="#555" stroke-width="0.7"/>
<line x1="122.00" y1="704.45" x2="125.60" y2="704.45" stroke="#555" stroke-width="0.7"/>
<line x1="122.00" y1="716.98" x2="125.60" y2="716.98" stroke="#555" stroke-width="0.7"/>
<line x1="122.00" y1="729.50" x2="125.60" y2="729.50" stroke="#555" stroke-width="0.7"/>
<text x="121.20" y="682.30" font-size="8" text-anchor="end" fill="#231f20" stroke="#231f20" stroke-width="0.12">6.5</text>
<text x="121.20" y="732.40" font-size="8" text-anchor="end" fill="#231f20" stroke="#231f20" stroke-width="0.12">4.5</text>
<rect x="129.70" y="685.10" width="5.80" height="44.10" fill="#c9c9c9"/>
<rect x="140.00" y="707.30" width="5.80" height="21.90" fill="#c9c9c9"/>
<rect x="150.40" y="726.30" width="5.80" height="2.90" fill="#c9c9c9"/>
<rect x="160.80" y="725.30" width="5.80" height="3.90" fill="#c9c9c9"/>
<line x1="132.60" y1="732.30" x2="163.70" y2="732.30" stroke="#555" stroke-width="0.7"/>
<line x1="132.60" y1="732.30" x2="132.60" y2="734.80" stroke="#555" stroke-width="0.7"/>
<line x1="142.90" y1="732.30" x2="142.90" y2="734.80" stroke="#555" stroke-width="0.7"/>
<line x1="153.30" y1="732.30" x2="153.30" y2="734.80" stroke="#555" stroke-width="0.7"/>
<line x1="163.70" y1="732.30" x2="163.70" y2="734.80" stroke="#555" stroke-width="0.7"/>
<line x1="132.60" y1="675.00" x2="132.60" y2="695.50" stroke="#7a7a7a" stroke-width="0.6"/>
<line x1="130.80" y1="675.00" x2="134.40" y2="675.00" stroke="#7a7a7a" stroke-width="0.6"/>
<line x1="130.80" y1="695.50" x2="134.40" y2="695.50" stroke="#7a7a7a" stroke-width="0.6"/>
<line x1="143.00" y1="702.00" x2="143.00" y2="712.50" stroke="#7a7a7a" stroke-width="0.6"/>
<line x1="141.20" y1="702.00" x2="144.80" y2="702.00" stroke="#7a7a7a" stroke-width="0.6"/>
<line x1="141.20" y1="712.50" x2="144.80" y2="712.50" stroke="#7a7a7a" stroke-width="0.6"/>
<line x1="153.30" y1="721.00" x2="153.30" y2="731.00" stroke="#7a7a7a" stroke-width="0.6"/>
<line x1="151.50" y1="721.00" x2="155.10" y2="721.00" stroke="#7a7a7a" stroke-width="0.6"/>
<line x1="151.50" y1="731.00" x2="155.10" y2="731.00" stroke="#7a7a7a" stroke-width="0.6"/>
<line x1="164.20" y1="724.30" x2="164.20" y2="726.80" stroke="#7a7a7a" stroke-width="0.6"/>
<line x1="162.40" y1="724.30" x2="166.00" y2="724.30" stroke="#7a7a7a" stroke-width="0.6"/>
<line x1="162.40" y1="726.80" x2="166.00" y2="726.80" stroke="#7a7a7a" stroke-width="0.6"/>
<circle cx="132.60" cy="677.50" r="1.35" fill="#b8622a"/>
<circle cx="132.60" cy="691.50" r="1.35" fill="#b8622a"/>
<circle cx="143.00" cy="703.00" r="1.35" fill="#b8622a"/>
<circle cx="143.00" cy="711.50" r="1.35" fill="#b8622a"/>
<circle cx="153.30" cy="721.50" r="1.35" fill="#b8622a"/>
<circle cx="153.30" cy="729.50" r="1.35" fill="#b8622a"/>
<circle cx="163.00" cy="726.00" r="1.35" fill="#b8622a"/>
<circle cx="165.40" cy="725.00" r="1.35" fill="#b8622a"/>
<text x="73.10" y="738.00" font-size="8" text-anchor="end" fill="#231f20" stroke="#231f20" stroke-width="0.12" transform="rotate(-90 73.10 738.00)">DMSO</text>
<text x="83.00" y="738.00" font-size="8" text-anchor="end" fill="#231f20" stroke="#231f20" stroke-width="0.12" transform="rotate(-90 83.00 738.00)">POM</text>
<text x="93.00" y="738.00" font-size="8" text-anchor="end" fill="#231f20" stroke="#231f20" stroke-width="0.12" transform="rotate(-90 93.00 738.00)">G781</text>
<text x="103.10" y="738.00" font-size="8" text-anchor="end" fill="#231f20" stroke="#231f20" stroke-width="0.12" transform="rotate(-90 103.10 738.00)">Combo</text>
<text x="135.50" y="738.00" font-size="8" text-anchor="end" fill="#231f20" stroke="#231f20" stroke-width="0.12" transform="rotate(-90 135.50 738.00)">DMSO</text>
<text x="145.80" y="738.00" font-size="8" text-anchor="end" fill="#231f20" stroke="#231f20" stroke-width="0.12" transform="rotate(-90 145.80 738.00)">POM</text>
<text x="156.20" y="738.00" font-size="8" text-anchor="end" fill="#231f20" stroke="#231f20" stroke-width="0.12" transform="rotate(-90 156.20 738.00)">G781</text>
<text x="166.60" y="738.00" font-size="8" text-anchor="end" fill="#231f20" stroke="#231f20" stroke-width="0.12" transform="rotate(-90 166.60 738.00)">Combo</text>
<text x="184.00" y="586.30" font-size="9.5" font-weight="bold" fill="#000" stroke="#000" stroke-width="0.12">F</text>
<defs><filter id="bb" x="-20%" y="-60%" width="140%" height="220%"><feGaussianBlur stdDeviation="0.9 0.55"/></filter></defs>
<text x="240.20" y="587.40" font-size="8" text-anchor="middle" fill="#231f20" stroke="#231f20" stroke-width="0.12">JJN3</text>
<text x="240.20" y="664.70" font-size="8" text-anchor="middle" fill="#231f20" stroke="#231f20" stroke-width="0.12">KMS11</text>
<rect x="214.20" y="590.20" width="51.80" height="11.50" fill="#d2d2d2" stroke="#333" stroke-width="0.7"/>
<text x="211.00" y="598.95" font-size="8" text-anchor="end" fill="#231f20" stroke="#231f20" stroke-width="0.12">MYC</text>
<g filter="url(#bb)">
<rect x="215.95" y="594.30" width="10.50" height="3.40" fill="#0a0a0a" opacity="0.95"/>
<rect x="228.65" y="594.40" width="10.50" height="3.20" fill="#0a0a0a" opacity="0.9"/>
<rect x="241.35" y="594.30" width="10.50" height="3.00" fill="#0a0a0a" opacity="0.85"/>
<rect x="254.80" y="594.70" width="9.00" height="2.20" fill="#0a0a0a" opacity="0.4"/>
</g>
<rect x="214.20" y="603.40" width="51.80" height="11.40" fill="#cfcfcf" stroke="#333" stroke-width="0.7"/>
<text x="211.00" y="612.10" font-size="8" text-anchor="end" fill="#231f20" stroke="#231f20" stroke-width="0.12">IRF4</text>
<g filter="url(#bb)">
<rect x="215.70" y="607.60" width="11.00" height="4.00" fill="#0a0a0a" opacity="0.95"/>
<rect x="228.65" y="607.80" width="10.50" height="3.20" fill="#0a0a0a" opacity="0.85"/>
<rect x="241.35" y="607.70" width="10.50" height="3.40" fill="#0a0a0a" opacity="0.9"/>
<rect x="254.80" y="608.10" width="9.00" height="2.20" fill="#0a0a0a" opacity="0.3"/>
</g>
<rect x="214.20" y="616.50" width="51.80" height="11.10" fill="#d6d6d6" stroke="#333" stroke-width="0.7"/>
<text x="211.00" y="625.05" font-size="8" text-anchor="end" fill="#231f20" stroke="#231f20" stroke-width="0.12">IKZF1</text>
<g filter="url(#bb)">
<rect x="215.95" y="619.70" width="10.50" height="2.00" fill="#0a0a0a" opacity="0.9"/>
<rect x="215.95" y="623.10" width="10.50" height="2.00" fill="#0a0a0a" opacity="0.9"/>
<rect x="229.15" y="623.10" width="9.50" height="1.60" fill="#0a0a0a" opacity="0.3"/>
<rect x="241.35" y="619.70" width="10.50" height="2.00" fill="#0a0a0a" opacity="0.85"/>
<rect x="241.35" y="623.10" width="10.50" height="2.00" fill="#0a0a0a" opacity="0.9"/>
<rect x="254.55" y="622.40" width="9.50" height="1.80" fill="#0a0a0a" opacity="0.55"/>
</g>
<rect x="214.20" y="629.30" width="51.80" height="11.60" fill="#dadada" stroke="#333" stroke-width="0.7"/>
<text x="211.00" y="638.10" font-size="8" text-anchor="end" fill="#231f20" stroke="#231f20" stroke-width="0.12">IKZF3</text>
<g filter="url(#bb)">
<rect x="215.95" y="634.10" width="10.50" height="2.80" fill="#0a0a0a" opacity="0.95"/>
<rect x="229.40" y="635.10" width="9.00" height="1.60" fill="#0a0a0a" opacity="0.25"/>
<rect x="241.35" y="634.10" width="10.50" height="2.80" fill="#0a0a0a" opacity="0.95"/>
<rect x="254.80" y="635.20" width="9.00" height="1.40" fill="#0a0a0a" opacity="0.12"/>
</g>
<rect x="214.20" y="642.40" width="51.80" height="11.20" fill="#d4d4d4" stroke="#333" stroke-width="0.7"/>
<text x="211.00" y="651.00" font-size="8" text-anchor="end" fill="#231f20" stroke="#231f20" stroke-width="0.12">ACTIN</text>
<g filter="url(#bb)">
<rect x="215.45" y="647.10" width="11.50" height="2.60" fill="#0a0a0a" opacity="0.95"/>
<rect x="228.15" y="647.30" width="11.50" height="2.60" fill="#0a0a0a" opacity="0.95"/>
<rect x="240.85" y="647.10" width="11.50" height="2.60" fill="#0a0a0a" opacity="0.95"/>
<rect x="253.55" y="647.00" width="11.50" height="2.80" fill="#0a0a0a" opacity="0.95"/>
</g>
<rect x="214.20" y="668.00" width="51.80" height="11.60" fill="#c4c4c4" stroke="#333" stroke-width="0.7"/>
<text x="211.00" y="676.80" font-size="8" text-anchor="end" fill="#231f20" stroke="#231f20" stroke-width="0.12">MYC</text>
<g filter="url(#bb)">
<rect x="215.20" y="670.10" width="12.00" height="5.00" fill="#0a0a0a" opacity="0.95"/>
<rect x="228.65" y="671.70" width="10.50" height="2.20" fill="#0a0a0a" opacity="0.5"/>
<rect x="241.35" y="671.70" width="10.50" height="2.20" fill="#0a0a0a" opacity="0.45"/>
<rect x="254.80" y="672.20" width="9.00" height="1.60" fill="#0a0a0a" opacity="0.08"/>
</g>
<rect x="214.20" y="681.20" width="51.80" height="11.50" fill="#a9a9a9" stroke="#333" stroke-width="0.7"/>
<text x="211.00" y="689.95" font-size="8" text-anchor="end" fill="#231f20" stroke="#231f20" stroke-width="0.12">IRF4</text>
<g filter="url(#bb)">
<rect x="215.20" y="684.10" width="12.00" height="4.20" fill="#0a0a0a" opacity="0.8"/>
<rect x="228.65" y="685.10" width="10.50" height="2.60" fill="#0a0a0a" opacity="0.4"/>
<rect x="241.60" y="685.60" width="10.00" height="2.00" fill="#0a0a0a" opacity="0.15"/>
<rect x="254.80" y="685.70" width="9.00" height="1.80" fill="#0a0a0a" opacity="0.1"/>
</g>
<rect x="214.20" y="694.40" width="51.80" height="11.40" fill="#cdcdcd" stroke="#333" stroke-width="0.7"/>
<text x="211.00" y="703.10" font-size="8" text-anchor="end" fill="#231f20" stroke="#231f20" stroke-width="0.12">IKZF1</text>
<g filter="url(#bb)">
<rect x="215.45" y="697.10" width="11.50" height="2.60" fill="#0a0a0a" opacity="0.9"/>
<rect x="215.45" y="701.20" width="11.50" height="2.40" fill="#0a0a0a" opacity="0.95"/>
<rect x="228.15" y="701.40" width="11.50" height="2.00" fill="#0a0a0a" opacity="0.8"/>
<rect x="241.35" y="697.60" width="10.50" height="2.00" fill="#0a0a0a" opacity="0.6"/>
<rect x="240.85" y="701.20" width="11.50" height="2.40" fill="#0a0a0a" opacity="0.95"/>
<rect x="253.55" y="701.20" width="11.50" height="2.40" fill="#0a0a0a" opacity="0.95"/>
</g>
<rect x="214.20" y="707.50" width="51.80" height="11.60" fill="#d8d8d8" stroke="#333" stroke-width="0.7"/>
<text x="211.00" y="716.30" font-size="8" text-anchor="end" fill="#231f20" stroke="#231f20" stroke-width="0.12">IKZF3</text>
<g filter="url(#bb)">
<rect x="215.45" y="711.40" width="11.50" height="4.60" fill="#0a0a0a" opacity="0.98"/>
<rect x="229.90" y="713.40" width="8.00" height="1.40" fill="#0a0a0a" opacity="0.12"/>
<rect x="241.10" y="712.00" width="11.00" height="3.80" fill="#0a0a0a" opacity="0.95"/>
<rect x="255.30" y="713.50" width="8.00" height="1.20" fill="#0a0a0a" opacity="0.06"/>
</g>
<rect x="214.20" y="720.80" width="51.80" height="11.00" fill="#d0d0d0" stroke="#333" stroke-width="0.7"/>
<text x="211.00" y="729.30" font-size="8" text-anchor="end" fill="#231f20" stroke="#231f20" stroke-width="0.12">ACTIN</text>
<g filter="url(#bb)">
<rect x="214.95" y="725.00" width="12.50" height="2.80" fill="#0a0a0a" opacity="0.95"/>
<rect x="227.65" y="725.20" width="12.50" height="2.80" fill="#0a0a0a" opacity="0.95"/>
<rect x="240.35" y="725.20" width="12.50" height="2.80" fill="#0a0a0a" opacity="0.95"/>
<rect x="253.05" y="725.20" width="12.50" height="2.80" fill="#0a0a0a" opacity="0.95"/>
</g>
<text x="224.00" y="738.20" font-size="8" text-anchor="end" fill="#231f20" stroke="#231f20" stroke-width="0.12" transform="rotate(-90 224.00 738.20)">DMSO</text>
<text x="237.10" y="738.20" font-size="8" text-anchor="end" fill="#231f20" stroke="#231f20" stroke-width="0.12" transform="rotate(-90 237.10 738.20)">POM</text>
<text x="248.80" y="738.20" font-size="8" text-anchor="end" fill="#231f20" stroke="#231f20" stroke-width="0.12" transform="rotate(-90 248.80 738.20)">G781</text>
<text x="262.10" y="738.20" font-size="8" text-anchor="end" fill="#231f20" stroke="#231f20" stroke-width="0.12" transform="rotate(-90 262.10 738.20)">Combo</text>
<text x="285.50" y="586.80" font-size="9.5" font-weight="bold" fill="#000" stroke="#000" stroke-width="0.12">G</text>
<line x1="313.60" y1="598.90" x2="313.60" y2="695.00" stroke="#555" stroke-width="0.7"/>
<line x1="313.30" y1="695.00" x2="379.20" y2="695.00" stroke="#555" stroke-width="0.7"/>
<line x1="311.20" y1="599.20" x2="313.60" y2="599.20" stroke="#555" stroke-width="0.7"/>
<line x1="311.20" y1="615.17" x2="313.60" y2="615.17" stroke="#555" stroke-width="0.7"/>
<line x1="311.20" y1="631.13" x2="313.60" y2="631.13" stroke="#555" stroke-width="0.7"/>
<line x1="311.20" y1="647.10" x2="313.60" y2="647.10" stroke="#555" stroke-width="0.7"/>
<line x1="311.20" y1="663.07" x2="313.60" y2="663.07" stroke="#555" stroke-width="0.7"/>
<line x1="311.20" y1="679.03" x2="313.60" y2="679.03" stroke="#555" stroke-width="0.7"/>
<line x1="311.20" y1="695.00" x2="313.60" y2="695.00" stroke="#555" stroke-width="0.7"/>
<text x="307.70" y="602.10" font-size="8" text-anchor="end" fill="#231f20" stroke="#231f20" stroke-width="0.12">1.2</text>
<text x="307.70" y="634.03" font-size="8" text-anchor="end" fill="#231f20" stroke="#231f20" stroke-width="0.12">0.8</text>
<text x="307.70" y="665.97" font-size="8" text-anchor="end" fill="#231f20" stroke="#231f20" stroke-width="0.12">0.4</text>
<text x="307.70" y="697.90" font-size="8" text-anchor="end" fill="#231f20" stroke="#231f20" stroke-width="0.12">0.0</text>
<line x1="313.60" y1="615.40" x2="379.20" y2="615.40" stroke="#222" stroke-width="0.8" stroke-dasharray="1 1.2"/>
<text x="288.9" y="648.8" font-size="8" text-anchor="middle" fill="#231f20" transform="rotate(-90 288.9 648.8)">ΔMYC protein</text>
<line x1="326.80" y1="695.00" x2="326.80" y2="697.80" stroke="#555" stroke-width="0.7"/>
<text x="329.80" y="702.40" font-size="8" text-anchor="end" fill="#231f20" stroke="#231f20" stroke-width="0.12" transform="rotate(-45 329.80 702.40)">POM</text>
<line x1="346.20" y1="695.00" x2="346.20" y2="697.80" stroke="#555" stroke-width="0.7"/>
<text x="349.20" y="702.40" font-size="8" text-anchor="end" fill="#231f20" stroke="#231f20" stroke-width="0.12" transform="rotate(-45 349.20 702.40)">G781</text>
<line x1="365.40" y1="695.00" x2="365.40" y2="697.80" stroke="#555" stroke-width="0.7"/>
<text x="368.40" y="702.40" font-size="8" text-anchor="end" fill="#231f20" stroke="#231f20" stroke-width="0.12" transform="rotate(-45 368.40 702.40)">Combo</text>
<line x1="327.30" y1="595.70" x2="366.50" y2="595.70" stroke="#8c8c8c" stroke-width="1.0"/>
<text x="349.45" y="595.49" font-size="8.2" text-anchor="middle" font-weight="bold" fill="#111" stroke="#111" stroke-width="0.12" letter-spacing="1.1">****</text>
<line x1="327.30" y1="601.60" x2="344.60" y2="601.60" stroke="#8c8c8c" stroke-width="1.0"/>
<text x="337.55" y="602.49" font-size="8.2" text-anchor="middle" font-weight="bold" fill="#111" stroke="#111" stroke-width="0.12" letter-spacing="1.1">**</text>
<line x1="347.40" y1="605.10" x2="366.50" y2="605.10" stroke="#8c8c8c" stroke-width="1.0"/>
<text x="359.05" y="606.49" font-size="8.2" text-anchor="middle" font-weight="bold" fill="#111" stroke="#111" stroke-width="0.12" letter-spacing="1.1">**</text>
<circle cx="326.85" cy="614.70" r="1.45" fill="#8e8e8e"/>
<circle cx="322.00" cy="631.08" r="1.45" fill="#8e8e8e"/>
<circle cx="326.85" cy="629.70" r="1.45" fill="#8e8e8e"/>
<circle cx="328.93" cy="635.47" r="1.45" fill="#8e8e8e"/>
<circle cx="323.85" cy="637.77" r="1.45" fill="#8e8e8e"/>
<circle cx="331.23" cy="636.85" r="1.45" fill="#8e8e8e"/>
<circle cx="328.00" cy="643.77" r="1.45" fill="#8e8e8e"/>
<circle cx="322.23" cy="648.39" r="1.45" fill="#8e8e8e"/>
<circle cx="329.62" cy="647.70" r="1.45" fill="#8e8e8e"/>
<circle cx="326.16" cy="650.70" r="1.45" fill="#8e8e8e"/>
<circle cx="326.85" cy="660.39" r="1.45" fill="#8e8e8e"/>
<circle cx="326.85" cy="671.47" r="1.45" fill="#8e8e8e"/>
<line x1="321.00" y1="638.50" x2="332.60" y2="638.50" stroke="#111" stroke-width="1.3"/>
<circle cx="326.80" cy="618.20" r="3.0" fill="#24246e"/>
<circle cx="326.80" cy="680.00" r="3.0" fill="#d2692a"/>
<circle cx="340.47" cy="636.85" r="1.45" fill="#8e8e8e"/>
<circle cx="351.08" cy="636.85" r="1.45" fill="#8e8e8e"/>
<circle cx="340.47" cy="642.62" r="1.45" fill="#8e8e8e"/>
<circle cx="349.24" cy="643.31" r="1.45" fill="#8e8e8e"/>
<circle cx="346.24" cy="649.31" r="1.45" fill="#8e8e8e"/>
<circle cx="343.47" cy="654.62" r="1.45" fill="#8e8e8e"/>
<circle cx="340.47" cy="659.93" r="1.45" fill="#8e8e8e"/>
<circle cx="349.24" cy="660.85" r="1.45" fill="#8e8e8e"/>
<circle cx="343.47" cy="664.55" r="1.45" fill="#8e8e8e"/>
<circle cx="348.77" cy="663.85" r="1.45" fill="#8e8e8e"/>
<circle cx="340.47" cy="666.16" r="1.45" fill="#8e8e8e"/>
<circle cx="346.24" cy="669.16" r="1.45" fill="#8e8e8e"/>
<line x1="339.50" y1="656.90" x2="352.00" y2="656.90" stroke="#111" stroke-width="1.3"/>
<circle cx="344.20" cy="640.10" r="3.0" fill="#24246e"/>
<circle cx="346.20" cy="681.60" r="3.0" fill="#d2692a"/>
<circle cx="365.39" cy="634.54" r="1.45" fill="#8e8e8e"/>
<circle cx="365.39" cy="643.77" r="1.45" fill="#8e8e8e"/>
<circle cx="365.39" cy="648.39" r="1.45" fill="#8e8e8e"/>
<circle cx="367.70" cy="656.24" r="1.45" fill="#8e8e8e"/>
<circle cx="361.93" cy="658.08" r="1.45" fill="#8e8e8e"/>
<circle cx="370.01" cy="663.39" r="1.45" fill="#8e8e8e"/>
<circle cx="362.62" cy="668.47" r="1.45" fill="#8e8e8e"/>
<circle cx="365.39" cy="673.08" r="1.45" fill="#8e8e8e"/>
<circle cx="362.62" cy="676.55" r="1.45" fill="#8e8e8e"/>
<circle cx="367.70" cy="678.39" r="1.45" fill="#8e8e8e"/>
<circle cx="365.39" cy="683.47" r="1.45" fill="#8e8e8e"/>
<circle cx="370.01" cy="684.62" r="1.45" fill="#8e8e8e"/>
<circle cx="365.39" cy="688.09" r="1.45" fill="#8e8e8e"/>
<circle cx="370.01" cy="688.55" r="1.45" fill="#8e8e8e"/>
<line x1="358.90" y1="666.60" x2="371.20" y2="666.60" stroke="#111" stroke-width="1.3"/>
<circle cx="365.40" cy="664.30" r="3.0" fill="#24246e"/>
<circle cx="360.10" cy="689.70" r="3.0" fill="#d2692a"/>
<line x1="419.70" y1="596.60" x2="419.70" y2="695.00" stroke="#555" stroke-width="0.7"/>
<line x1="419.40" y1="695.00" x2="484.90" y2="695.00" stroke="#555" stroke-width="0.7"/>
<line x1="417.30" y1="596.90" x2="419.70" y2="596.90" stroke="#555" stroke-width="0.7"/>
<line x1="417.30" y1="613.25" x2="419.70" y2="613.25" stroke="#555" stroke-width="0.7"/>
<line x1="417.30" y1="629.60" x2="419.70" y2="629.60" stroke="#555" stroke-width="0.7"/>
<line x1="417.30" y1="645.95" x2="419.70" y2="645.95" stroke="#555" stroke-width="0.7"/>
<line x1="417.30" y1="662.30" x2="419.70" y2="662.30" stroke="#555" stroke-width="0.7"/>
<line x1="417.30" y1="678.65" x2="419.70" y2="678.65" stroke="#555" stroke-width="0.7"/>
<line x1="417.30" y1="695.00" x2="419.70" y2="695.00" stroke="#555" stroke-width="0.7"/>
<text x="413.80" y="599.80" font-size="8" text-anchor="end" fill="#231f20" stroke="#231f20" stroke-width="0.12">1.2</text>
<text x="413.80" y="632.50" font-size="8" text-anchor="end" fill="#231f20" stroke="#231f20" stroke-width="0.12">0.8</text>
<text x="413.80" y="665.20" font-size="8" text-anchor="end" fill="#231f20" stroke="#231f20" stroke-width="0.12">0.4</text>
<text x="413.80" y="697.90" font-size="8" text-anchor="end" fill="#231f20" stroke="#231f20" stroke-width="0.12">0.0</text>
<line x1="419.70" y1="613.10" x2="484.90" y2="613.10" stroke="#222" stroke-width="0.8" stroke-dasharray="1 1.2"/>
<text x="394.8" y="648.8" font-size="8" text-anchor="middle" fill="#231f20" transform="rotate(-90 394.8 648.8)">ΔIRF4 protein</text>
<line x1="432.30" y1="695.00" x2="432.30" y2="697.80" stroke="#555" stroke-width="0.7"/>
<text x="435.30" y="702.40" font-size="8" text-anchor="end" fill="#231f20" stroke="#231f20" stroke-width="0.12" transform="rotate(-45 435.30 702.40)">POM</text>
<line x1="451.90" y1="695.00" x2="451.90" y2="697.80" stroke="#555" stroke-width="0.7"/>
<text x="454.90" y="702.40" font-size="8" text-anchor="end" fill="#231f20" stroke="#231f20" stroke-width="0.12" transform="rotate(-45 454.90 702.40)">G781</text>
<line x1="471.50" y1="695.00" x2="471.50" y2="697.80" stroke="#555" stroke-width="0.7"/>
<text x="474.50" y="702.40" font-size="8" text-anchor="end" fill="#231f20" stroke="#231f20" stroke-width="0.12" transform="rotate(-45 474.50 702.40)">Combo</text>
<line x1="434.20" y1="598.20" x2="473.50" y2="598.20" stroke="#8c8c8c" stroke-width="1.0"/>
<text x="454.25" y="597.99" font-size="8.2" text-anchor="middle" font-weight="bold" fill="#111" stroke="#111" stroke-width="0.12" letter-spacing="1.1">****</text>
<line x1="434.20" y1="603.80" x2="452.70" y2="603.80" stroke="#8c8c8c" stroke-width="1.0"/>
<text x="444.05" y="604.19" font-size="8.2" text-anchor="middle" font-weight="bold" fill="#111" stroke="#111" stroke-width="0.12" letter-spacing="1.1">*</text>
<line x1="454.20" y1="607.40" x2="473.50" y2="607.40" stroke="#8c8c8c" stroke-width="1.0"/>
<text x="464.05" y="607.99" font-size="8.2" text-anchor="middle" font-weight="bold" fill="#111" stroke="#111" stroke-width="0.12" letter-spacing="1.1">**</text>
<circle cx="432.31" cy="613.08" r="1.45" fill="#8e8e8e"/>
<circle cx="432.31" cy="617.70" r="1.45" fill="#8e8e8e"/>
<circle cx="432.31" cy="626.93" r="1.45" fill="#8e8e8e"/>
<circle cx="427.23" cy="628.77" r="1.45" fill="#8e8e8e"/>
<circle cx="437.39" cy="629.70" r="1.45" fill="#8e8e8e"/>
<circle cx="432.31" cy="632.70" r="1.45" fill="#8e8e8e"/>
<circle cx="430.00" cy="639.16" r="1.45" fill="#8e8e8e"/>
<circle cx="435.08" cy="639.16" r="1.45" fill="#8e8e8e"/>
<circle cx="437.39" cy="646.54" r="1.45" fill="#8e8e8e"/>
<circle cx="430.00" cy="656.24" r="1.45" fill="#8e8e8e"/>
<circle cx="435.08" cy="655.78" r="1.45" fill="#8e8e8e"/>
<circle cx="432.31" cy="666.16" r="1.45" fill="#8e8e8e"/>
<circle cx="432.31" cy="669.62" r="1.45" fill="#8e8e8e"/>
<line x1="426.50" y1="644.20" x2="438.80" y2="644.20" stroke="#111" stroke-width="1.3"/>
<circle cx="427.20" cy="644.20" r="3.0" fill="#24246e"/>
<circle cx="432.30" cy="651.20" r="3.0" fill="#d2692a"/>
<circle cx="449.62" cy="633.85" r="1.45" fill="#8e8e8e"/>
<circle cx="452.62" cy="633.85" r="1.45" fill="#8e8e8e"/>
<circle cx="454.70" cy="635.00" r="1.45" fill="#8e8e8e"/>
<circle cx="457.24" cy="632.00" r="1.45" fill="#8e8e8e"/>
<circle cx="451.93" cy="647.70" r="1.45" fill="#8e8e8e"/>
<circle cx="449.62" cy="655.78" r="1.45" fill="#8e8e8e"/>
<circle cx="454.70" cy="659.24" r="1.45" fill="#8e8e8e"/>
<circle cx="451.93" cy="664.55" r="1.45" fill="#8e8e8e"/>
<circle cx="451.93" cy="670.78" r="1.45" fill="#8e8e8e"/>
<circle cx="454.70" cy="676.55" r="1.45" fill="#8e8e8e"/>
<circle cx="449.62" cy="679.32" r="1.45" fill="#8e8e8e"/>
<line x1="445.70" y1="655.10" x2="458.80" y2="655.10" stroke="#111" stroke-width="1.3"/>
<circle cx="454.70" cy="653.90" r="3.0" fill="#24246e"/>
<circle cx="454.70" cy="678.40" r="3.0" fill="#d2692a"/>
<circle cx="471.54" cy="634.54" r="1.45" fill="#8e8e8e"/>
<circle cx="466.93" cy="647.70" r="1.45" fill="#8e8e8e"/>
<circle cx="469.93" cy="646.08" r="1.45" fill="#8e8e8e"/>
<circle cx="473.39" cy="648.85" r="1.45" fill="#8e8e8e"/>
<circle cx="471.54" cy="659.93" r="1.45" fill="#8e8e8e"/>
<circle cx="471.54" cy="666.16" r="1.45" fill="#8e8e8e"/>
<circle cx="468.08" cy="669.62" r="1.45" fill="#8e8e8e"/>
<circle cx="471.54" cy="669.62" r="1.45" fill="#8e8e8e"/>
<circle cx="474.31" cy="669.62" r="1.45" fill="#8e8e8e"/>
<circle cx="476.85" cy="669.62" r="1.45" fill="#8e8e8e"/>
<circle cx="471.54" cy="675.39" r="1.45" fill="#8e8e8e"/>
<circle cx="473.39" cy="680.70" r="1.45" fill="#8e8e8e"/>
<circle cx="473.39" cy="683.47" r="1.45" fill="#8e8e8e"/>
<line x1="465.30" y1="669.60" x2="478.50" y2="669.60" stroke="#111" stroke-width="1.3"/>
<circle cx="466.90" cy="678.40" r="3.0" fill="#24246e"/>
<circle cx="470.40" cy="685.30" r="3.0" fill="#d2692a"/>
<text x="1.80" y="784.00" font-size="9.5" font-weight="bold" fill="#000" stroke="#000" stroke-width="0.12">H</text>
<line x1="38.00" y1="797.20" x2="38.00" y2="895.74" stroke="#555" stroke-width="0.7"/>
<line x1="37.70" y1="895.74" x2="106.30" y2="895.74" stroke="#555" stroke-width="0.7"/>
<line x1="35.40" y1="797.50" x2="38.00" y2="797.50" stroke="#555" stroke-width="0.7"/>
<text x="33.20" y="800.40" font-size="8" text-anchor="end" fill="#231f20" stroke="#231f20" stroke-width="0.12">1.5</text>
<line x1="35.40" y1="822.06" x2="38.00" y2="822.06" stroke="#555" stroke-width="0.7"/>
<text x="33.20" y="824.96" font-size="8" text-anchor="end" fill="#231f20" stroke="#231f20" stroke-width="0.12">1.0</text>
<line x1="35.40" y1="846.62" x2="38.00" y2="846.62" stroke="#555" stroke-width="0.7"/>
<text x="33.20" y="849.52" font-size="8" text-anchor="end" fill="#231f20" stroke="#231f20" stroke-width="0.12">0.5</text>
<line x1="35.40" y1="871.18" x2="38.00" y2="871.18" stroke="#555" stroke-width="0.7"/>
<text x="33.20" y="874.08" font-size="8" text-anchor="end" fill="#231f20" stroke="#231f20" stroke-width="0.12">0.0</text>
<line x1="35.40" y1="895.74" x2="38.00" y2="895.74" stroke="#555" stroke-width="0.7"/>
<text x="33.20" y="898.64" font-size="8" text-anchor="end" fill="#231f20" stroke="#231f20" stroke-width="0.12">−0.5</text>
<line x1="38.00" y1="822.00" x2="106.30" y2="822.00" stroke="#222" stroke-width="0.8" stroke-dasharray="1 1.2"/>
<text x="16.30" y="846.90" font-size="8" text-anchor="middle" fill="#231f20" stroke="#231f20" stroke-width="0.12" transform="rotate(-90 16.30 846.90)">Viability score</text>
<line x1="52.50" y1="895.74" x2="52.50" y2="898.54" stroke="#555" stroke-width="0.7"/>
<text x="55.50" y="903.34" font-size="8" text-anchor="end" fill="#231f20" stroke="#231f20" stroke-width="0.12" transform="rotate(-45 55.50 903.34)">POM</text>
<line x1="72.00" y1="895.74" x2="72.00" y2="898.54" stroke="#555" stroke-width="0.7"/>
<text x="75.00" y="903.34" font-size="8" text-anchor="end" fill="#231f20" stroke="#231f20" stroke-width="0.12" transform="rotate(-45 75.00 903.34)">G781</text>
<line x1="92.00" y1="895.74" x2="92.00" y2="898.54" stroke="#555" stroke-width="0.7"/>
<text x="95.00" y="903.34" font-size="8" text-anchor="end" fill="#231f20" stroke="#231f20" stroke-width="0.12" transform="rotate(-45 95.00 903.34)">Combo</text>
<line x1="51.90" y1="792.60" x2="92.70" y2="792.60" stroke="#8c8c8c" stroke-width="1.0"/>
<text x="74.75" y="792.59" font-size="8.2" text-anchor="middle" font-weight="bold" fill="#111" stroke="#111" stroke-width="0.12" letter-spacing="1.1">****</text>
<line x1="51.90" y1="798.50" x2="71.20" y2="798.50" stroke="#8c8c8c" stroke-width="1.0"/>
<text x="62.65" y="799.09" font-size="8.2" text-anchor="middle" font-weight="bold" fill="#111" stroke="#111" stroke-width="0.12" letter-spacing="1.1">**</text>
<line x1="72.70" y1="804.20" x2="92.70" y2="804.20" stroke="#8c8c8c" stroke-width="1.0"/>
<text x="84.65" y="804.89" font-size="8.2" text-anchor="middle" font-weight="bold" fill="#111" stroke="#111" stroke-width="0.12" letter-spacing="1.1">****</text>
<circle cx="51.25" cy="813.75" r="1.45" fill="#8e8e8e"/>
<circle cx="53.75" cy="811.25" r="1.45" fill="#8e8e8e"/>
<circle cx="47.50" cy="825.00" r="1.45" fill="#8e8e8e"/>
<circle cx="55.50" cy="824.25" r="1.45" fill="#8e8e8e"/>
<circle cx="50.00" cy="827.50" r="1.45" fill="#8e8e8e"/>
<circle cx="54.50" cy="828.00" r="1.45" fill="#8e8e8e"/>
<circle cx="52.00" cy="832.00" r="1.45" fill="#8e8e8e"/>
<circle cx="52.00" cy="837.50" r="1.45" fill="#8e8e8e"/>
<circle cx="52.00" cy="850.00" r="1.45" fill="#8e8e8e"/>
<line x1="45.80" y1="826.80" x2="59.30" y2="826.80" stroke="#111" stroke-width="1.3"/>
<circle cx="52.50" cy="845.50" r="3.0" fill="#24246e"/>
<circle cx="52.50" cy="861.80" r="3.0" fill="#d2692a"/>
<circle cx="72.50" cy="818.25" r="1.45" fill="#8e8e8e"/>
<circle cx="72.50" cy="823.75" r="1.45" fill="#8e8e8e"/>
<circle cx="67.50" cy="830.50" r="1.45" fill="#8e8e8e"/>
<circle cx="70.75" cy="832.00" r="1.45" fill="#8e8e8e"/>
<circle cx="74.25" cy="830.50" r="1.45" fill="#8e8e8e"/>
<circle cx="77.50" cy="832.00" r="1.45" fill="#8e8e8e"/>
<circle cx="68.75" cy="836.25" r="1.45" fill="#8e8e8e"/>
<circle cx="75.00" cy="839.25" r="1.45" fill="#8e8e8e"/>
<circle cx="70.75" cy="845.00" r="1.45" fill="#8e8e8e"/>
<circle cx="73.75" cy="847.00" r="1.45" fill="#8e8e8e"/>
<circle cx="70.75" cy="850.00" r="1.45" fill="#8e8e8e"/>
<circle cx="70.75" cy="858.75" r="1.45" fill="#8e8e8e"/>
<circle cx="73.25" cy="861.25" r="1.45" fill="#8e8e8e"/>
<line x1="65.80" y1="839.50" x2="78.80" y2="839.50" stroke="#111" stroke-width="1.3"/>
<circle cx="72.00" cy="853.30" r="3.0" fill="#24246e"/>
<circle cx="72.00" cy="871.30" r="3.0" fill="#d2692a"/>
<circle cx="92.50" cy="819.50" r="1.45" fill="#8e8e8e"/>
<circle cx="92.00" cy="836.25" r="1.45" fill="#8e8e8e"/>
<circle cx="88.75" cy="840.00" r="1.45" fill="#8e8e8e"/>
<circle cx="95.00" cy="841.25" r="1.45" fill="#8e8e8e"/>
<circle cx="88.75" cy="843.75" r="1.45" fill="#8e8e8e"/>
<circle cx="95.00" cy="845.50" r="1.45" fill="#8e8e8e"/>
<circle cx="92.00" cy="851.25" r="1.45" fill="#8e8e8e"/>
<circle cx="92.00" cy="858.00" r="1.45" fill="#8e8e8e"/>
<circle cx="95.00" cy="859.50" r="1.45" fill="#8e8e8e"/>
<circle cx="92.00" cy="865.00" r="1.45" fill="#8e8e8e"/>
<circle cx="95.00" cy="875.00" r="1.45" fill="#8e8e8e"/>
<circle cx="95.00" cy="885.00" r="1.45" fill="#8e8e8e"/>
<line x1="85.50" y1="859.50" x2="98.80" y2="859.50" stroke="#111" stroke-width="1.3"/>
<circle cx="92.00" cy="877.50" r="3.0" fill="#24246e"/>
<circle cx="88.80" cy="887.50" r="3.0" fill="#d2692a"/>
<text x="116.60" y="784.00" font-size="9.5" font-weight="bold" fill="#000" stroke="#000" stroke-width="0.12">I</text>
<line x1="153.00" y1="806.00" x2="153.00" y2="836.00" stroke="#555" stroke-width="0.7"/>
<line x1="153.00" y1="841.00" x2="153.00" y2="896.30" stroke="#555" stroke-width="0.7"/>
<line x1="150.60" y1="806.30" x2="153.00" y2="806.30" stroke="#555" stroke-width="0.7"/>
<text x="150.00" y="809.00" font-size="7.6" text-anchor="end" fill="#231f20" stroke="#231f20" stroke-width="0.12">4</text>
<line x1="150.60" y1="816.30" x2="153.00" y2="816.30" stroke="#555" stroke-width="0.7"/>
<text x="150.00" y="819.00" font-size="7.6" text-anchor="end" fill="#231f20" stroke="#231f20" stroke-width="0.12">3</text>
<line x1="150.60" y1="826.30" x2="153.00" y2="826.30" stroke="#555" stroke-width="0.7"/>
<text x="150.00" y="829.00" font-size="7.6" text-anchor="end" fill="#231f20" stroke="#231f20" stroke-width="0.12">2</text>
<line x1="150.60" y1="835.80" x2="153.00" y2="835.80" stroke="#555" stroke-width="0.7"/>
<text x="150.00" y="838.50" font-size="7.6" text-anchor="end" fill="#231f20" stroke="#231f20" stroke-width="0.12">1</text>
<line x1="150.60" y1="841.30" x2="153.00" y2="841.30" stroke="#555" stroke-width="0.7"/>
<text x="150.00" y="844.10" font-size="7.6" text-anchor="end" fill="#231f20" stroke="#231f20" stroke-width="0.12">1.0</text>
<line x1="150.60" y1="852.30" x2="153.00" y2="852.30" stroke="#555" stroke-width="0.7"/>
<text x="150.00" y="855.10" font-size="7.6" text-anchor="end" fill="#231f20" stroke="#231f20" stroke-width="0.12">0.8</text>
<line x1="150.60" y1="863.30" x2="153.00" y2="863.30" stroke="#555" stroke-width="0.7"/>
<text x="150.00" y="866.10" font-size="7.6" text-anchor="end" fill="#231f20" stroke="#231f20" stroke-width="0.12">0.6</text>
<line x1="150.60" y1="874.30" x2="153.00" y2="874.30" stroke="#555" stroke-width="0.7"/>
<text x="150.00" y="877.10" font-size="7.6" text-anchor="end" fill="#231f20" stroke="#231f20" stroke-width="0.12">0.4</text>
<line x1="150.60" y1="885.30" x2="153.00" y2="885.30" stroke="#555" stroke-width="0.7"/>
<text x="150.00" y="888.10" font-size="7.6" text-anchor="end" fill="#231f20" stroke="#231f20" stroke-width="0.12">0.2</text>
<line x1="150.60" y1="896.30" x2="153.00" y2="896.30" stroke="#555" stroke-width="0.7"/>
<text x="150.00" y="899.10" font-size="7.6" text-anchor="end" fill="#231f20" stroke="#231f20" stroke-width="0.12">0.0</text>
<line x1="152.70" y1="896.30" x2="294.00" y2="896.30" stroke="#555" stroke-width="0.7"/>
<text x="123.00" y="851.00" font-size="7.4" text-anchor="middle" fill="#231f20" stroke="#231f20" stroke-width="0.12" transform="rotate(-90 123.00 851.00)">Day 14 M-spike levels</text>
<text x="131.30" y="851.00" font-size="7.4" text-anchor="middle" fill="#231f20" stroke="#231f20" stroke-width="0.12" transform="rotate(-90 131.30 851.00)">(fraction of d 0)</text>
<rect x="160.80" y="830.80" width="14.70" height="65.50" fill="#fff" stroke="#e8282c" stroke-width="0.9"/>
<line x1="168.15" y1="896.30" x2="168.15" y2="899.00" stroke="#555" stroke-width="0.7"/>
<text x="171.35" y="902.60" font-size="7.6" text-anchor="end" fill="#231f20" stroke="#231f20" stroke-width="0.12" transform="rotate(-45 171.35 902.60)">Vehicle</text>
<rect x="183.00" y="841.30" width="14.50" height="55.00" fill="#fff" stroke="#1c8c4c" stroke-width="0.9"/>
<line x1="190.25" y1="896.30" x2="190.25" y2="899.00" stroke="#555" stroke-width="0.7"/>
<text x="193.45" y="902.60" font-size="7.6" text-anchor="end" fill="#231f20" stroke="#231f20" stroke-width="0.12" transform="rotate(-45 193.45 902.60)">POM</text>
<rect x="204.80" y="849.20" width="14.80" height="47.10" fill="#fff" stroke="#f0902a" stroke-width="0.9"/>
<line x1="212.20" y1="896.30" x2="212.20" y2="899.00" stroke="#555" stroke-width="0.7"/>
<text x="215.40" y="902.60" font-size="7.6" text-anchor="end" fill="#231f20" stroke="#231f20" stroke-width="0.12" transform="rotate(-45 215.40 902.60)">G781 3.75 mpk</text>
<rect x="226.90" y="870.30" width="15.00" height="26.00" fill="#fff" stroke="#f0902a" stroke-width="0.9"/>
<line x1="234.40" y1="896.30" x2="234.40" y2="899.00" stroke="#555" stroke-width="0.7"/>
<text x="237.60" y="902.60" font-size="7.6" text-anchor="end" fill="#231f20" stroke="#231f20" stroke-width="0.12" transform="rotate(-45 237.60 902.60)">G781 15 mpk</text>
<rect x="249.10" y="880.90" width="15.00" height="15.40" fill="#fff" stroke="#7a5cb8" stroke-width="0.9"/>
<line x1="256.60" y1="896.30" x2="256.60" y2="899.00" stroke="#555" stroke-width="0.7"/>
<text x="259.80" y="902.60" font-size="7.6" text-anchor="end" fill="#231f20" stroke="#231f20" stroke-width="0.12" transform="rotate(-45 259.80 902.60)">G781 3.75 + POM</text>
<rect x="271.30" y="879.70" width="15.00" height="16.60" fill="#fff" stroke="#3a5aa8" stroke-width="0.9"/>
<line x1="278.80" y1="896.30" x2="278.80" y2="899.00" stroke="#555" stroke-width="0.7"/>
<text x="282.00" y="902.60" font-size="7.6" text-anchor="end" fill="#231f20" stroke="#231f20" stroke-width="0.12" transform="rotate(-45 282.00 902.60)">G781 15  + POM</text>
<rect x="167.35" y="809.10" width="1.80" height="1.80" fill="#e8282c"/>
<rect x="168.35" y="814.60" width="1.80" height="1.80" fill="#e8282c"/>
<rect x="169.10" y="820.85" width="1.80" height="1.80" fill="#e8282c"/>
<rect x="166.10" y="822.85" width="1.80" height="1.80" fill="#e8282c"/>
<rect x="170.35" y="824.60" width="1.80" height="1.80" fill="#e8282c"/>
<rect x="164.60" y="826.10" width="1.80" height="1.80" fill="#e8282c"/>
<rect x="168.10" y="827.10" width="1.80" height="1.80" fill="#e8282c"/>
<rect x="171.60" y="828.60" width="1.80" height="1.80" fill="#e8282c"/>
<rect x="162.85" y="829.60" width="1.80" height="1.80" fill="#e8282c"/>
<rect x="166.10" y="830.60" width="1.80" height="1.80" fill="#e8282c"/>
<rect x="169.60" y="831.60" width="1.80" height="1.80" fill="#e8282c"/>
<rect x="173.10" y="830.60" width="1.80" height="1.80" fill="#e8282c"/>
<rect x="161.60" y="831.60" width="1.80" height="1.80" fill="#e8282c"/>
<rect x="164.60" y="832.85" width="1.80" height="1.80" fill="#e8282c"/>
<rect x="168.10" y="834.60" width="1.80" height="1.80" fill="#e8282c"/>
<rect x="171.10" y="836.10" width="1.80" height="1.80" fill="#e8282c"/>
<rect x="168.10" y="839.10" width="1.80" height="1.80" fill="#e8282c"/>
<rect x="166.60" y="841.60" width="1.80" height="1.80" fill="#e8282c"/>
<rect x="169.60" y="843.10" width="1.80" height="1.80" fill="#e8282c"/>
<rect x="168.10" y="845.60" width="1.80" height="1.80" fill="#e8282c"/>
<rect x="166.60" y="849.60" width="1.80" height="1.80" fill="#e8282c"/>
<rect x="188.90" y="818.15" width="2.20" height="2.20" fill="#1c8c4c"/>
<rect x="186.40" y="826.90" width="2.20" height="2.20" fill="#1c8c4c"/>
<rect x="191.40" y="826.90" width="2.20" height="2.20" fill="#1c8c4c"/>
<rect x="183.90" y="835.15" width="2.20" height="2.20" fill="#1c8c4c"/>
<rect x="188.90" y="835.15" width="2.20" height="2.20" fill="#1c8c4c"/>
<rect x="193.90" y="835.15" width="2.20" height="2.20" fill="#1c8c4c"/>
<rect x="188.90" y="841.90" width="2.20" height="2.20" fill="#1c8c4c"/>
<rect x="188.90" y="844.40" width="2.20" height="2.20" fill="#1c8c4c"/>
<rect x="188.90" y="853.90" width="2.20" height="2.20" fill="#1c8c4c"/>
<rect x="188.90" y="863.40" width="2.20" height="2.20" fill="#1c8c4c"/>
<rect x="193.90" y="861.90" width="2.20" height="2.20" fill="#1c8c4c"/>
<rect x="188.90" y="869.40" width="2.20" height="2.20" fill="#1c8c4c"/>
<rect x="205.40" y="845.92" width="1.90" height="1.90" fill="#f0902a"/>
<rect x="209.20" y="847.19" width="1.90" height="1.90" fill="#f0902a"/>
<rect x="212.80" y="846.55" width="1.90" height="1.90" fill="#f0902a"/>
<rect x="217.03" y="847.19" width="1.90" height="1.90" fill="#f0902a"/>
<rect x="208.57" y="863.48" width="1.90" height="1.90" fill="#f0902a"/>
<rect x="213.86" y="864.11" width="1.90" height="1.90" fill="#f0902a"/>
<rect x="211.32" y="869.40" width="1.90" height="1.90" fill="#f0902a"/>
<rect x="233.53" y="856.07" width="1.90" height="1.90" fill="#f0902a"/>
<rect x="231.21" y="863.48" width="1.90" height="1.90" fill="#f0902a"/>
<rect x="236.07" y="865.17" width="1.90" height="1.90" fill="#f0902a"/>
<rect x="228.67" y="868.13" width="1.90" height="1.90" fill="#f0902a"/>
<rect x="232.90" y="869.40" width="1.90" height="1.90" fill="#f0902a"/>
<rect x="236.71" y="869.82" width="1.90" height="1.90" fill="#f0902a"/>
<rect x="239.67" y="869.40" width="1.90" height="1.90" fill="#f0902a"/>
<rect x="228.67" y="871.51" width="1.90" height="1.90" fill="#f0902a"/>
<rect x="233.96" y="871.94" width="1.90" height="1.90" fill="#f0902a"/>
<rect x="230.78" y="874.48" width="1.90" height="1.90" fill="#f0902a"/>
<rect x="236.07" y="876.17" width="1.90" height="1.90" fill="#f0902a"/>
<rect x="239.24" y="874.05" width="1.90" height="1.90" fill="#f0902a"/>
<rect x="232.90" y="879.34" width="1.90" height="1.90" fill="#f0902a"/>
<rect x="233.53" y="884.63" width="1.90" height="1.90" fill="#f0902a"/>
<rect x="250.46" y="872.36" width="1.90" height="1.90" fill="#7a5cb8"/>
<rect x="255.75" y="874.48" width="1.90" height="1.90" fill="#7a5cb8"/>
<rect x="250.46" y="879.34" width="1.90" height="1.90" fill="#7a5cb8"/>
<rect x="255.75" y="877.86" width="1.90" height="1.90" fill="#7a5cb8"/>
<rect x="260.40" y="880.40" width="1.90" height="1.90" fill="#7a5cb8"/>
<rect x="255.75" y="884.63" width="1.90" height="1.90" fill="#7a5cb8"/>
<rect x="272.03" y="876.17" width="1.90" height="1.90" fill="#3a5aa8"/>
<rect x="276.27" y="877.86" width="1.90" height="1.90" fill="#3a5aa8"/>
<rect x="280.50" y="878.92" width="1.90" height="1.90" fill="#3a5aa8"/>
<rect x="283.67" y="878.28" width="1.90" height="1.90" fill="#3a5aa8"/>
<line x1="234.50" y1="840.50" x2="280.00" y2="840.50" stroke="#555" stroke-width="0.8"/>
<text x="257.65" y="841.69" font-size="8.2" text-anchor="middle" font-weight="bold" fill="#111" stroke="#111" stroke-width="0.12" letter-spacing="1.1">*</text>
<line x1="234.50" y1="846.90" x2="257.10" y2="846.90" stroke="#555" stroke-width="0.8"/>
<text x="246.05" y="847.09" font-size="8.2" text-anchor="middle" font-weight="bold" fill="#111" stroke="#111" stroke-width="0.12" letter-spacing="1.1">*</text>
<line x1="258.20" y1="862.30" x2="278.30" y2="862.30" stroke="#555" stroke-width="0.8"/>
<text x="268.10" y="860.20" font-size="8.4" text-anchor="middle" fill="#231f20" stroke="#231f20" stroke-width="0.12">ns</text>
<text x="284.80" y="783.80" font-size="9.5" font-weight="bold" fill="#000" stroke="#000" stroke-width="0.12">K</text>
<rect x="328.80" y="785.50" width="6.30" height="110.80" fill="#f4e02a"/>
<line x1="328.00" y1="785.20" x2="328.00" y2="896.30" stroke="#555" stroke-width="0.7"/>
<line x1="327.70" y1="896.30" x2="469.50" y2="896.30" stroke="#555" stroke-width="0.7"/>
<line x1="325.40" y1="785.50" x2="328.00" y2="785.50" stroke="#555" stroke-width="0.7"/>
<text x="321.40" y="788.40" font-size="8" text-anchor="end" fill="#231f20" stroke="#231f20" stroke-width="0.12">100</text>
<line x1="325.40" y1="813.20" x2="328.00" y2="813.20" stroke="#555" stroke-width="0.7"/>
<text x="321.40" y="816.10" font-size="8" text-anchor="end" fill="#231f20" stroke="#231f20" stroke-width="0.12">75</text>
<line x1="325.40" y1="840.90" x2="328.00" y2="840.90" stroke="#555" stroke-width="0.7"/>
<text x="321.40" y="843.80" font-size="8" text-anchor="end" fill="#231f20" stroke="#231f20" stroke-width="0.12">50</text>
<line x1="325.40" y1="868.60" x2="328.00" y2="868.60" stroke="#555" stroke-width="0.7"/>
<text x="321.40" y="871.50" font-size="8" text-anchor="end" fill="#231f20" stroke="#231f20" stroke-width="0.12">25</text>
<line x1="325.40" y1="896.30" x2="328.00" y2="896.30" stroke="#555" stroke-width="0.7"/>
<text x="321.40" y="899.20" font-size="8" text-anchor="end" fill="#231f20" stroke="#231f20" stroke-width="0.12">0</text>
<line x1="328.00" y1="896.30" x2="328.00" y2="899.10" stroke="#555" stroke-width="0.7"/>
<text x="328.00" y="908.80" font-size="8" text-anchor="middle" fill="#231f20" stroke="#231f20" stroke-width="0.12">0</text>
<line x1="351.50" y1="896.30" x2="351.50" y2="898.30" stroke="#555" stroke-width="0.7"/>
<line x1="375.00" y1="896.30" x2="375.00" y2="899.10" stroke="#555" stroke-width="0.7"/>
<text x="375.00" y="908.80" font-size="8" text-anchor="middle" fill="#231f20" stroke="#231f20" stroke-width="0.12">100</text>
<line x1="398.50" y1="896.30" x2="398.50" y2="898.30" stroke="#555" stroke-width="0.7"/>
<line x1="422.00" y1="896.30" x2="422.00" y2="899.10" stroke="#555" stroke-width="0.7"/>
<text x="422.00" y="908.80" font-size="8" text-anchor="middle" fill="#231f20" stroke="#231f20" stroke-width="0.12">200</text>
<line x1="445.50" y1="896.30" x2="445.50" y2="898.30" stroke="#555" stroke-width="0.7"/>
<line x1="469.00" y1="896.30" x2="469.00" y2="899.10" stroke="#555" stroke-width="0.7"/>
<text x="469.00" y="908.80" font-size="8" text-anchor="middle" fill="#231f20" stroke="#231f20" stroke-width="0.12">300</text>
<text x="400.20" y="922.60" font-size="7.8" text-anchor="middle" fill="#231f20" stroke="#231f20" stroke-width="0.12">Days posttreatment initiation</text>
<text x="305.80" y="841.00" font-size="8" text-anchor="middle" fill="#231f20" stroke="#231f20" stroke-width="0.12" transform="rotate(-90 305.80 841.00)">Percent survival</text>
<path d="M328.00 785.50 L352.50 785.50 L352.50 790.50 L355.50 790.50 L355.50 795.00 L367.50 795.00 L367.50 801.25 L375.00 801.25 L375.00 809.50 L383.75 809.50 L383.75 817.00 L408.75 817.00 L408.75 825.50 L412.00 825.50 L412.00 841.25 L431.25 841.25 L431.25 847.50 L434.50 847.50 L434.50 857.00 L445.50 857.00 L445.50 866.25 L448.75 866.25 L448.75 880.00 L457.00 880.00 L457.00 896.25" fill="none" stroke="#f0902a" stroke-width="0.9"/>
<path d="M328.00 785.50 L364.50 785.50 L364.50 793.75 L366.25 793.75 L366.25 798.75 L369.50 798.75 L369.50 802.00 L375.00 802.00 L375.00 814.50 L378.00 814.50 L378.00 830.00 L390.00 830.00 L390.00 835.00 L393.00 835.00 L393.00 848.00 L397.50 848.00 L397.50 863.75 L407.50 863.75 L407.50 880.00 L410.50 880.00 L410.50 896.25" fill="none" stroke="#4cc0dc" stroke-width="0.9" stroke-linejoin="miter"/>
<path d="M328.00 785.50 L335.00 785.50 L335.00 790.50 L353.75 790.50 L353.75 795.00 L362.50 795.00 L362.50 807.50 L364.50 807.50 L364.50 812.50 L372.50 812.50 L372.50 815.75 L374.50 815.75 L374.50 823.25 L387.50 823.25 L387.50 830.00 L388.75 830.00 L388.75 837.00 L399.25 837.00 L399.25 844.25 L411.25 844.25 L411.25 857.00 L415.00 857.00 L415.00 870.75 L422.00 870.75 L422.00 883.00" fill="none" stroke="#d8243c" stroke-width="0.9" stroke-linejoin="miter"/>
<circle cx="422.00" cy="883.00" r="1.2" fill="#5a1020"/>
<path d="M328 785.5 H469.5" fill="none" stroke="#3a5aa8" stroke-width="1.0"/>
<path d="M410.5 785.5 V800.6 H414.6" fill="none" stroke="#b060c0" stroke-width="0.9"/>
<line x1="414.40" y1="799.20" x2="414.40" y2="801.60" stroke="#b060c0" stroke-width="0.8"/>
<rect x="353.05" y="788.60" width="1.40" height="1.80" fill="#111"/>
<rect x="365.05" y="796.10" width="1.40" height="1.80" fill="#111"/>
<rect x="371.80" y="814.85" width="1.40" height="1.80" fill="#111"/>
<rect x="388.05" y="835.35" width="1.40" height="1.80" fill="#111"/>
<rect x="404.80" y="842.35" width="1.40" height="1.80" fill="#111"/>
<line x1="422.00" y1="791.50" x2="433.80" y2="791.50" stroke="#3a5aa8" stroke-width="0.9"/>
<rect x="427.30" y="790.40" width="1.30" height="1.90" fill="#111"/>
<text x="436.30" y="794.30" font-size="7.5" fill="#231f20" stroke="#231f20" stroke-width="0.12">POM + G781 hd</text>
<line x1="422.00" y1="800.60" x2="433.80" y2="800.60" stroke="#b060c0" stroke-width="0.9"/>
<rect x="427.30" y="799.50" width="1.30" height="1.90" fill="#111"/>
<text x="436.30" y="803.40" font-size="7.5" fill="#231f20" stroke="#231f20" stroke-width="0.12">POM + G781 ld</text>
<line x1="422.00" y1="810.20" x2="433.80" y2="810.20" stroke="#f0902a" stroke-width="0.9"/>
<rect x="427.30" y="809.10" width="1.30" height="1.90" fill="#f0902a"/>
<text x="436.30" y="813.00" font-size="7.5" fill="#231f20" stroke="#231f20" stroke-width="0.12">G781</text>
<line x1="422.00" y1="819.70" x2="433.80" y2="819.70" stroke="#4cc0dc" stroke-width="0.9"/>
<rect x="427.30" y="818.60" width="1.30" height="1.90" fill="#111"/>
<text x="436.30" y="822.50" font-size="7.5" fill="#231f20" stroke="#231f20" stroke-width="0.12">POM + DEX</text>
<line x1="422.00" y1="829.20" x2="433.80" y2="829.20" stroke="#d8243c" stroke-width="0.9"/>
<rect x="427.30" y="828.10" width="1.30" height="1.90" fill="#111"/>
<text x="436.30" y="832.00" font-size="7.5" fill="#231f20" stroke="#231f20" stroke-width="0.12">Vehicle</text>
<path d="M492.8 788.6 H496.4 M494.6 788.6 V802.9 M492.8 802.9 H496.4" fill="none" stroke="#444" stroke-width="0.7"/>
<text x="496.90" y="798.00" font-size="7.8" fill="#231f20" stroke="#231f20" stroke-width="0.12">ns</text>
<path d="M503.8 788.6 H507.6 M505.7 788.6 V830.5 M503.8 809.7 H507.6 M503.8 830.5 H507.6" fill="none" stroke="#444" stroke-width="0.7"/>
<text x="515.40" y="800.89" font-size="8.2" text-anchor="middle" font-weight="bold" fill="#111" stroke="#111" stroke-width="0.12" letter-spacing="1.6">***</text>
<text x="508.20" y="821.30" font-size="7.8" fill="#231f20" stroke="#231f20" stroke-width="0.12">ns</text>
<text x="1.80" y="968.30" font-size="9.5" font-weight="bold" fill="#000" stroke="#000" stroke-width="0.12">J</text>
<line x1="59.30" y1="979.00" x2="59.30" y2="1063.30" stroke="#555" stroke-width="0.7"/>
<line x1="59.00" y1="1063.30" x2="140.20" y2="1063.30" stroke="#555" stroke-width="0.7"/>
<line x1="56.70" y1="979.30" x2="59.30" y2="979.30" stroke="#555" stroke-width="0.7"/>
<text x="53.80" y="982.20" font-size="8" text-anchor="end" fill="#231f20" stroke="#231f20" stroke-width="0.12">30</text>
<line x1="56.70" y1="1007.30" x2="59.30" y2="1007.30" stroke="#555" stroke-width="0.7"/>
<text x="53.80" y="1010.20" font-size="8" text-anchor="end" fill="#231f20" stroke="#231f20" stroke-width="0.12">20</text>
<line x1="56.70" y1="1035.30" x2="59.30" y2="1035.30" stroke="#555" stroke-width="0.7"/>
<text x="53.80" y="1038.20" font-size="8" text-anchor="end" fill="#231f20" stroke="#231f20" stroke-width="0.12">10</text>
<line x1="56.70" y1="1063.30" x2="59.30" y2="1063.30" stroke="#555" stroke-width="0.7"/>
<text x="53.80" y="1066.20" font-size="8" text-anchor="end" fill="#231f20" stroke="#231f20" stroke-width="0.12">0</text>
<text x="92.00" y="977.60" font-size="8" fill="#231f20" stroke="#231f20" stroke-width="0.12">WBC</text>
<rect x="63.00" y="1015.00" width="9.20" height="48.30" fill="#8f9fdc" stroke="#3648b0" stroke-width="0.4"/>
<line x1="67.60" y1="1063.30" x2="67.60" y2="1065.90" stroke="#555" stroke-width="0.7"/>
<text x="70.80" y="1069.90" font-size="7.8" text-anchor="end" fill="#231f20" stroke="#231f20" stroke-width="0.12" transform="rotate(-45 70.80 1069.90)">Day 0</text>
<rect x="76.30" y="1050.00" width="9.20" height="13.30" fill="#f28d7a" stroke="#e02a20" stroke-width="0.4"/>
<line x1="80.90" y1="1063.30" x2="80.90" y2="1065.90" stroke="#555" stroke-width="0.7"/>
<text x="84.10" y="1069.90" font-size="7.8" text-anchor="end" fill="#231f20" stroke="#231f20" stroke-width="0.12" transform="rotate(-45 84.10 1069.90)">G781 15 mpk</text>
<rect x="89.60" y="1042.00" width="9.20" height="21.30" fill="#86d286" stroke="#2ea02e" stroke-width="0.4"/>
<line x1="94.20" y1="1063.30" x2="94.20" y2="1065.90" stroke="#555" stroke-width="0.7"/>
<text x="97.40" y="1069.90" font-size="7.8" text-anchor="end" fill="#231f20" stroke="#231f20" stroke-width="0.12" transform="rotate(-45 97.40 1069.90)">G781 7.5 mpk</text>
<rect x="102.90" y="1016.30" width="9.20" height="47.00" fill="#c496dc" stroke="#7030a0" stroke-width="0.4"/>
<line x1="107.50" y1="1063.30" x2="107.50" y2="1065.90" stroke="#555" stroke-width="0.7"/>
<text x="110.70" y="1069.90" font-size="7.8" text-anchor="end" fill="#231f20" stroke="#231f20" stroke-width="0.12" transform="rotate(-45 110.70 1069.90)">G781 3.75 mpk</text>
<rect x="116.20" y="1014.50" width="9.20" height="48.80" fill="#ffc070" stroke="#f28410" stroke-width="0.4"/>
<line x1="120.80" y1="1063.30" x2="120.80" y2="1065.90" stroke="#555" stroke-width="0.7"/>
<text x="124.00" y="1069.90" font-size="7.8" text-anchor="end" fill="#231f20" stroke="#231f20" stroke-width="0.12" transform="rotate(-45 124.00 1069.90)">POM 5 mpk</text>
<rect x="129.50" y="1029.40" width="9.20" height="33.90" fill="#8e8e8e" stroke="#111111" stroke-width="0.4"/>
<line x1="134.10" y1="1063.30" x2="134.10" y2="1065.90" stroke="#555" stroke-width="0.7"/>
<text x="137.30" y="1069.90" font-size="7.8" text-anchor="end" fill="#231f20" stroke="#231f20" stroke-width="0.12" transform="rotate(-45 137.30 1069.90)">G781 3.75 + POM 5</text>
<line x1="67.60" y1="1003.80" x2="67.60" y2="1026.00" stroke="#3648b0" stroke-width="0.6"/>
<line x1="65.60" y1="1003.80" x2="69.60" y2="1003.80" stroke="#3648b0" stroke-width="0.6"/>
<line x1="65.60" y1="1026.00" x2="69.60" y2="1026.00" stroke="#3648b0" stroke-width="0.6"/>
<line x1="80.90" y1="1037.00" x2="80.90" y2="1063.00" stroke="#e02a20" stroke-width="0.6"/>
<line x1="78.90" y1="1037.00" x2="82.90" y2="1037.00" stroke="#e02a20" stroke-width="0.6"/>
<line x1="78.90" y1="1063.00" x2="82.90" y2="1063.00" stroke="#e02a20" stroke-width="0.6"/>
<line x1="107.50" y1="1008.50" x2="107.50" y2="1024.00" stroke="#7030a0" stroke-width="0.6"/>
<line x1="105.50" y1="1008.50" x2="109.50" y2="1008.50" stroke="#7030a0" stroke-width="0.6"/>
<line x1="105.50" y1="1024.00" x2="109.50" y2="1024.00" stroke="#7030a0" stroke-width="0.6"/>
<line x1="120.80" y1="1010.50" x2="120.80" y2="1018.50" stroke="#f28410" stroke-width="0.6"/>
<line x1="118.80" y1="1010.50" x2="122.80" y2="1010.50" stroke="#f28410" stroke-width="0.6"/>
<line x1="118.80" y1="1018.50" x2="122.80" y2="1018.50" stroke="#f28410" stroke-width="0.6"/>
<line x1="134.10" y1="1024.00" x2="134.10" y2="1034.50" stroke="#111111" stroke-width="0.6"/>
<line x1="132.10" y1="1024.00" x2="136.10" y2="1024.00" stroke="#111111" stroke-width="0.6"/>
<line x1="132.10" y1="1034.50" x2="136.10" y2="1034.50" stroke="#111111" stroke-width="0.6"/>
<circle cx="67.90" cy="984.50" r="1.6" fill="#3648b0"/>
<circle cx="66.82" cy="998.58" r="1.6" fill="#3648b0"/>
<circle cx="68.26" cy="1000.30" r="1.6" fill="#3648b0"/>
<circle cx="67.76" cy="1002.46" r="1.6" fill="#3648b0"/>
<circle cx="65.66" cy="1004.44" r="1.6" fill="#3648b0"/>
<circle cx="65.56" cy="1006.16" r="1.6" fill="#3648b0"/>
<circle cx="65.71" cy="1007.56" r="1.6" fill="#3648b0"/>
<circle cx="67.27" cy="1010.25" r="1.6" fill="#3648b0"/>
<circle cx="65.94" cy="1011.33" r="1.6" fill="#3648b0"/>
<circle cx="68.16" cy="1014.01" r="1.6" fill="#3648b0"/>
<circle cx="67.94" cy="1015.16" r="1.6" fill="#3648b0"/>
<circle cx="69.70" cy="1016.55" r="1.6" fill="#3648b0"/>
<circle cx="69.18" cy="1018.65" r="1.6" fill="#3648b0"/>
<circle cx="66.03" cy="1020.26" r="1.6" fill="#3648b0"/>
<circle cx="66.76" cy="1022.90" r="1.6" fill="#3648b0"/>
<circle cx="66.20" cy="1024.43" r="1.6" fill="#3648b0"/>
<circle cx="68.21" cy="1025.99" r="1.6" fill="#3648b0"/>
<circle cx="67.81" cy="1027.43" r="1.6" fill="#3648b0"/>
<circle cx="65.66" cy="1029.41" r="1.6" fill="#3648b0"/>
<circle cx="68.39" cy="1031.48" r="1.6" fill="#3648b0"/>
<circle cx="66.78" cy="1033.48" r="1.6" fill="#3648b0"/>
<circle cx="67.39" cy="1034.95" r="1.6" fill="#3648b0"/>
<circle cx="68.90" cy="1037.24" r="1.6" fill="#3648b0"/>
<circle cx="80.90" cy="1041.00" r="1.6" fill="#e02a20"/>
<circle cx="81.30" cy="1059.50" r="1.6" fill="#e02a20"/>
<circle cx="92.60" cy="1042.60" r="1.6" fill="#2ea02e"/>
<circle cx="96.00" cy="1041.40" r="1.6" fill="#2ea02e"/>
<circle cx="107.50" cy="1003.00" r="1.6" fill="#7030a0"/>
<circle cx="106.17" cy="1010.09" r="1.6" fill="#7030a0"/>
<circle cx="107.63" cy="1012.78" r="1.6" fill="#7030a0"/>
<circle cx="108.69" cy="1014.41" r="1.6" fill="#7030a0"/>
<circle cx="110.00" cy="1016.54" r="1.6" fill="#7030a0"/>
<circle cx="107.07" cy="1019.64" r="1.6" fill="#7030a0"/>
<circle cx="105.69" cy="1021.65" r="1.6" fill="#7030a0"/>
<circle cx="105.10" cy="1024.20" r="1.6" fill="#7030a0"/>
<circle cx="118.40" cy="1012.00" r="1.6" fill="#f28410"/>
<circle cx="120.40" cy="1010.00" r="1.6" fill="#f28410"/>
<circle cx="123.00" cy="1011.00" r="1.6" fill="#f28410"/>
<circle cx="119.00" cy="1016.50" r="1.6" fill="#f28410"/>
<circle cx="122.40" cy="1016.00" r="1.6" fill="#f28410"/>
<circle cx="121.00" cy="1019.00" r="1.6" fill="#f28410"/>
<circle cx="132.50" cy="1022.50" r="1.6" fill="#111111"/>
<circle cx="135.70" cy="1023.50" r="1.6" fill="#111111"/>
<circle cx="131.50" cy="1028.50" r="1.6" fill="#111111"/>
<circle cx="136.50" cy="1027.50" r="1.6" fill="#111111"/>
<circle cx="134.10" cy="1032.50" r="1.6" fill="#111111"/>
<line x1="67.60" y1="969.30" x2="80.40" y2="969.30" stroke="#666" stroke-width="0.7"/>
<line x1="67.60" y1="967.90" x2="67.60" y2="970.70" stroke="#666" stroke-width="0.7"/>
<line x1="80.40" y1="967.90" x2="80.40" y2="970.70" stroke="#666" stroke-width="0.7"/>
<text x="74.65" y="968.59" font-size="8.2" text-anchor="middle" font-weight="bold" fill="#111" stroke="#111" stroke-width="0.12" letter-spacing="1.1">***</text>
<line x1="67.60" y1="978.90" x2="90.10" y2="978.90" stroke="#666" stroke-width="0.7"/>
<line x1="67.60" y1="977.50" x2="67.60" y2="980.30" stroke="#666" stroke-width="0.7"/>
<line x1="90.10" y1="977.50" x2="90.10" y2="980.30" stroke="#666" stroke-width="0.7"/>
<text x="79.65" y="978.19" font-size="8.2" text-anchor="middle" font-weight="bold" fill="#111" stroke="#111" stroke-width="0.12" letter-spacing="1.1">**</text>
<line x1="168.00" y1="979.30" x2="168.00" y2="1064.20" stroke="#555" stroke-width="0.7"/>
<line x1="167.70" y1="1064.20" x2="246.60" y2="1064.20" stroke="#555" stroke-width="0.7"/>
<line x1="165.40" y1="979.60" x2="168.00" y2="979.60" stroke="#555" stroke-width="0.7"/>
<text x="160.50" y="982.50" font-size="8" text-anchor="end" fill="#231f20" stroke="#231f20" stroke-width="0.12">30</text>
<line x1="165.40" y1="1007.80" x2="168.00" y2="1007.80" stroke="#555" stroke-width="0.7"/>
<text x="160.50" y="1010.70" font-size="8" text-anchor="end" fill="#231f20" stroke="#231f20" stroke-width="0.12">20</text>
<line x1="165.40" y1="1036.00" x2="168.00" y2="1036.00" stroke="#555" stroke-width="0.7"/>
<text x="160.50" y="1038.90" font-size="8" text-anchor="end" fill="#231f20" stroke="#231f20" stroke-width="0.12">10</text>
<line x1="165.40" y1="1064.20" x2="168.00" y2="1064.20" stroke="#555" stroke-width="0.7"/>
<text x="160.50" y="1067.10" font-size="8" text-anchor="end" fill="#231f20" stroke="#231f20" stroke-width="0.12">0</text>
<text x="200.20" y="977.80" font-size="8" fill="#231f20" stroke="#231f20" stroke-width="0.12">LYM</text>
<rect x="171.00" y="1028.60" width="8.90" height="35.60" fill="#8f9fdc" stroke="#3648b0" stroke-width="0.4"/>
<line x1="175.45" y1="1064.20" x2="175.45" y2="1066.80" stroke="#555" stroke-width="0.7"/>
<text x="178.65" y="1070.80" font-size="7.8" text-anchor="end" fill="#231f20" stroke="#231f20" stroke-width="0.12" transform="rotate(-45 178.65 1070.80)">Day 0</text>
<rect x="184.02" y="1057.20" width="8.90" height="7.00" fill="#f28d7a" stroke="#e02a20" stroke-width="0.4"/>
<line x1="188.47" y1="1064.20" x2="188.47" y2="1066.80" stroke="#555" stroke-width="0.7"/>
<text x="191.67" y="1070.80" font-size="7.8" text-anchor="end" fill="#231f20" stroke="#231f20" stroke-width="0.12" transform="rotate(-45 191.67 1070.80)">G781 15 mpk</text>
<rect x="197.04" y="1053.10" width="8.90" height="11.10" fill="#86d286" stroke="#2ea02e" stroke-width="0.4"/>
<line x1="201.49" y1="1064.20" x2="201.49" y2="1066.80" stroke="#555" stroke-width="0.7"/>
<text x="204.69" y="1070.80" font-size="7.8" text-anchor="end" fill="#231f20" stroke="#231f20" stroke-width="0.12" transform="rotate(-45 204.69 1070.80)">G781 7.5 mpk</text>
<rect x="210.06" y="1034.80" width="8.90" height="29.40" fill="#c496dc" stroke="#7030a0" stroke-width="0.4"/>
<line x1="214.51" y1="1064.20" x2="214.51" y2="1066.80" stroke="#555" stroke-width="0.7"/>
<text x="217.71" y="1070.80" font-size="7.8" text-anchor="end" fill="#231f20" stroke="#231f20" stroke-width="0.12" transform="rotate(-45 217.71 1070.80)">G781 3.75 mpk</text>
<rect x="223.08" y="1034.00" width="8.90" height="30.20" fill="#ffc070" stroke="#f28410" stroke-width="0.4"/>
<line x1="227.53" y1="1064.20" x2="227.53" y2="1066.80" stroke="#555" stroke-width="0.7"/>
<text x="230.73" y="1070.80" font-size="7.8" text-anchor="end" fill="#231f20" stroke="#231f20" stroke-width="0.12" transform="rotate(-45 230.73 1070.80)">POM 5 mpk</text>
<rect x="236.10" y="1042.90" width="8.90" height="21.30" fill="#8e8e8e" stroke="#111111" stroke-width="0.4"/>
<line x1="240.55" y1="1064.20" x2="240.55" y2="1066.80" stroke="#555" stroke-width="0.7"/>
<text x="243.75" y="1070.80" font-size="7.8" text-anchor="end" fill="#231f20" stroke="#231f20" stroke-width="0.12" transform="rotate(-45 243.75 1070.80)">G781 3.75 + POM 5</text>
<line x1="175.45" y1="1019.50" x2="175.45" y2="1038.00" stroke="#3648b0" stroke-width="0.6"/>
<line x1="173.45" y1="1019.50" x2="177.45" y2="1019.50" stroke="#3648b0" stroke-width="0.6"/>
<line x1="173.45" y1="1038.00" x2="177.45" y2="1038.00" stroke="#3648b0" stroke-width="0.6"/>
<line x1="188.47" y1="1051.00" x2="188.47" y2="1063.50" stroke="#e02a20" stroke-width="0.6"/>
<line x1="186.47" y1="1051.00" x2="190.47" y2="1051.00" stroke="#e02a20" stroke-width="0.6"/>
<line x1="186.47" y1="1063.50" x2="190.47" y2="1063.50" stroke="#e02a20" stroke-width="0.6"/>
<line x1="214.51" y1="1025.50" x2="214.51" y2="1044.50" stroke="#7030a0" stroke-width="0.6"/>
<line x1="212.51" y1="1025.50" x2="216.51" y2="1025.50" stroke="#7030a0" stroke-width="0.6"/>
<line x1="212.51" y1="1044.50" x2="216.51" y2="1044.50" stroke="#7030a0" stroke-width="0.6"/>
<line x1="227.53" y1="1031.00" x2="227.53" y2="1037.00" stroke="#f28410" stroke-width="0.6"/>
<line x1="225.53" y1="1031.00" x2="229.53" y2="1031.00" stroke="#f28410" stroke-width="0.6"/>
<line x1="225.53" y1="1037.00" x2="229.53" y2="1037.00" stroke="#f28410" stroke-width="0.6"/>
<line x1="240.55" y1="1040.00" x2="240.55" y2="1045.50" stroke="#111111" stroke-width="0.6"/>
<line x1="238.55" y1="1040.00" x2="242.55" y2="1040.00" stroke="#111111" stroke-width="0.6"/>
<line x1="238.55" y1="1045.50" x2="242.55" y2="1045.50" stroke="#111111" stroke-width="0.6"/>
<circle cx="174.65" cy="1001.20" r="1.6" fill="#3648b0"/>
<circle cx="176.61" cy="1019.09" r="1.6" fill="#3648b0"/>
<circle cx="177.10" cy="1020.20" r="1.6" fill="#3648b0"/>
<circle cx="176.31" cy="1021.96" r="1.6" fill="#3648b0"/>
<circle cx="175.80" cy="1023.21" r="1.6" fill="#3648b0"/>
<circle cx="176.95" cy="1025.22" r="1.6" fill="#3648b0"/>
<circle cx="175.34" cy="1026.30" r="1.6" fill="#3648b0"/>
<circle cx="173.52" cy="1027.77" r="1.6" fill="#3648b0"/>
<circle cx="176.10" cy="1029.54" r="1.6" fill="#3648b0"/>
<circle cx="176.87" cy="1030.11" r="1.6" fill="#3648b0"/>
<circle cx="174.95" cy="1031.99" r="1.6" fill="#3648b0"/>
<circle cx="173.35" cy="1033.16" r="1.6" fill="#3648b0"/>
<circle cx="173.99" cy="1034.17" r="1.6" fill="#3648b0"/>
<circle cx="173.51" cy="1036.37" r="1.6" fill="#3648b0"/>
<circle cx="173.82" cy="1037.17" r="1.6" fill="#3648b0"/>
<circle cx="174.97" cy="1039.34" r="1.6" fill="#3648b0"/>
<circle cx="173.60" cy="1040.25" r="1.6" fill="#3648b0"/>
<circle cx="175.67" cy="1042.20" r="1.6" fill="#3648b0"/>
<circle cx="176.85" cy="1043.59" r="1.6" fill="#3648b0"/>
<circle cx="174.48" cy="1044.48" r="1.6" fill="#3648b0"/>
<circle cx="174.83" cy="1046.46" r="1.6" fill="#3648b0"/>
<circle cx="188.47" cy="1051.80" r="1.6" fill="#e02a20"/>
<circle cx="188.77" cy="1061.50" r="1.6" fill="#e02a20"/>
<circle cx="199.69" cy="1053.60" r="1.6" fill="#2ea02e"/>
<circle cx="203.29" cy="1051.40" r="1.6" fill="#2ea02e"/>
<circle cx="214.51" cy="1022.50" r="1.6" fill="#7030a0"/>
<circle cx="212.71" cy="1028.00" r="1.6" fill="#7030a0"/>
<circle cx="216.11" cy="1029.50" r="1.6" fill="#7030a0"/>
<circle cx="214.51" cy="1034.00" r="1.6" fill="#7030a0"/>
<circle cx="212.51" cy="1037.00" r="1.6" fill="#7030a0"/>
<circle cx="216.31" cy="1038.50" r="1.6" fill="#7030a0"/>
<circle cx="214.51" cy="1044.00" r="1.6" fill="#7030a0"/>
<circle cx="214.51" cy="1050.50" r="1.6" fill="#7030a0"/>
<circle cx="225.33" cy="1031.50" r="1.6" fill="#f28410"/>
<circle cx="227.53" cy="1033.00" r="1.6" fill="#f28410"/>
<circle cx="229.73" cy="1034.00" r="1.6" fill="#f28410"/>
<circle cx="226.33" cy="1036.50" r="1.6" fill="#f28410"/>
<circle cx="228.93" cy="1037.00" r="1.6" fill="#f28410"/>
<circle cx="227.53" cy="1039.50" r="1.6" fill="#f28410"/>
<circle cx="238.15" cy="1040.50" r="1.6" fill="#111111"/>
<circle cx="240.55" cy="1040.00" r="1.6" fill="#111111"/>
<circle cx="242.95" cy="1041.00" r="1.6" fill="#111111"/>
<circle cx="239.15" cy="1044.00" r="1.6" fill="#111111"/>
<circle cx="241.95" cy="1044.50" r="1.6" fill="#111111"/>
<line x1="175.20" y1="986.30" x2="187.30" y2="986.30" stroke="#666" stroke-width="0.7"/>
<line x1="175.20" y1="984.90" x2="175.20" y2="987.70" stroke="#666" stroke-width="0.7"/>
<line x1="187.30" y1="984.90" x2="187.30" y2="987.70" stroke="#666" stroke-width="0.7"/>
<text x="181.80" y="985.59" font-size="8.2" text-anchor="middle" font-weight="bold" fill="#111" stroke="#111" stroke-width="0.12" letter-spacing="1.1">***</text>
<line x1="175.20" y1="995.80" x2="197.30" y2="995.80" stroke="#666" stroke-width="0.7"/>
<line x1="175.20" y1="994.40" x2="175.20" y2="997.20" stroke="#666" stroke-width="0.7"/>
<line x1="197.30" y1="994.40" x2="197.30" y2="997.20" stroke="#666" stroke-width="0.7"/>
<text x="186.80" y="995.09" font-size="8.2" text-anchor="middle" font-weight="bold" fill="#111" stroke="#111" stroke-width="0.12" letter-spacing="1.1">**</text>
<line x1="277.80" y1="979.90" x2="277.80" y2="1064.20" stroke="#555" stroke-width="0.7"/>
<line x1="277.50" y1="1064.20" x2="359.20" y2="1064.20" stroke="#555" stroke-width="0.7"/>
<line x1="275.20" y1="980.20" x2="277.80" y2="980.20" stroke="#555" stroke-width="0.7"/>
<text x="273.00" y="983.10" font-size="8" text-anchor="end" fill="#231f20" stroke="#231f20" stroke-width="0.12">2.0</text>
<line x1="275.20" y1="1001.20" x2="277.80" y2="1001.20" stroke="#555" stroke-width="0.7"/>
<text x="273.00" y="1004.10" font-size="8" text-anchor="end" fill="#231f20" stroke="#231f20" stroke-width="0.12">1.5</text>
<line x1="275.20" y1="1022.20" x2="277.80" y2="1022.20" stroke="#555" stroke-width="0.7"/>
<text x="273.00" y="1025.10" font-size="8" text-anchor="end" fill="#231f20" stroke="#231f20" stroke-width="0.12">1.0</text>
<line x1="275.20" y1="1043.20" x2="277.80" y2="1043.20" stroke="#555" stroke-width="0.7"/>
<text x="273.00" y="1046.10" font-size="8" text-anchor="end" fill="#231f20" stroke="#231f20" stroke-width="0.12">0.5</text>
<line x1="275.20" y1="1064.20" x2="277.80" y2="1064.20" stroke="#555" stroke-width="0.7"/>
<text x="273.00" y="1067.10" font-size="8" text-anchor="end" fill="#231f20" stroke="#231f20" stroke-width="0.12">0.0</text>
<text x="312.50" y="977.80" font-size="8" fill="#231f20" stroke="#231f20" stroke-width="0.12">MON</text>
<rect x="282.30" y="1020.50" width="8.90" height="43.70" fill="#8f9fdc" stroke="#3648b0" stroke-width="0.4"/>
<line x1="286.75" y1="1064.20" x2="286.75" y2="1066.80" stroke="#555" stroke-width="0.7"/>
<text x="289.95" y="1070.80" font-size="7.8" text-anchor="end" fill="#231f20" stroke="#231f20" stroke-width="0.12" transform="rotate(-45 289.95 1070.80)">Day 0</text>
<rect x="295.67" y="1043.40" width="8.90" height="20.80" fill="#f28d7a" stroke="#e02a20" stroke-width="0.4"/>
<line x1="300.12" y1="1064.20" x2="300.12" y2="1066.80" stroke="#555" stroke-width="0.7"/>
<text x="303.32" y="1070.80" font-size="7.8" text-anchor="end" fill="#231f20" stroke="#231f20" stroke-width="0.12" transform="rotate(-45 303.32 1070.80)">G781 15 mpk</text>
<rect x="309.04" y="1028.60" width="8.90" height="35.60" fill="#86d286" stroke="#2ea02e" stroke-width="0.4"/>
<line x1="313.49" y1="1064.20" x2="313.49" y2="1066.80" stroke="#555" stroke-width="0.7"/>
<text x="316.69" y="1070.80" font-size="7.8" text-anchor="end" fill="#231f20" stroke="#231f20" stroke-width="0.12" transform="rotate(-45 316.69 1070.80)">G781 7.5 mpk</text>
<rect x="322.41" y="1016.00" width="8.90" height="48.20" fill="#c496dc" stroke="#7030a0" stroke-width="0.4"/>
<line x1="326.86" y1="1064.20" x2="326.86" y2="1066.80" stroke="#555" stroke-width="0.7"/>
<text x="330.06" y="1070.80" font-size="7.8" text-anchor="end" fill="#231f20" stroke="#231f20" stroke-width="0.12" transform="rotate(-45 330.06 1070.80)">G781 3.75 mpk</text>
<rect x="335.78" y="1007.90" width="8.90" height="56.30" fill="#ffc070" stroke="#f28410" stroke-width="0.4"/>
<line x1="340.23" y1="1064.20" x2="340.23" y2="1066.80" stroke="#555" stroke-width="0.7"/>
<text x="343.43" y="1070.80" font-size="7.8" text-anchor="end" fill="#231f20" stroke="#231f20" stroke-width="0.12" transform="rotate(-45 343.43 1070.80)">POM 5 mpk</text>
<rect x="349.15" y="1022.70" width="8.90" height="41.50" fill="#8e8e8e" stroke="#111111" stroke-width="0.4"/>
<line x1="353.60" y1="1064.20" x2="353.60" y2="1066.80" stroke="#555" stroke-width="0.7"/>
<text x="356.80" y="1070.80" font-size="7.8" text-anchor="end" fill="#231f20" stroke="#231f20" stroke-width="0.12" transform="rotate(-45 356.80 1070.80)">G781 3.75 + POM 5</text>
<line x1="286.75" y1="1010.00" x2="286.75" y2="1031.00" stroke="#3648b0" stroke-width="0.6"/>
<line x1="284.75" y1="1010.00" x2="288.75" y2="1010.00" stroke="#3648b0" stroke-width="0.6"/>
<line x1="284.75" y1="1031.00" x2="288.75" y2="1031.00" stroke="#3648b0" stroke-width="0.6"/>
<line x1="300.12" y1="1025.40" x2="300.12" y2="1057.70" stroke="#e02a20" stroke-width="0.6"/>
<line x1="298.12" y1="1025.40" x2="302.12" y2="1025.40" stroke="#e02a20" stroke-width="0.6"/>
<line x1="298.12" y1="1057.70" x2="302.12" y2="1057.70" stroke="#e02a20" stroke-width="0.6"/>
<line x1="313.49" y1="1025.50" x2="313.49" y2="1031.50" stroke="#2ea02e" stroke-width="0.6"/>
<line x1="311.49" y1="1025.50" x2="315.49" y2="1025.50" stroke="#2ea02e" stroke-width="0.6"/>
<line x1="311.49" y1="1031.50" x2="315.49" y2="1031.50" stroke="#2ea02e" stroke-width="0.6"/>
<line x1="326.86" y1="1011.00" x2="326.86" y2="1021.50" stroke="#7030a0" stroke-width="0.6"/>
<line x1="324.86" y1="1011.00" x2="328.86" y2="1011.00" stroke="#7030a0" stroke-width="0.6"/>
<line x1="324.86" y1="1021.50" x2="328.86" y2="1021.50" stroke="#7030a0" stroke-width="0.6"/>
<line x1="340.23" y1="1004.00" x2="340.23" y2="1012.00" stroke="#f28410" stroke-width="0.6"/>
<line x1="338.23" y1="1004.00" x2="342.23" y2="1004.00" stroke="#f28410" stroke-width="0.6"/>
<line x1="338.23" y1="1012.00" x2="342.23" y2="1012.00" stroke="#f28410" stroke-width="0.6"/>
<line x1="353.60" y1="1016.50" x2="353.60" y2="1029.00" stroke="#111111" stroke-width="0.6"/>
<line x1="351.60" y1="1016.50" x2="355.60" y2="1016.50" stroke="#111111" stroke-width="0.6"/>
<line x1="351.60" y1="1029.00" x2="355.60" y2="1029.00" stroke="#111111" stroke-width="0.6"/>
<circle cx="286.75" cy="1005.00" r="1.6" fill="#3648b0"/>
<circle cx="286.75" cy="1009.50" r="1.6" fill="#3648b0"/>
<circle cx="288.76" cy="1013.58" r="1.6" fill="#3648b0"/>
<circle cx="285.33" cy="1015.15" r="1.6" fill="#3648b0"/>
<circle cx="285.58" cy="1016.92" r="1.6" fill="#3648b0"/>
<circle cx="287.14" cy="1018.13" r="1.6" fill="#3648b0"/>
<circle cx="284.57" cy="1019.79" r="1.6" fill="#3648b0"/>
<circle cx="286.17" cy="1021.43" r="1.6" fill="#3648b0"/>
<circle cx="288.74" cy="1023.05" r="1.6" fill="#3648b0"/>
<circle cx="286.82" cy="1024.44" r="1.6" fill="#3648b0"/>
<circle cx="287.53" cy="1025.23" r="1.6" fill="#3648b0"/>
<circle cx="288.51" cy="1027.57" r="1.6" fill="#3648b0"/>
<circle cx="288.40" cy="1029.06" r="1.6" fill="#3648b0"/>
<circle cx="286.28" cy="1030.06" r="1.6" fill="#3648b0"/>
<circle cx="285.01" cy="1031.81" r="1.6" fill="#3648b0"/>
<circle cx="284.82" cy="1032.60" r="1.6" fill="#3648b0"/>
<circle cx="285.47" cy="1034.18" r="1.6" fill="#3648b0"/>
<circle cx="286.05" cy="1035.52" r="1.6" fill="#3648b0"/>
<circle cx="284.55" cy="1037.11" r="1.6" fill="#3648b0"/>
<circle cx="285.00" cy="1038.84" r="1.6" fill="#3648b0"/>
<circle cx="300.12" cy="1030.00" r="1.6" fill="#e02a20"/>
<circle cx="300.32" cy="1055.80" r="1.6" fill="#e02a20"/>
<circle cx="312.09" cy="1027.00" r="1.6" fill="#2ea02e"/>
<circle cx="314.89" cy="1030.50" r="1.6" fill="#2ea02e"/>
<circle cx="326.86" cy="1009.50" r="1.6" fill="#7030a0"/>
<circle cx="325.06" cy="1013.50" r="1.6" fill="#7030a0"/>
<circle cx="328.66" cy="1013.50" r="1.6" fill="#7030a0"/>
<circle cx="326.86" cy="1017.00" r="1.6" fill="#7030a0"/>
<circle cx="325.26" cy="1019.50" r="1.6" fill="#7030a0"/>
<circle cx="328.46" cy="1020.00" r="1.6" fill="#7030a0"/>
<circle cx="326.86" cy="1026.00" r="1.6" fill="#7030a0"/>
<circle cx="338.03" cy="1004.50" r="1.6" fill="#f28410"/>
<circle cx="340.23" cy="1004.50" r="1.6" fill="#f28410"/>
<circle cx="342.43" cy="1005.00" r="1.6" fill="#f28410"/>
<circle cx="338.63" cy="1008.50" r="1.6" fill="#f28410"/>
<circle cx="341.83" cy="1009.00" r="1.6" fill="#f28410"/>
<circle cx="340.23" cy="1013.00" r="1.6" fill="#f28410"/>
<circle cx="351.80" cy="1017.50" r="1.6" fill="#111111"/>
<circle cx="355.60" cy="1017.50" r="1.6" fill="#111111"/>
<circle cx="352.20" cy="1022.50" r="1.6" fill="#111111"/>
<circle cx="355.00" cy="1023.00" r="1.6" fill="#111111"/>
<circle cx="353.60" cy="1027.50" r="1.6" fill="#111111"/>
<circle cx="353.60" cy="1030.50" r="1.6" fill="#111111"/>
<line x1="283.70" y1="995.80" x2="296.30" y2="995.80" stroke="#666" stroke-width="0.7"/>
<line x1="283.70" y1="994.40" x2="283.70" y2="997.20" stroke="#666" stroke-width="0.7"/>
<line x1="296.30" y1="994.40" x2="296.30" y2="997.20" stroke="#666" stroke-width="0.7"/>
<text x="290.55" y="995.09" font-size="8.2" text-anchor="middle" font-weight="bold" fill="#111" stroke="#111" stroke-width="0.12" letter-spacing="1.1">*</text>
<line x1="385.00" y1="979.30" x2="385.00" y2="1063.90" stroke="#555" stroke-width="0.7"/>
<line x1="384.70" y1="1063.90" x2="467.80" y2="1063.90" stroke="#555" stroke-width="0.7"/>
<line x1="382.40" y1="979.60" x2="385.00" y2="979.60" stroke="#555" stroke-width="0.7"/>
<text x="379.30" y="982.50" font-size="8" text-anchor="end" fill="#231f20" stroke="#231f20" stroke-width="0.12">10</text>
<line x1="382.40" y1="996.46" x2="385.00" y2="996.46" stroke="#555" stroke-width="0.7"/>
<text x="379.30" y="999.36" font-size="8" text-anchor="end" fill="#231f20" stroke="#231f20" stroke-width="0.12">8</text>
<line x1="382.40" y1="1013.32" x2="385.00" y2="1013.32" stroke="#555" stroke-width="0.7"/>
<text x="379.30" y="1016.22" font-size="8" text-anchor="end" fill="#231f20" stroke="#231f20" stroke-width="0.12">6</text>
<line x1="382.40" y1="1030.18" x2="385.00" y2="1030.18" stroke="#555" stroke-width="0.7"/>
<text x="379.30" y="1033.08" font-size="8" text-anchor="end" fill="#231f20" stroke="#231f20" stroke-width="0.12">4</text>
<line x1="382.40" y1="1047.04" x2="385.00" y2="1047.04" stroke="#555" stroke-width="0.7"/>
<text x="379.30" y="1049.94" font-size="8" text-anchor="end" fill="#231f20" stroke="#231f20" stroke-width="0.12">2</text>
<line x1="382.40" y1="1063.90" x2="385.00" y2="1063.90" stroke="#555" stroke-width="0.7"/>
<text x="379.30" y="1066.80" font-size="8" text-anchor="end" fill="#231f20" stroke="#231f20" stroke-width="0.12">0</text>
<text x="419.80" y="977.80" font-size="8" fill="#231f20" stroke="#231f20" stroke-width="0.12">NEU</text>
<rect x="389.60" y="1035.60" width="8.90" height="28.30" fill="#8f9fdc" stroke="#3648b0" stroke-width="0.4"/>
<line x1="394.05" y1="1063.90" x2="394.05" y2="1066.50" stroke="#555" stroke-width="0.7"/>
<text x="397.25" y="1070.50" font-size="7.8" text-anchor="end" fill="#231f20" stroke="#231f20" stroke-width="0.12" transform="rotate(-45 397.25 1070.50)">Day 0</text>
<rect x="402.97" y="1049.10" width="8.90" height="14.80" fill="#f28d7a" stroke="#e02a20" stroke-width="0.4"/>
<line x1="407.42" y1="1063.90" x2="407.42" y2="1066.50" stroke="#555" stroke-width="0.7"/>
<text x="410.62" y="1070.50" font-size="7.8" text-anchor="end" fill="#231f20" stroke="#231f20" stroke-width="0.12" transform="rotate(-45 410.62 1070.50)">G781 15 mpk</text>
<rect x="416.34" y="1042.90" width="8.90" height="21.00" fill="#86d286" stroke="#2ea02e" stroke-width="0.4"/>
<line x1="420.79" y1="1063.90" x2="420.79" y2="1066.50" stroke="#555" stroke-width="0.7"/>
<text x="423.99" y="1070.50" font-size="7.8" text-anchor="end" fill="#231f20" stroke="#231f20" stroke-width="0.12" transform="rotate(-45 423.99 1070.50)">G781 7.5 mpk</text>
<rect x="429.71" y="1021.40" width="8.90" height="42.50" fill="#c496dc" stroke="#7030a0" stroke-width="0.4"/>
<line x1="434.16" y1="1063.90" x2="434.16" y2="1066.50" stroke="#555" stroke-width="0.7"/>
<text x="437.36" y="1070.50" font-size="7.8" text-anchor="end" fill="#231f20" stroke="#231f20" stroke-width="0.12" transform="rotate(-45 437.36 1070.50)">G781 3.75 mpk</text>
<rect x="443.08" y="1021.40" width="8.90" height="42.50" fill="#ffc070" stroke="#f28410" stroke-width="0.4"/>
<line x1="447.53" y1="1063.90" x2="447.53" y2="1066.50" stroke="#555" stroke-width="0.7"/>
<text x="450.73" y="1070.50" font-size="7.8" text-anchor="end" fill="#231f20" stroke="#231f20" stroke-width="0.12" transform="rotate(-45 450.73 1070.50)">POM 5 mpk</text>
<rect x="456.45" y="1024.60" width="8.90" height="39.30" fill="#8e8e8e" stroke="#111111" stroke-width="0.4"/>
<line x1="460.90" y1="1063.90" x2="460.90" y2="1066.50" stroke="#555" stroke-width="0.7"/>
<text x="464.10" y="1070.50" font-size="7.8" text-anchor="end" fill="#231f20" stroke="#231f20" stroke-width="0.12" transform="rotate(-45 464.10 1070.50)">G781 3.75 + POM 5</text>
<line x1="394.05" y1="1027.50" x2="394.05" y2="1043.50" stroke="#3648b0" stroke-width="0.6"/>
<line x1="392.05" y1="1027.50" x2="396.05" y2="1027.50" stroke="#3648b0" stroke-width="0.6"/>
<line x1="392.05" y1="1043.50" x2="396.05" y2="1043.50" stroke="#3648b0" stroke-width="0.6"/>
<line x1="407.42" y1="1034.00" x2="407.42" y2="1063.50" stroke="#e02a20" stroke-width="0.6"/>
<line x1="405.42" y1="1034.00" x2="409.42" y2="1034.00" stroke="#e02a20" stroke-width="0.6"/>
<line x1="405.42" y1="1063.50" x2="409.42" y2="1063.50" stroke="#e02a20" stroke-width="0.6"/>
<line x1="420.79" y1="1040.50" x2="420.79" y2="1045.00" stroke="#2ea02e" stroke-width="0.6"/>
<line x1="418.79" y1="1040.50" x2="422.79" y2="1040.50" stroke="#2ea02e" stroke-width="0.6"/>
<line x1="418.79" y1="1045.00" x2="422.79" y2="1045.00" stroke="#2ea02e" stroke-width="0.6"/>
<line x1="434.16" y1="1007.40" x2="434.16" y2="1035.50" stroke="#7030a0" stroke-width="0.6"/>
<line x1="432.16" y1="1007.40" x2="436.16" y2="1007.40" stroke="#7030a0" stroke-width="0.6"/>
<line x1="432.16" y1="1035.50" x2="436.16" y2="1035.50" stroke="#7030a0" stroke-width="0.6"/>
<line x1="447.53" y1="1016.00" x2="447.53" y2="1027.00" stroke="#f28410" stroke-width="0.6"/>
<line x1="445.53" y1="1016.00" x2="449.53" y2="1016.00" stroke="#f28410" stroke-width="0.6"/>
<line x1="445.53" y1="1027.00" x2="449.53" y2="1027.00" stroke="#f28410" stroke-width="0.6"/>
<line x1="460.90" y1="1018.50" x2="460.90" y2="1030.50" stroke="#111111" stroke-width="0.6"/>
<line x1="458.90" y1="1018.50" x2="462.90" y2="1018.50" stroke="#111111" stroke-width="0.6"/>
<line x1="458.90" y1="1030.50" x2="462.90" y2="1030.50" stroke="#111111" stroke-width="0.6"/>
<circle cx="394.45" cy="1018.50" r="1.6" fill="#3648b0"/>
<circle cx="393.45" cy="1021.50" r="1.6" fill="#3648b0"/>
<circle cx="391.96" cy="1026.45" r="1.6" fill="#3648b0"/>
<circle cx="394.55" cy="1026.70" r="1.6" fill="#3648b0"/>
<circle cx="392.96" cy="1028.05" r="1.6" fill="#3648b0"/>
<circle cx="393.45" cy="1028.90" r="1.6" fill="#3648b0"/>
<circle cx="395.59" cy="1031.06" r="1.6" fill="#3648b0"/>
<circle cx="393.90" cy="1031.57" r="1.6" fill="#3648b0"/>
<circle cx="392.23" cy="1032.23" r="1.6" fill="#3648b0"/>
<circle cx="393.36" cy="1033.54" r="1.6" fill="#3648b0"/>
<circle cx="395.50" cy="1034.53" r="1.6" fill="#3648b0"/>
<circle cx="391.95" cy="1036.60" r="1.6" fill="#3648b0"/>
<circle cx="394.17" cy="1036.75" r="1.6" fill="#3648b0"/>
<circle cx="394.24" cy="1037.73" r="1.6" fill="#3648b0"/>
<circle cx="394.17" cy="1039.99" r="1.6" fill="#3648b0"/>
<circle cx="395.65" cy="1040.76" r="1.6" fill="#3648b0"/>
<circle cx="393.00" cy="1041.49" r="1.6" fill="#3648b0"/>
<circle cx="392.58" cy="1043.09" r="1.6" fill="#3648b0"/>
<circle cx="394.19" cy="1044.22" r="1.6" fill="#3648b0"/>
<circle cx="393.30" cy="1044.67" r="1.6" fill="#3648b0"/>
<circle cx="407.72" cy="1038.50" r="1.6" fill="#e02a20"/>
<circle cx="407.42" cy="1060.50" r="1.6" fill="#e02a20"/>
<circle cx="419.59" cy="1041.00" r="1.6" fill="#2ea02e"/>
<circle cx="422.19" cy="1043.80" r="1.6" fill="#2ea02e"/>
<circle cx="434.16" cy="992.50" r="1.6" fill="#7030a0"/>
<circle cx="432.36" cy="1018.00" r="1.6" fill="#7030a0"/>
<circle cx="435.96" cy="1020.50" r="1.6" fill="#7030a0"/>
<circle cx="434.16" cy="1024.50" r="1.6" fill="#7030a0"/>
<circle cx="432.36" cy="1027.00" r="1.6" fill="#7030a0"/>
<circle cx="435.96" cy="1029.00" r="1.6" fill="#7030a0"/>
<circle cx="434.16" cy="1031.50" r="1.6" fill="#7030a0"/>
<circle cx="447.53" cy="1013.50" r="1.6" fill="#f28410"/>
<circle cx="445.53" cy="1018.50" r="1.6" fill="#f28410"/>
<circle cx="449.53" cy="1019.50" r="1.6" fill="#f28410"/>
<circle cx="446.13" cy="1022.50" r="1.6" fill="#f28410"/>
<circle cx="448.93" cy="1023.00" r="1.6" fill="#f28410"/>
<circle cx="447.53" cy="1026.50" r="1.6" fill="#f28410"/>
<circle cx="459.10" cy="1017.50" r="1.6" fill="#111111"/>
<circle cx="462.70" cy="1018.50" r="1.6" fill="#111111"/>
<circle cx="459.30" cy="1024.50" r="1.6" fill="#111111"/>
<circle cx="462.50" cy="1025.00" r="1.6" fill="#111111"/>
<circle cx="460.90" cy="1030.50" r="1.6" fill="#111111"/>
<line x1="395.00" y1="1009.20" x2="407.70" y2="1009.20" stroke="#666" stroke-width="0.7"/>
<line x1="395.00" y1="1007.80" x2="395.00" y2="1010.60" stroke="#666" stroke-width="0.7"/>
<line x1="407.70" y1="1007.80" x2="407.70" y2="1010.60" stroke="#666" stroke-width="0.7"/>
<text x="401.90" y="1008.49" font-size="8.2" text-anchor="middle" font-weight="bold" fill="#111" stroke="#111" stroke-width="0.12" letter-spacing="1.1">*</text>
<text x="37.0" y="1021.0" font-size="8" text-anchor="middle" fill="#231f20" transform="rotate(-90 37.0 1021.0)">10<tspan font-size="5.5" dy="-2.6">3</tspan><tspan dy="2.6">/μL</tspan></text>
</svg></body></html>
